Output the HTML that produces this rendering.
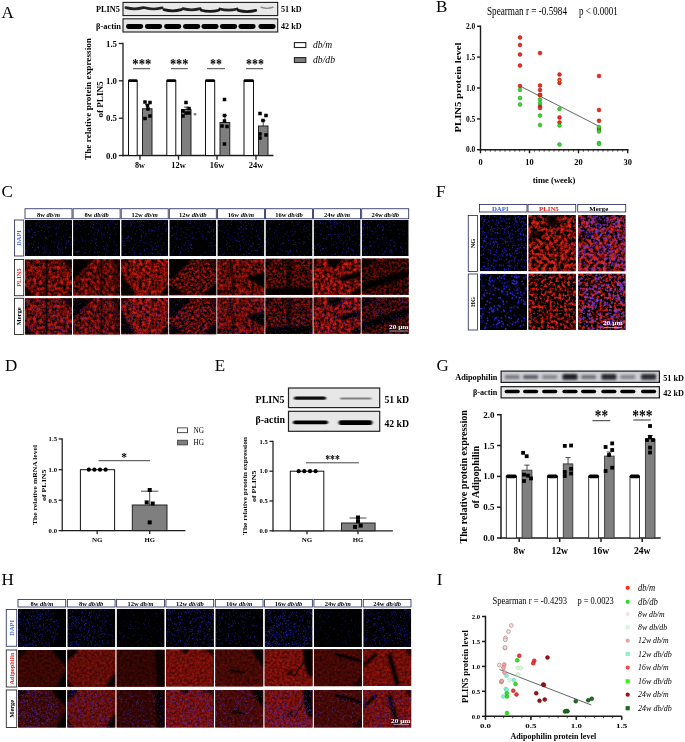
<!DOCTYPE html>
<html><head><meta charset="utf-8"><title>Figure</title>
<style>html,body{margin:0;padding:0;background:#fff}svg{display:block}text{font-family:'Liberation Serif','Times New Roman',serif}</style>
</head><body>
<svg width="685" height="742" viewBox="0 0 685 742">
<defs>
<filter id="b1" x="-20%" y="-100%" width="140%" height="300%"><feGaussianBlur stdDeviation="0.9 0.6"/></filter>
<filter id="b2" x="-20%" y="-100%" width="140%" height="300%"><feGaussianBlur stdDeviation="1.3 0.9"/></filter>
<filter id="b3" x="-20%" y="-100%" width="140%" height="300%"><feGaussianBlur stdDeviation="0.7 0.45"/></filter>
<filter id="rC" x="0" y="0" width="100%" height="100%" color-interpolation-filters="sRGB"><feTurbulence type="fractalNoise" baseFrequency="0.33" numOctaves="3" seed="3"/><feColorMatrix type="matrix" values="2.0 0 0 0 -0.5  0.240 0 0 0 -0.060  0.120 0 0 0 -0.030  0 0 0 0 1"/></filter>
<filter id="rC2" x="0" y="0" width="100%" height="100%" color-interpolation-filters="sRGB"><feTurbulence type="fractalNoise" baseFrequency="0.38" numOctaves="3" seed="11"/><feColorMatrix type="matrix" values="2.2 0 0 0 -0.72  0.264 0 0 0 -0.086  0.132 0 0 0 -0.043  0 0 0 0 1"/></filter>
<filter id="rH" x="0" y="0" width="100%" height="100%" color-interpolation-filters="sRGB"><feTurbulence type="fractalNoise" baseFrequency="0.4" numOctaves="3" seed="5"/><feColorMatrix type="matrix" values="0.7 0 0 0 0.15  0.091 0 0 0 0.019  0.056 0 0 0 0.012  0 0 0 0 1"/></filter>
<filter id="rFn" x="0" y="0" width="100%" height="100%" color-interpolation-filters="sRGB"><feTurbulence type="fractalNoise" baseFrequency="0.28" numOctaves="3" seed="9"/><feColorMatrix type="matrix" values="3.4 0 0 0 -1.22  0.476 0 0 0 -0.171  0.272 0 0 0 -0.098  0 0 0 0 1"/></filter>
<filter id="rFh" x="0" y="0" width="100%" height="100%" color-interpolation-filters="sRGB"><feTurbulence type="fractalNoise" baseFrequency="0.34" numOctaves="2" seed="13"/><feColorMatrix type="matrix" values="4.2 0 0 0 -1.82  0.546 0 0 0 -0.237  0.294 0 0 0 -0.127  0 0 0 0 1"/></filter>
<filter id="bl" x="-30%" y="-30%" width="160%" height="160%"><feGaussianBlur stdDeviation="1.2"/></filter>
<clipPath id="c1"><rect x="25.00" y="220.00" width="47.00" height="36.00"/></clipPath>
<clipPath id="c2"><rect x="25.00" y="259.50" width="47.00" height="36.25"/></clipPath>
<clipPath id="c3"><rect x="25.00" y="259.50" width="47.00" height="36.25"/></clipPath>
<clipPath id="c4"><rect x="73.10" y="220.00" width="47.00" height="36.00"/></clipPath>
<clipPath id="c5"><rect x="73.10" y="259.50" width="47.00" height="36.25"/></clipPath>
<clipPath id="c6"><rect x="73.10" y="259.50" width="47.00" height="36.25"/></clipPath>
<clipPath id="c7"><rect x="121.20" y="220.00" width="47.00" height="36.00"/></clipPath>
<clipPath id="c8"><rect x="121.20" y="259.50" width="47.00" height="36.25"/></clipPath>
<clipPath id="c9"><rect x="121.20" y="259.50" width="47.00" height="36.25"/></clipPath>
<clipPath id="c10"><rect x="169.30" y="220.00" width="47.00" height="36.00"/></clipPath>
<clipPath id="c11"><rect x="169.30" y="259.50" width="47.00" height="36.25"/></clipPath>
<clipPath id="c12"><rect x="169.30" y="259.50" width="47.00" height="36.25"/></clipPath>
<clipPath id="c13"><rect x="217.40" y="220.00" width="47.00" height="36.00"/></clipPath>
<clipPath id="c14"><rect x="217.40" y="259.50" width="47.00" height="36.25"/></clipPath>
<clipPath id="c15"><rect x="217.40" y="259.50" width="47.00" height="36.25"/></clipPath>
<clipPath id="c16"><rect x="265.50" y="220.00" width="47.00" height="36.00"/></clipPath>
<clipPath id="c17"><rect x="265.50" y="259.50" width="47.00" height="36.25"/></clipPath>
<clipPath id="c18"><rect x="265.50" y="259.50" width="47.00" height="36.25"/></clipPath>
<clipPath id="c19"><rect x="313.60" y="220.00" width="47.00" height="36.00"/></clipPath>
<clipPath id="c20"><rect x="313.60" y="259.50" width="47.00" height="36.25"/></clipPath>
<clipPath id="c21"><rect x="313.60" y="259.50" width="47.00" height="36.25"/></clipPath>
<clipPath id="c22"><rect x="361.70" y="220.00" width="47.00" height="36.00"/></clipPath>
<clipPath id="c23"><rect x="361.70" y="259.50" width="47.00" height="36.25"/></clipPath>
<clipPath id="c24"><rect x="361.70" y="259.50" width="47.00" height="36.25"/></clipPath>
<clipPath id="c25"><rect x="480.00" y="215.00" width="47.00" height="56.25"/></clipPath>
<clipPath id="c26"><rect x="528.50" y="215.00" width="47.25" height="56.25"/></clipPath>
<clipPath id="c27"><rect x="528.50" y="215.00" width="47.25" height="56.25"/></clipPath>
<clipPath id="c28"><rect x="578.25" y="215.00" width="47.50" height="56.25"/></clipPath>
<clipPath id="c29"><rect x="480.00" y="273.75" width="47.00" height="56.25"/></clipPath>
<clipPath id="c30"><rect x="528.50" y="273.75" width="47.25" height="56.25"/></clipPath>
<clipPath id="c31"><rect x="528.50" y="273.75" width="47.25" height="56.25"/></clipPath>
<clipPath id="c32"><rect x="578.25" y="273.75" width="47.50" height="56.25"/></clipPath>
<clipPath id="c33"><rect x="18.00" y="608.75" width="48.00" height="38.25"/></clipPath>
<clipPath id="c34"><rect x="18.00" y="650.00" width="48.00" height="37.00"/></clipPath>
<clipPath id="c35"><rect x="18.00" y="650.00" width="48.00" height="37.50"/></clipPath>
<clipPath id="c36"><rect x="67.32" y="608.75" width="48.00" height="38.25"/></clipPath>
<clipPath id="c37"><rect x="67.32" y="650.00" width="48.00" height="37.00"/></clipPath>
<clipPath id="c38"><rect x="67.32" y="650.00" width="48.00" height="37.50"/></clipPath>
<clipPath id="c39"><rect x="116.64" y="608.75" width="48.00" height="38.25"/></clipPath>
<clipPath id="c40"><rect x="116.64" y="650.00" width="48.00" height="37.00"/></clipPath>
<clipPath id="c41"><rect x="116.64" y="650.00" width="48.00" height="37.50"/></clipPath>
<clipPath id="c42"><rect x="165.96" y="608.75" width="48.00" height="38.25"/></clipPath>
<clipPath id="c43"><rect x="165.96" y="650.00" width="48.00" height="37.00"/></clipPath>
<clipPath id="c44"><rect x="165.96" y="650.00" width="48.00" height="37.50"/></clipPath>
<clipPath id="c45"><rect x="215.28" y="608.75" width="48.00" height="38.25"/></clipPath>
<clipPath id="c46"><rect x="215.28" y="650.00" width="48.00" height="37.00"/></clipPath>
<clipPath id="c47"><rect x="215.28" y="650.00" width="48.00" height="37.50"/></clipPath>
<clipPath id="c48"><rect x="264.60" y="608.75" width="48.00" height="38.25"/></clipPath>
<clipPath id="c49"><rect x="264.60" y="650.00" width="48.00" height="37.00"/></clipPath>
<clipPath id="c50"><rect x="264.60" y="650.00" width="48.00" height="37.50"/></clipPath>
<clipPath id="c51"><rect x="313.92" y="608.75" width="48.00" height="38.25"/></clipPath>
<clipPath id="c52"><rect x="313.92" y="650.00" width="48.00" height="37.00"/></clipPath>
<clipPath id="c53"><rect x="313.92" y="650.00" width="48.00" height="37.50"/></clipPath>
<clipPath id="c54"><rect x="363.24" y="608.75" width="48.00" height="38.25"/></clipPath>
<clipPath id="c55"><rect x="363.24" y="650.00" width="48.00" height="37.00"/></clipPath>
<clipPath id="c56"><rect x="363.24" y="650.00" width="48.00" height="37.50"/></clipPath>
</defs>
<rect width="685" height="742" fill="#fff"/>
<text x="1.50" y="18.00" font-size="17">A</text>
<text x="436.00" y="12.00" font-size="17">B</text>
<text x="1.50" y="197.00" font-size="17">C</text>
<text x="5.00" y="371.20" font-size="17">D</text>
<text x="214.70" y="371.00" font-size="17">E</text>
<text x="436.00" y="197.00" font-size="17">F</text>
<text x="436.50" y="370.60" font-size="17">G</text>
<text x="1.50" y="584.50" font-size="17">H</text>
<text x="436.75" y="585.00" font-size="17">I</text>
<text x="96.00" y="12.00" font-size="8.6" font-weight="bold" textLength="24.00" lengthAdjust="spacingAndGlyphs">PLIN5</text>
<text x="96.00" y="28.60" font-size="8.6" font-weight="bold" textLength="25.00" lengthAdjust="spacingAndGlyphs">β-actin</text>
<text x="281.00" y="12.00" font-size="8.6" font-weight="bold" textLength="20.50" lengthAdjust="spacingAndGlyphs">51 kD</text>
<text x="281.00" y="28.80" font-size="8.6" font-weight="bold" textLength="20.50" lengthAdjust="spacingAndGlyphs">42 kD</text>
<rect x="123.00" y="2.40" width="154.70" height="13.20" fill="#e9e9e9"/>
<g filter="url(#b3)">
<path d="M125.8 7.6 Q134.6 10.0 143.3 7.6" fill="none" stroke="#111" stroke-width="2.7" stroke-linecap="round" opacity="0.9"/>
<path d="M144.8 7.8 Q153.5 10.2 162.2 7.8" fill="none" stroke="#111" stroke-width="2.7" stroke-linecap="round" opacity="0.9"/>
<path d="M163.9 9.6 Q172.7 12.0 181.4 9.6" fill="none" stroke="#111" stroke-width="2.7" stroke-linecap="round" opacity="0.95"/>
<path d="M182.8 8.6 Q191.6 11.0 200.3 8.6" fill="none" stroke="#111" stroke-width="2.7" stroke-linecap="round" opacity="0.9"/>
<path d="M201.2 10.2 Q210.0 12.6 218.8 10.2" fill="none" stroke="#111" stroke-width="2.7" stroke-linecap="round" opacity="0.95"/>
<path d="M219.8 9.0 Q228.5 11.4 237.2 9.0" fill="none" stroke="#111" stroke-width="2.7" stroke-linecap="round" opacity="0.9"/>
<path d="M238.2 10.4 Q247.0 12.8 255.8 10.4" fill="none" stroke="#111" stroke-width="2.7" stroke-linecap="round" opacity="0.95"/>
<path d="M261.0 7.2 Q267.0 9.6 273.0 7.2" fill="none" stroke="#111" stroke-width="1.4" stroke-linecap="round" opacity="0.45"/>
</g>
<rect x="123.00" y="2.40" width="154.70" height="13.20" fill="none" stroke="#1a1a1a" stroke-width="1.1"/>
<rect x="123.00" y="18.80" width="154.70" height="13.20" fill="#e4e4e4"/>
<g filter="url(#b3)">
<rect x="126.0" y="23.9" width="17.2" height="5" rx="2.4" fill="#050505"/>
<rect x="144.9" y="23.9" width="17.2" height="5" rx="2.4" fill="#050505"/>
<rect x="164.1" y="23.9" width="17.2" height="5" rx="2.4" fill="#050505"/>
<rect x="183.0" y="23.9" width="17.2" height="5" rx="2.4" fill="#050505"/>
<rect x="201.4" y="23.9" width="17.2" height="5" rx="2.4" fill="#050505"/>
<rect x="219.9" y="23.9" width="17.2" height="5" rx="2.4" fill="#050505"/>
<rect x="238.4" y="23.9" width="17.2" height="5" rx="2.4" fill="#050505"/>
<rect x="258.4" y="23.9" width="17.2" height="5" rx="2.4" fill="#050505"/>
</g>
<rect x="123.00" y="18.80" width="154.70" height="13.20" fill="none" stroke="#1a1a1a" stroke-width="1.1"/>
<line x1="123.00" y1="42.85" x2="123.00" y2="156.15" stroke="#1c1c1c" stroke-width="1.3"/>
<line x1="122.35" y1="155.50" x2="273.50" y2="155.50" stroke="#1c1c1c" stroke-width="1.3"/>
<line x1="118.80" y1="43.50" x2="123.00" y2="43.50" stroke="#1c1c1c" stroke-width="1.3"/>
<text x="117.00" y="46.72" font-size="8.6" font-weight="bold" text-anchor="end" textLength="11.00" lengthAdjust="spacingAndGlyphs">1.5</text>
<line x1="118.80" y1="80.80" x2="123.00" y2="80.80" stroke="#1c1c1c" stroke-width="1.3"/>
<text x="117.00" y="84.02" font-size="8.6" font-weight="bold" text-anchor="end" textLength="11.00" lengthAdjust="spacingAndGlyphs">1.0</text>
<line x1="118.80" y1="118.20" x2="123.00" y2="118.20" stroke="#1c1c1c" stroke-width="1.3"/>
<text x="117.00" y="121.42" font-size="8.6" font-weight="bold" text-anchor="end" textLength="11.00" lengthAdjust="spacingAndGlyphs">0.5</text>
<line x1="118.80" y1="155.50" x2="123.00" y2="155.50" stroke="#1c1c1c" stroke-width="1.3"/>
<text x="117.00" y="158.72" font-size="8.6" font-weight="bold" text-anchor="end" textLength="11.00" lengthAdjust="spacingAndGlyphs">0.0</text>
<line x1="140.00" y1="155.50" x2="140.00" y2="159.70" stroke="#1c1c1c" stroke-width="1.3"/>
<line x1="178.50" y1="155.50" x2="178.50" y2="159.70" stroke="#1c1c1c" stroke-width="1.3"/>
<line x1="217.00" y1="155.50" x2="217.00" y2="159.70" stroke="#1c1c1c" stroke-width="1.3"/>
<line x1="256.00" y1="155.50" x2="256.00" y2="159.70" stroke="#1c1c1c" stroke-width="1.3"/>
<text x="140.00" y="168.30" font-size="8.6" font-weight="bold" text-anchor="middle" textLength="10.00" lengthAdjust="spacingAndGlyphs">8w</text>
<text x="178.50" y="168.30" font-size="8.6" font-weight="bold" text-anchor="middle" textLength="14.50" lengthAdjust="spacingAndGlyphs">12w</text>
<text x="217.00" y="168.30" font-size="8.6" font-weight="bold" text-anchor="middle" textLength="14.50" lengthAdjust="spacingAndGlyphs">16w</text>
<text x="256.00" y="168.30" font-size="8.6" font-weight="bold" text-anchor="middle" textLength="14.50" lengthAdjust="spacingAndGlyphs">24w</text>
<text x="91.00" y="99.00" font-size="9" font-weight="bold" text-anchor="middle" textLength="122.00" lengthAdjust="spacingAndGlyphs" transform="rotate(-90 91.00 99.00)">The relative protein expression</text>
<text x="103.00" y="99.50" font-size="9" font-weight="bold" text-anchor="middle" textLength="36.00" lengthAdjust="spacingAndGlyphs" transform="rotate(-90 103.00 99.50)">of PLIN5</text>
<rect x="294.40" y="42.60" width="11.40" height="4.90" fill="#fff" stroke="#222" stroke-width="1.1"/>
<rect x="294.40" y="57.60" width="11.40" height="4.90" fill="#7f7f7f" stroke="#222" stroke-width="1.1"/>
<text x="313.00" y="47.50" font-size="9.5" font-style="italic" textLength="19.00" lengthAdjust="spacingAndGlyphs">db/m</text>
<text x="313.00" y="62.50" font-size="9.5" font-style="italic" textLength="22.00" lengthAdjust="spacingAndGlyphs">db/db</text>
<rect x="128.50" y="80.80" width="8.70" height="74.70" fill="#fff" stroke="#111" stroke-width="1.0"/>
<rect x="128.20" y="79.20" width="9.30" height="2.70" fill="#000" rx="1.2"/>
<rect x="166.80" y="80.80" width="9.00" height="74.70" fill="#fff" stroke="#111" stroke-width="1.0"/>
<rect x="166.50" y="79.20" width="9.60" height="2.70" fill="#000" rx="1.2"/>
<rect x="205.50" y="80.80" width="9.20" height="74.70" fill="#fff" stroke="#111" stroke-width="1.0"/>
<rect x="205.20" y="79.20" width="9.80" height="2.70" fill="#000" rx="1.2"/>
<rect x="244.00" y="80.80" width="9.50" height="74.70" fill="#fff" stroke="#111" stroke-width="1.0"/>
<rect x="243.70" y="79.20" width="10.10" height="2.70" fill="#000" rx="1.2"/>
<rect x="142.50" y="108.75" width="9.50" height="46.75" fill="#7f7f7f" stroke="#222" stroke-width="1.0"/>
<line x1="147.25" y1="108.75" x2="147.25" y2="104.50" stroke="#1c1c1c" stroke-width="0.8"/>
<line x1="145.05" y1="104.50" x2="149.45" y2="104.50" stroke="#1c1c1c" stroke-width="0.8"/>
<rect x="181.50" y="109.50" width="9.50" height="46.00" fill="#7f7f7f" stroke="#222" stroke-width="1.0"/>
<line x1="186.25" y1="109.50" x2="186.25" y2="107.00" stroke="#1c1c1c" stroke-width="0.8"/>
<line x1="184.05" y1="107.00" x2="188.45" y2="107.00" stroke="#1c1c1c" stroke-width="0.8"/>
<rect x="220.00" y="122.50" width="9.75" height="33.00" fill="#7f7f7f" stroke="#222" stroke-width="1.0"/>
<line x1="224.88" y1="122.50" x2="224.88" y2="115.50" stroke="#1c1c1c" stroke-width="0.8"/>
<line x1="222.68" y1="115.50" x2="227.07" y2="115.50" stroke="#1c1c1c" stroke-width="0.8"/>
<rect x="258.50" y="126.00" width="9.50" height="29.50" fill="#7f7f7f" stroke="#222" stroke-width="1.0"/>
<line x1="263.25" y1="126.00" x2="263.25" y2="120.50" stroke="#1c1c1c" stroke-width="0.8"/>
<line x1="261.05" y1="120.50" x2="265.45" y2="120.50" stroke="#1c1c1c" stroke-width="0.8"/>
<rect x="143.25" y="100.25" width="3.50" height="3.50" fill="#000"/>
<rect x="148.25" y="100.75" width="3.50" height="3.50" fill="#000"/>
<rect x="145.75" y="103.75" width="3.50" height="3.50" fill="#000"/>
<rect x="146.25" y="107.25" width="3.50" height="3.50" fill="#000"/>
<rect x="148.25" y="114.25" width="3.50" height="3.50" fill="#000"/>
<rect x="143.25" y="116.75" width="3.50" height="3.50" fill="#000"/>
<rect x="184.25" y="100.75" width="3.50" height="3.50" fill="#000"/>
<rect x="187.25" y="106.75" width="3.50" height="3.50" fill="#000"/>
<rect x="181.25" y="109.25" width="3.50" height="3.50" fill="#000"/>
<rect x="184.25" y="111.25" width="3.50" height="3.50" fill="#000"/>
<rect x="187.25" y="111.25" width="3.50" height="3.50" fill="#000"/>
<rect x="181.25" y="114.25" width="3.50" height="3.50" fill="#000"/>
<rect x="222.75" y="97.75" width="3.50" height="3.50" fill="#000"/>
<rect x="222.75" y="113.75" width="3.50" height="3.50" fill="#000"/>
<rect x="222.75" y="119.25" width="3.50" height="3.50" fill="#000"/>
<rect x="220.25" y="124.25" width="3.50" height="3.50" fill="#000"/>
<rect x="225.25" y="124.75" width="3.50" height="3.50" fill="#000"/>
<rect x="222.75" y="142.25" width="3.50" height="3.50" fill="#000"/>
<rect x="258.25" y="111.75" width="3.50" height="3.50" fill="#000"/>
<rect x="264.25" y="113.75" width="3.50" height="3.50" fill="#000"/>
<rect x="261.25" y="118.75" width="3.50" height="3.50" fill="#000"/>
<rect x="258.25" y="132.25" width="3.50" height="3.50" fill="#000"/>
<rect x="264.25" y="133.25" width="3.50" height="3.50" fill="#000"/>
<rect x="258.25" y="136.25" width="3.50" height="3.50" fill="#000"/>
<text x="141.80" y="68.60" font-size="15" font-weight="bold" text-anchor="middle" textLength="19.00" lengthAdjust="spacingAndGlyphs">***</text>
<line x1="133.00" y1="68.70" x2="150.10" y2="68.70" stroke="#444" stroke-width="1.0"/>
<text x="179.20" y="68.60" font-size="15" font-weight="bold" text-anchor="middle" textLength="18.60" lengthAdjust="spacingAndGlyphs">***</text>
<line x1="171.00" y1="68.70" x2="187.80" y2="68.70" stroke="#444" stroke-width="1.0"/>
<text x="216.00" y="68.60" font-size="15" font-weight="bold" text-anchor="middle" textLength="12.00" lengthAdjust="spacingAndGlyphs">**</text>
<line x1="207.00" y1="68.70" x2="225.00" y2="68.70" stroke="#444" stroke-width="1.0"/>
<text x="255.00" y="68.60" font-size="15" font-weight="bold" text-anchor="middle" textLength="18.00" lengthAdjust="spacingAndGlyphs">***</text>
<line x1="246.00" y1="68.70" x2="263.00" y2="68.70" stroke="#444" stroke-width="1.0"/>
<text x="195.00" y="117.20" font-size="7" font-weight="bold" text-anchor="middle" fill="#444">*</text>
<text x="487.00" y="15.00" font-size="12" textLength="80.00" lengthAdjust="spacingAndGlyphs">Spearman r = -0.5984</text>
<text x="579.00" y="15.00" font-size="12" textLength="38.75" lengthAdjust="spacingAndGlyphs">p &lt; 0.0001</text>
<line x1="480.50" y1="25.55" x2="480.50" y2="150.40" stroke="#1c1c1c" stroke-width="1.4"/>
<line x1="479.80" y1="149.70" x2="628.50" y2="149.70" stroke="#1c1c1c" stroke-width="1.4"/>
<line x1="477.00" y1="26.25" x2="480.50" y2="26.25" stroke="#1c1c1c" stroke-width="1.4"/>
<text x="475.30" y="29.00" font-size="7.2" font-weight="bold" text-anchor="end" textLength="9.30" lengthAdjust="spacingAndGlyphs">2.0</text>
<line x1="477.00" y1="57.10" x2="480.50" y2="57.10" stroke="#1c1c1c" stroke-width="1.4"/>
<text x="475.30" y="59.85" font-size="7.2" font-weight="bold" text-anchor="end" textLength="9.30" lengthAdjust="spacingAndGlyphs">1.5</text>
<line x1="477.00" y1="88.00" x2="480.50" y2="88.00" stroke="#1c1c1c" stroke-width="1.4"/>
<text x="475.30" y="90.75" font-size="7.2" font-weight="bold" text-anchor="end" textLength="9.30" lengthAdjust="spacingAndGlyphs">1.0</text>
<line x1="477.00" y1="118.90" x2="480.50" y2="118.90" stroke="#1c1c1c" stroke-width="1.4"/>
<text x="475.30" y="121.65" font-size="7.2" font-weight="bold" text-anchor="end" textLength="9.30" lengthAdjust="spacingAndGlyphs">0.5</text>
<line x1="477.00" y1="149.70" x2="480.50" y2="149.70" stroke="#1c1c1c" stroke-width="1.4"/>
<text x="475.30" y="152.45" font-size="7.2" font-weight="bold" text-anchor="end" textLength="9.30" lengthAdjust="spacingAndGlyphs">0.0</text>
<line x1="480.50" y1="149.70" x2="480.50" y2="151.70" stroke="#1c1c1c" stroke-width="0.8"/>
<line x1="485.40" y1="149.70" x2="485.40" y2="151.70" stroke="#1c1c1c" stroke-width="0.8"/>
<line x1="490.30" y1="149.70" x2="490.30" y2="151.70" stroke="#1c1c1c" stroke-width="0.8"/>
<line x1="495.20" y1="149.70" x2="495.20" y2="151.70" stroke="#1c1c1c" stroke-width="0.8"/>
<line x1="500.10" y1="149.70" x2="500.10" y2="151.70" stroke="#1c1c1c" stroke-width="0.8"/>
<line x1="505.00" y1="149.70" x2="505.00" y2="151.70" stroke="#1c1c1c" stroke-width="0.8"/>
<line x1="509.90" y1="149.70" x2="509.90" y2="151.70" stroke="#1c1c1c" stroke-width="0.8"/>
<line x1="514.80" y1="149.70" x2="514.80" y2="151.70" stroke="#1c1c1c" stroke-width="0.8"/>
<line x1="519.70" y1="149.70" x2="519.70" y2="151.70" stroke="#1c1c1c" stroke-width="0.8"/>
<line x1="524.60" y1="149.70" x2="524.60" y2="151.70" stroke="#1c1c1c" stroke-width="0.8"/>
<line x1="529.50" y1="149.70" x2="529.50" y2="151.70" stroke="#1c1c1c" stroke-width="0.8"/>
<line x1="534.40" y1="149.70" x2="534.40" y2="151.70" stroke="#1c1c1c" stroke-width="0.8"/>
<line x1="539.30" y1="149.70" x2="539.30" y2="151.70" stroke="#1c1c1c" stroke-width="0.8"/>
<line x1="544.20" y1="149.70" x2="544.20" y2="151.70" stroke="#1c1c1c" stroke-width="0.8"/>
<line x1="549.10" y1="149.70" x2="549.10" y2="151.70" stroke="#1c1c1c" stroke-width="0.8"/>
<line x1="554.00" y1="149.70" x2="554.00" y2="151.70" stroke="#1c1c1c" stroke-width="0.8"/>
<line x1="558.90" y1="149.70" x2="558.90" y2="151.70" stroke="#1c1c1c" stroke-width="0.8"/>
<line x1="563.80" y1="149.70" x2="563.80" y2="151.70" stroke="#1c1c1c" stroke-width="0.8"/>
<line x1="568.70" y1="149.70" x2="568.70" y2="151.70" stroke="#1c1c1c" stroke-width="0.8"/>
<line x1="573.60" y1="149.70" x2="573.60" y2="151.70" stroke="#1c1c1c" stroke-width="0.8"/>
<line x1="578.50" y1="149.70" x2="578.50" y2="151.70" stroke="#1c1c1c" stroke-width="0.8"/>
<line x1="583.40" y1="149.70" x2="583.40" y2="151.70" stroke="#1c1c1c" stroke-width="0.8"/>
<line x1="588.30" y1="149.70" x2="588.30" y2="151.70" stroke="#1c1c1c" stroke-width="0.8"/>
<line x1="593.20" y1="149.70" x2="593.20" y2="151.70" stroke="#1c1c1c" stroke-width="0.8"/>
<line x1="598.10" y1="149.70" x2="598.10" y2="151.70" stroke="#1c1c1c" stroke-width="0.8"/>
<line x1="603.00" y1="149.70" x2="603.00" y2="151.70" stroke="#1c1c1c" stroke-width="0.8"/>
<line x1="607.90" y1="149.70" x2="607.90" y2="151.70" stroke="#1c1c1c" stroke-width="0.8"/>
<line x1="612.80" y1="149.70" x2="612.80" y2="151.70" stroke="#1c1c1c" stroke-width="0.8"/>
<line x1="617.70" y1="149.70" x2="617.70" y2="151.70" stroke="#1c1c1c" stroke-width="0.8"/>
<line x1="622.60" y1="149.70" x2="622.60" y2="151.70" stroke="#1c1c1c" stroke-width="0.8"/>
<line x1="627.50" y1="149.70" x2="627.50" y2="151.70" stroke="#1c1c1c" stroke-width="0.8"/>
<line x1="480.50" y1="149.70" x2="480.50" y2="153.30" stroke="#1c1c1c" stroke-width="1.4"/>
<text x="480.50" y="165.00" font-size="7.4" font-weight="bold" text-anchor="middle" textLength="4.20" lengthAdjust="spacingAndGlyphs">0</text>
<line x1="529.50" y1="149.70" x2="529.50" y2="153.30" stroke="#1c1c1c" stroke-width="1.4"/>
<text x="529.50" y="165.00" font-size="7.4" font-weight="bold" text-anchor="middle" textLength="8.40" lengthAdjust="spacingAndGlyphs">10</text>
<line x1="578.50" y1="149.70" x2="578.50" y2="153.30" stroke="#1c1c1c" stroke-width="1.4"/>
<text x="578.50" y="165.00" font-size="7.4" font-weight="bold" text-anchor="middle" textLength="8.40" lengthAdjust="spacingAndGlyphs">20</text>
<line x1="627.70" y1="149.70" x2="627.70" y2="153.30" stroke="#1c1c1c" stroke-width="1.4"/>
<text x="627.70" y="165.00" font-size="7.4" font-weight="bold" text-anchor="middle" textLength="8.40" lengthAdjust="spacingAndGlyphs">30</text>
<text x="532.75" y="183.30" font-size="9" font-weight="bold" textLength="42.50" lengthAdjust="spacingAndGlyphs">time (week)</text>
<text x="460.70" y="87.50" font-size="8.4" font-weight="bold" text-anchor="middle" textLength="90.00" lengthAdjust="spacingAndGlyphs" transform="rotate(-90 460.70 87.50)">PLIN5 protein level</text>
<line x1="520.00" y1="86.00" x2="599.00" y2="126.25" stroke="#222" stroke-width="0.7"/>
<circle cx="520.00" cy="37.50" r="1.9" fill="#ee2a1c" stroke="#a01008" stroke-width="0.5"/>
<circle cx="520.00" cy="45.00" r="1.9" fill="#ee2a1c" stroke="#a01008" stroke-width="0.5"/>
<circle cx="520.00" cy="54.50" r="1.9" fill="#ee2a1c" stroke="#a01008" stroke-width="0.5"/>
<circle cx="520.00" cy="65.50" r="1.9" fill="#ee2a1c" stroke="#a01008" stroke-width="0.5"/>
<circle cx="520.00" cy="86.00" r="1.9" fill="#ee2a1c" stroke="#a01008" stroke-width="0.5"/>
<circle cx="540.00" cy="53.00" r="1.9" fill="#ee2a1c" stroke="#a01008" stroke-width="0.5"/>
<circle cx="540.00" cy="85.50" r="1.9" fill="#ee2a1c" stroke="#a01008" stroke-width="0.5"/>
<circle cx="540.00" cy="90.00" r="1.9" fill="#ee2a1c" stroke="#a01008" stroke-width="0.5"/>
<circle cx="540.00" cy="95.00" r="1.9" fill="#ee2a1c" stroke="#a01008" stroke-width="0.5"/>
<circle cx="540.00" cy="106.00" r="1.9" fill="#ee2a1c" stroke="#a01008" stroke-width="0.5"/>
<circle cx="540.00" cy="108.00" r="1.9" fill="#ee2a1c" stroke="#a01008" stroke-width="0.5"/>
<circle cx="559.50" cy="74.50" r="1.9" fill="#ee2a1c" stroke="#a01008" stroke-width="0.5"/>
<circle cx="559.50" cy="80.00" r="1.9" fill="#ee2a1c" stroke="#a01008" stroke-width="0.5"/>
<circle cx="559.50" cy="83.00" r="1.9" fill="#ee2a1c" stroke="#a01008" stroke-width="0.5"/>
<circle cx="559.50" cy="117.50" r="1.9" fill="#ee2a1c" stroke="#a01008" stroke-width="0.5"/>
<circle cx="559.50" cy="122.50" r="1.9" fill="#ee2a1c" stroke="#a01008" stroke-width="0.5"/>
<circle cx="599.00" cy="76.00" r="1.9" fill="#ee2a1c" stroke="#a01008" stroke-width="0.5"/>
<circle cx="599.00" cy="110.00" r="1.9" fill="#ee2a1c" stroke="#a01008" stroke-width="0.5"/>
<circle cx="599.00" cy="120.75" r="1.9" fill="#ee2a1c" stroke="#a01008" stroke-width="0.5"/>
<circle cx="599.00" cy="128.50" r="1.9" fill="#ee2a1c" stroke="#a01008" stroke-width="0.5"/>
<circle cx="599.00" cy="130.00" r="1.9" fill="#ee2a1c" stroke="#a01008" stroke-width="0.5"/>
<circle cx="520.00" cy="90.00" r="1.9" fill="#35d52e" stroke="#1f9a1a" stroke-width="0.5"/>
<circle cx="520.00" cy="98.00" r="1.9" fill="#35d52e" stroke="#1f9a1a" stroke-width="0.5"/>
<circle cx="520.00" cy="104.50" r="1.9" fill="#35d52e" stroke="#1f9a1a" stroke-width="0.5"/>
<circle cx="540.00" cy="99.50" r="1.9" fill="#35d52e" stroke="#1f9a1a" stroke-width="0.5"/>
<circle cx="540.00" cy="103.00" r="1.9" fill="#35d52e" stroke="#1f9a1a" stroke-width="0.5"/>
<circle cx="540.00" cy="115.50" r="1.9" fill="#35d52e" stroke="#1f9a1a" stroke-width="0.5"/>
<circle cx="540.00" cy="125.00" r="1.9" fill="#35d52e" stroke="#1f9a1a" stroke-width="0.5"/>
<circle cx="559.50" cy="109.00" r="1.9" fill="#35d52e" stroke="#1f9a1a" stroke-width="0.5"/>
<circle cx="559.50" cy="125.50" r="1.9" fill="#35d52e" stroke="#1f9a1a" stroke-width="0.5"/>
<circle cx="559.50" cy="144.50" r="1.9" fill="#35d52e" stroke="#1f9a1a" stroke-width="0.5"/>
<circle cx="599.00" cy="127.00" r="1.9" fill="#35d52e" stroke="#1f9a1a" stroke-width="0.5"/>
<circle cx="599.00" cy="131.50" r="1.9" fill="#35d52e" stroke="#1f9a1a" stroke-width="0.5"/>
<circle cx="599.00" cy="143.00" r="1.9" fill="#35d52e" stroke="#1f9a1a" stroke-width="0.5"/>
<circle cx="599.00" cy="144.00" r="1.9" fill="#35d52e" stroke="#1f9a1a" stroke-width="0.5"/>
<circle cx="540.00" cy="95.00" r="1.9" fill="#ee2a1c" stroke="#a01008" stroke-width="0.5"/>
<circle cx="559.50" cy="80.50" r="1.0" fill="#c8b020"/>
<line x1="62.20" y1="438.38" x2="62.20" y2="531.23" stroke="#1c1c1c" stroke-width="1.25"/>
<line x1="61.58" y1="530.60" x2="185.40" y2="530.60" stroke="#1c1c1c" stroke-width="1.25"/>
<line x1="58.70" y1="439.00" x2="62.20" y2="439.00" stroke="#1c1c1c" stroke-width="1.25"/>
<text x="57.00" y="441.34" font-size="6.0" font-weight="bold" text-anchor="end" textLength="8.40" lengthAdjust="spacingAndGlyphs">1.5</text>
<line x1="58.70" y1="469.70" x2="62.20" y2="469.70" stroke="#1c1c1c" stroke-width="1.25"/>
<text x="57.00" y="472.04" font-size="6.0" font-weight="bold" text-anchor="end" textLength="8.40" lengthAdjust="spacingAndGlyphs">1.0</text>
<line x1="58.70" y1="500.20" x2="62.20" y2="500.20" stroke="#1c1c1c" stroke-width="1.25"/>
<text x="57.00" y="502.54" font-size="6.0" font-weight="bold" text-anchor="end" textLength="8.40" lengthAdjust="spacingAndGlyphs">0.5</text>
<line x1="58.70" y1="530.60" x2="62.20" y2="530.60" stroke="#1c1c1c" stroke-width="1.25"/>
<text x="57.00" y="532.94" font-size="6.0" font-weight="bold" text-anchor="end" textLength="8.40" lengthAdjust="spacingAndGlyphs">0.0</text>
<line x1="97.20" y1="530.60" x2="97.20" y2="534.10" stroke="#1c1c1c" stroke-width="1.25"/>
<line x1="149.70" y1="530.60" x2="149.70" y2="534.10" stroke="#1c1c1c" stroke-width="1.25"/>
<rect x="80.40" y="469.70" width="34.20" height="60.90" fill="#fff" stroke="#111" stroke-width="1.0"/>
<rect x="132.30" y="505.00" width="34.70" height="25.60" fill="#7f7f7f" stroke="#222" stroke-width="1.0"/>
<circle cx="88.80" cy="469.70" r="2.1" fill="#000"/>
<circle cx="94.40" cy="469.70" r="2.1" fill="#000"/>
<circle cx="100.00" cy="469.70" r="2.1" fill="#000"/>
<circle cx="105.60" cy="469.70" r="2.1" fill="#000"/>
<line x1="149.70" y1="505.00" x2="149.70" y2="491.20" stroke="#1c1c1c" stroke-width="0.8"/>
<line x1="141.00" y1="491.20" x2="158.30" y2="491.20" stroke="#1c1c1c" stroke-width="0.8"/>
<rect x="147.70" y="488.00" width="4.00" height="4.00" fill="#000"/>
<rect x="144.70" y="500.40" width="4.00" height="4.00" fill="#000"/>
<rect x="150.70" y="501.50" width="4.00" height="4.00" fill="#000"/>
<rect x="147.70" y="520.40" width="4.00" height="4.00" fill="#000"/>
<line x1="98.50" y1="460.70" x2="150.00" y2="460.70" stroke="#444" stroke-width="1.0"/>
<text x="124.00" y="460.60" font-size="11.5" font-weight="bold" text-anchor="middle">*</text>
<text x="97.20" y="542.00" font-size="6.3" font-weight="bold" text-anchor="middle" textLength="10.50" lengthAdjust="spacingAndGlyphs">NG</text>
<text x="149.70" y="542.00" font-size="6.3" font-weight="bold" text-anchor="middle" textLength="10.50" lengthAdjust="spacingAndGlyphs">HG</text>
<text x="37.00" y="485.00" font-size="6.7" font-weight="bold" text-anchor="middle" textLength="80.00" lengthAdjust="spacingAndGlyphs" transform="rotate(-90 37.00 485.00)">The relative mRNA level</text>
<text x="45.70" y="485.30" font-size="6.7" font-weight="bold" text-anchor="middle" textLength="31.50" lengthAdjust="spacingAndGlyphs" transform="rotate(-90 45.70 485.30)">of PLIN5</text>
<rect x="177.60" y="427.90" width="9.90" height="4.80" fill="#fff" stroke="#222" stroke-width="0.8"/>
<rect x="177.60" y="440.20" width="9.90" height="4.70" fill="#7f7f7f" stroke="#333" stroke-width="0.8"/>
<text x="193.50" y="432.90" font-size="7.3" textLength="10.50" lengthAdjust="spacingAndGlyphs">NG</text>
<text x="193.50" y="445.10" font-size="7.3" textLength="10.50" lengthAdjust="spacingAndGlyphs">HG</text>
<text x="255.50" y="403.30" font-size="11.4" font-weight="bold" textLength="29.00" lengthAdjust="spacingAndGlyphs">PLIN5</text>
<text x="255.50" y="422.60" font-size="11.4" font-weight="bold" textLength="29.50" lengthAdjust="spacingAndGlyphs">β-actin</text>
<text x="384.40" y="402.90" font-size="11.4" font-weight="bold" textLength="24.60" lengthAdjust="spacingAndGlyphs">51 kD</text>
<text x="384.40" y="427.10" font-size="11.4" font-weight="bold" textLength="24.60" lengthAdjust="spacingAndGlyphs">42 kD</text>
<rect x="288.50" y="388.00" width="91.20" height="19.60" fill="#e7e7e7"/>
<g filter="url(#b1)">
<rect x="294" y="396.5" width="32" height="3.3" rx="1.6" fill="#0a0a0a"/>
<rect x="340" y="397.4" width="31.5" height="2.0" rx="1" fill="#555" opacity="0.7"/>
</g>
<rect x="288.50" y="388.00" width="91.20" height="19.60" fill="none" stroke="#222" stroke-width="1.2"/>
<rect x="288.50" y="411.30" width="91.20" height="20.00" fill="#e7e7e7"/>
<g filter="url(#b1)">
<rect x="293" y="420.6" width="35" height="3.6" rx="1.8" fill="#050505"/>
<rect x="338.5" y="420.3" width="34" height="4.8" rx="2.4" fill="#050505"/>
</g>
<rect x="288.50" y="411.30" width="91.20" height="20.00" fill="none" stroke="#222" stroke-width="1.2"/>
<line x1="273.00" y1="440.77" x2="273.00" y2="531.42" stroke="#1c1c1c" stroke-width="1.25"/>
<line x1="272.38" y1="530.80" x2="392.90" y2="530.80" stroke="#1c1c1c" stroke-width="1.25"/>
<line x1="269.50" y1="441.40" x2="273.00" y2="441.40" stroke="#1c1c1c" stroke-width="1.25"/>
<text x="267.80" y="443.67" font-size="5.8" font-weight="bold" text-anchor="end" textLength="8.30" lengthAdjust="spacingAndGlyphs">1.5</text>
<line x1="269.50" y1="471.20" x2="273.00" y2="471.20" stroke="#1c1c1c" stroke-width="1.25"/>
<text x="267.80" y="473.47" font-size="5.8" font-weight="bold" text-anchor="end" textLength="8.30" lengthAdjust="spacingAndGlyphs">1.0</text>
<line x1="269.50" y1="501.00" x2="273.00" y2="501.00" stroke="#1c1c1c" stroke-width="1.25"/>
<text x="267.80" y="503.27" font-size="5.8" font-weight="bold" text-anchor="end" textLength="8.30" lengthAdjust="spacingAndGlyphs">0.5</text>
<line x1="269.50" y1="530.80" x2="273.00" y2="530.80" stroke="#1c1c1c" stroke-width="1.25"/>
<text x="267.80" y="533.07" font-size="5.8" font-weight="bold" text-anchor="end" textLength="8.30" lengthAdjust="spacingAndGlyphs">0.0</text>
<line x1="307.00" y1="530.80" x2="307.00" y2="534.30" stroke="#1c1c1c" stroke-width="1.25"/>
<line x1="358.00" y1="530.80" x2="358.00" y2="534.30" stroke="#1c1c1c" stroke-width="1.25"/>
<rect x="290.30" y="471.20" width="33.50" height="59.60" fill="#fff" stroke="#111" stroke-width="1.0"/>
<rect x="341.50" y="523.00" width="33.60" height="7.80" fill="#7f7f7f" stroke="#222" stroke-width="1.0"/>
<circle cx="298.70" cy="471.20" r="2.1" fill="#000"/>
<circle cx="304.30" cy="471.20" r="2.1" fill="#000"/>
<circle cx="310.00" cy="471.20" r="2.1" fill="#000"/>
<circle cx="315.60" cy="471.20" r="2.1" fill="#000"/>
<line x1="358.00" y1="523.00" x2="358.00" y2="518.00" stroke="#1c1c1c" stroke-width="0.8"/>
<line x1="349.50" y1="518.00" x2="366.40" y2="518.00" stroke="#1c1c1c" stroke-width="0.8"/>
<rect x="356.00" y="515.50" width="4.00" height="4.00" fill="#000"/>
<rect x="356.00" y="519.30" width="4.00" height="4.00" fill="#000"/>
<rect x="353.10" y="524.90" width="4.00" height="4.00" fill="#000"/>
<rect x="358.70" y="523.60" width="4.00" height="4.00" fill="#000"/>
<line x1="306.00" y1="462.80" x2="358.90" y2="462.80" stroke="#444" stroke-width="1.0"/>
<text x="332.50" y="462.60" font-size="11.5" font-weight="bold" text-anchor="middle" textLength="14.60" lengthAdjust="spacingAndGlyphs">***</text>
<text x="307.00" y="541.80" font-size="6.3" font-weight="bold" text-anchor="middle" textLength="10.50" lengthAdjust="spacingAndGlyphs">NG</text>
<text x="358.00" y="541.80" font-size="6.3" font-weight="bold" text-anchor="middle" textLength="10.50" lengthAdjust="spacingAndGlyphs">HG</text>
<text x="247.30" y="486.00" font-size="6.4" font-weight="bold" text-anchor="middle" textLength="98.00" lengthAdjust="spacingAndGlyphs" transform="rotate(-90 247.30 486.00)">The relative protein expression</text>
<text x="256.40" y="486.20" font-size="6.4" font-weight="bold" text-anchor="middle" textLength="31.60" lengthAdjust="spacingAndGlyphs" transform="rotate(-90 256.40 486.20)">of PLIN5</text>
<text x="455.20" y="380.40" font-size="8.6" font-weight="bold" textLength="42.10" lengthAdjust="spacingAndGlyphs">Adipophilin</text>
<text x="473.00" y="395.40" font-size="8.6" font-weight="bold" textLength="24.30" lengthAdjust="spacingAndGlyphs">β-actin</text>
<text x="663.20" y="380.50" font-size="8.6" font-weight="bold" textLength="20.80" lengthAdjust="spacingAndGlyphs">51 kD</text>
<text x="663.20" y="396.00" font-size="8.6" font-weight="bold" textLength="20.80" lengthAdjust="spacingAndGlyphs">42 kD</text>
<rect x="501.10" y="371.10" width="158.30" height="11.30" fill="#cdcdd5"/>
<g filter="url(#b2)">
<rect x="504.7" y="374.9" width="15" height="4.0" rx="1.5" fill="#15151c" opacity="0.45"/>
<rect x="523.1" y="374.9" width="15" height="4.0" rx="1.5" fill="#15151c" opacity="0.6"/>
<rect x="542.2" y="374.9" width="15" height="4.0" rx="1.5" fill="#15151c" opacity="0.4"/>
<rect x="562.5" y="374.0" width="15" height="5.8" rx="1.5" fill="#15151c" opacity="0.95"/>
<rect x="581.1" y="374.9" width="15" height="4.0" rx="1.5" fill="#15151c" opacity="0.5"/>
<rect x="601.4" y="374.0" width="15" height="5.8" rx="1.5" fill="#15151c" opacity="0.9"/>
<rect x="620.3" y="374.9" width="15" height="4.0" rx="1.5" fill="#15151c" opacity="0.4"/>
<rect x="641.1" y="374.0" width="15" height="5.8" rx="1.5" fill="#15151c" opacity="0.88"/>
</g>
<rect x="501.10" y="371.10" width="158.30" height="11.30" fill="none" stroke="#1a1a1a" stroke-width="1.2"/>
<rect x="501.10" y="386.70" width="158.30" height="11.20" fill="#ececec"/>
<g filter="url(#b3)">
<rect x="504.6" y="389.8" width="15.2" height="3.4" rx="1.7" fill="#050505"/>
<rect x="523.0" y="389.8" width="15.2" height="3.4" rx="1.7" fill="#050505"/>
<rect x="542.1" y="389.8" width="15.2" height="3.4" rx="1.7" fill="#050505"/>
<rect x="562.4" y="389.8" width="15.2" height="3.4" rx="1.7" fill="#050505"/>
<rect x="581.0" y="389.8" width="15.2" height="3.4" rx="1.7" fill="#050505"/>
<rect x="601.3" y="389.8" width="15.2" height="3.4" rx="1.7" fill="#050505"/>
<rect x="620.2" y="389.8" width="15.2" height="3.4" rx="1.7" fill="#050505"/>
<rect x="641.0" y="389.8" width="15.2" height="3.4" rx="1.7" fill="#050505"/>
</g>
<rect x="501.10" y="386.70" width="158.30" height="11.20" fill="none" stroke="#1a1a1a" stroke-width="1.2"/>
<line x1="501.00" y1="413.95" x2="501.00" y2="538.75" stroke="#1c1c1c" stroke-width="1.5"/>
<line x1="500.25" y1="538.00" x2="660.70" y2="538.00" stroke="#1c1c1c" stroke-width="1.5"/>
<line x1="497.00" y1="414.70" x2="501.00" y2="414.70" stroke="#1c1c1c" stroke-width="1.5"/>
<text x="494.50" y="417.72" font-size="8.0" font-weight="bold" text-anchor="end" textLength="11.20" lengthAdjust="spacingAndGlyphs">2.0</text>
<line x1="497.00" y1="445.50" x2="501.00" y2="445.50" stroke="#1c1c1c" stroke-width="1.5"/>
<text x="494.50" y="448.52" font-size="8.0" font-weight="bold" text-anchor="end" textLength="11.20" lengthAdjust="spacingAndGlyphs">1.5</text>
<line x1="497.00" y1="476.40" x2="501.00" y2="476.40" stroke="#1c1c1c" stroke-width="1.5"/>
<text x="494.50" y="479.42" font-size="8.0" font-weight="bold" text-anchor="end" textLength="11.20" lengthAdjust="spacingAndGlyphs">1.0</text>
<line x1="497.00" y1="507.20" x2="501.00" y2="507.20" stroke="#1c1c1c" stroke-width="1.5"/>
<text x="494.50" y="510.22" font-size="8.0" font-weight="bold" text-anchor="end" textLength="11.20" lengthAdjust="spacingAndGlyphs">0.5</text>
<line x1="497.00" y1="538.00" x2="501.00" y2="538.00" stroke="#1c1c1c" stroke-width="1.5"/>
<text x="494.50" y="541.02" font-size="8.0" font-weight="bold" text-anchor="end" textLength="11.20" lengthAdjust="spacingAndGlyphs">0.0</text>
<line x1="519.20" y1="538.00" x2="519.20" y2="542.00" stroke="#1c1c1c" stroke-width="1.5"/>
<line x1="559.70" y1="538.00" x2="559.70" y2="542.00" stroke="#1c1c1c" stroke-width="1.5"/>
<line x1="601.00" y1="538.00" x2="601.00" y2="542.00" stroke="#1c1c1c" stroke-width="1.5"/>
<line x1="642.20" y1="538.00" x2="642.20" y2="542.00" stroke="#1c1c1c" stroke-width="1.5"/>
<text x="519.20" y="554.00" font-size="9.6" font-weight="bold" text-anchor="middle" textLength="11.50" lengthAdjust="spacingAndGlyphs">8w</text>
<text x="559.70" y="554.00" font-size="9.6" font-weight="bold" text-anchor="middle" textLength="16.50" lengthAdjust="spacingAndGlyphs">12w</text>
<text x="601.00" y="554.00" font-size="9.6" font-weight="bold" text-anchor="middle" textLength="16.50" lengthAdjust="spacingAndGlyphs">16w</text>
<text x="642.20" y="554.00" font-size="9.6" font-weight="bold" text-anchor="middle" textLength="16.50" lengthAdjust="spacingAndGlyphs">24w</text>
<text x="467.20" y="476.80" font-size="10" font-weight="bold" text-anchor="middle" textLength="133.60" lengthAdjust="spacingAndGlyphs" transform="rotate(-90 467.20 476.80)">The relative protein expression</text>
<text x="479.50" y="477.20" font-size="10" font-weight="bold" text-anchor="middle" textLength="62.60" lengthAdjust="spacingAndGlyphs" transform="rotate(-90 479.50 477.20)">of Adipophilin</text>
<rect x="506.30" y="476.40" width="10.10" height="61.60" fill="#fff" stroke="#222" stroke-width="0.9"/>
<rect x="505.90" y="474.60" width="10.90" height="3.60" fill="#000" rx="1.8"/>
<rect x="547.40" y="476.40" width="10.00" height="61.60" fill="#fff" stroke="#222" stroke-width="0.9"/>
<rect x="547.00" y="474.60" width="10.80" height="3.60" fill="#000" rx="1.8"/>
<rect x="588.70" y="476.40" width="9.90" height="61.60" fill="#fff" stroke="#222" stroke-width="0.9"/>
<rect x="588.30" y="474.60" width="10.70" height="3.60" fill="#000" rx="1.8"/>
<rect x="630.00" y="476.40" width="9.50" height="61.60" fill="#fff" stroke="#222" stroke-width="0.9"/>
<rect x="629.60" y="474.60" width="10.30" height="3.60" fill="#000" rx="1.8"/>
<rect x="522.10" y="470.20" width="9.80" height="67.80" fill="#7f7f7f" stroke="#333" stroke-width="0.9"/>
<line x1="527.00" y1="470.20" x2="527.00" y2="465.10" stroke="#1c1c1c" stroke-width="0.8"/>
<line x1="524.40" y1="465.10" x2="529.60" y2="465.10" stroke="#1c1c1c" stroke-width="0.8"/>
<rect x="563.30" y="463.90" width="9.50" height="74.10" fill="#7f7f7f" stroke="#333" stroke-width="0.9"/>
<line x1="568.05" y1="463.90" x2="568.05" y2="457.60" stroke="#1c1c1c" stroke-width="0.8"/>
<line x1="565.45" y1="457.60" x2="570.65" y2="457.60" stroke="#1c1c1c" stroke-width="0.8"/>
<rect x="604.60" y="456.10" width="9.50" height="81.90" fill="#7f7f7f" stroke="#333" stroke-width="0.9"/>
<line x1="609.35" y1="456.10" x2="609.35" y2="452.00" stroke="#1c1c1c" stroke-width="0.8"/>
<line x1="606.75" y1="452.00" x2="611.95" y2="452.00" stroke="#1c1c1c" stroke-width="0.8"/>
<rect x="645.40" y="439.20" width="9.60" height="98.80" fill="#7f7f7f" stroke="#333" stroke-width="0.9"/>
<line x1="650.20" y1="439.20" x2="650.20" y2="435.50" stroke="#1c1c1c" stroke-width="0.8"/>
<line x1="647.60" y1="435.50" x2="652.80" y2="435.50" stroke="#1c1c1c" stroke-width="0.8"/>
<rect x="521.20" y="450.90" width="3.80" height="3.80" fill="#000"/>
<rect x="524.80" y="454.30" width="3.80" height="3.80" fill="#000"/>
<rect x="522.10" y="472.70" width="3.80" height="3.80" fill="#000"/>
<rect x="526.10" y="473.70" width="3.80" height="3.80" fill="#000"/>
<rect x="529.10" y="476.50" width="3.80" height="3.80" fill="#000"/>
<rect x="522.10" y="479.10" width="3.80" height="3.80" fill="#000"/>
<rect x="562.90" y="444.00" width="3.80" height="3.80" fill="#000"/>
<rect x="569.20" y="443.60" width="3.80" height="3.80" fill="#000"/>
<rect x="569.20" y="466.90" width="3.80" height="3.80" fill="#000"/>
<rect x="569.20" y="471.60" width="3.80" height="3.80" fill="#000"/>
<rect x="562.90" y="470.10" width="3.80" height="3.80" fill="#000"/>
<rect x="562.90" y="474.10" width="3.80" height="3.80" fill="#000"/>
<rect x="610.30" y="441.50" width="3.80" height="3.80" fill="#000"/>
<rect x="603.70" y="445.10" width="3.80" height="3.80" fill="#000"/>
<rect x="610.30" y="448.10" width="3.80" height="3.80" fill="#000"/>
<rect x="607.10" y="453.10" width="3.80" height="3.80" fill="#000"/>
<rect x="610.30" y="465.80" width="3.80" height="3.80" fill="#000"/>
<rect x="603.70" y="469.10" width="3.80" height="3.80" fill="#000"/>
<rect x="648.10" y="424.10" width="3.80" height="3.80" fill="#000"/>
<rect x="648.10" y="435.10" width="3.80" height="3.80" fill="#000"/>
<rect x="645.10" y="438.10" width="3.80" height="3.80" fill="#000"/>
<rect x="651.10" y="438.10" width="3.80" height="3.80" fill="#000"/>
<rect x="648.10" y="445.70" width="3.80" height="3.80" fill="#000"/>
<rect x="648.10" y="450.60" width="3.80" height="3.80" fill="#000"/>
<text x="601.40" y="421.20" font-size="16.5" font-weight="bold" text-anchor="middle" textLength="13.20" lengthAdjust="spacingAndGlyphs">**</text>
<line x1="592.50" y1="420.70" x2="610.30" y2="420.70" stroke="#333" stroke-width="1.0"/>
<text x="642.30" y="420.90" font-size="16.5" font-weight="bold" text-anchor="middle" textLength="20.20" lengthAdjust="spacingAndGlyphs">***</text>
<line x1="633.30" y1="420.00" x2="650.80" y2="420.00" stroke="#333" stroke-width="1.0"/>
<text x="492.50" y="604.00" font-size="10.6" textLength="74.50" lengthAdjust="spacingAndGlyphs">Spearman r = -0.4293</text>
<text x="577.40" y="604.00" font-size="10.6" textLength="36.40" lengthAdjust="spacingAndGlyphs">p = 0.0023</text>
<line x1="485.50" y1="615.75" x2="485.50" y2="717.05" stroke="#1c1c1c" stroke-width="1.5"/>
<line x1="484.75" y1="716.30" x2="621.90" y2="716.30" stroke="#1c1c1c" stroke-width="1.5"/>
<line x1="482.00" y1="616.50" x2="485.50" y2="616.50" stroke="#1c1c1c" stroke-width="1.5"/>
<text x="480.20" y="619.04" font-size="6.6" font-weight="bold" text-anchor="end" textLength="8.40" lengthAdjust="spacingAndGlyphs">2.0</text>
<line x1="482.00" y1="641.50" x2="485.50" y2="641.50" stroke="#1c1c1c" stroke-width="1.5"/>
<text x="480.20" y="644.04" font-size="6.6" font-weight="bold" text-anchor="end" textLength="8.40" lengthAdjust="spacingAndGlyphs">1.5</text>
<line x1="482.00" y1="666.40" x2="485.50" y2="666.40" stroke="#1c1c1c" stroke-width="1.5"/>
<text x="480.20" y="668.94" font-size="6.6" font-weight="bold" text-anchor="end" textLength="8.40" lengthAdjust="spacingAndGlyphs">1.0</text>
<line x1="482.00" y1="691.30" x2="485.50" y2="691.30" stroke="#1c1c1c" stroke-width="1.5"/>
<text x="480.20" y="693.84" font-size="6.6" font-weight="bold" text-anchor="end" textLength="8.40" lengthAdjust="spacingAndGlyphs">0.5</text>
<line x1="482.00" y1="716.30" x2="485.50" y2="716.30" stroke="#1c1c1c" stroke-width="1.5"/>
<text x="480.20" y="718.84" font-size="6.6" font-weight="bold" text-anchor="end" textLength="8.40" lengthAdjust="spacingAndGlyphs">0.0</text>
<line x1="485.50" y1="716.30" x2="485.50" y2="718.30" stroke="#1c1c1c" stroke-width="0.8"/>
<line x1="494.58" y1="716.30" x2="494.58" y2="718.30" stroke="#1c1c1c" stroke-width="0.8"/>
<line x1="503.66" y1="716.30" x2="503.66" y2="718.30" stroke="#1c1c1c" stroke-width="0.8"/>
<line x1="512.74" y1="716.30" x2="512.74" y2="718.30" stroke="#1c1c1c" stroke-width="0.8"/>
<line x1="521.82" y1="716.30" x2="521.82" y2="718.30" stroke="#1c1c1c" stroke-width="0.8"/>
<line x1="530.90" y1="716.30" x2="530.90" y2="718.30" stroke="#1c1c1c" stroke-width="0.8"/>
<line x1="539.98" y1="716.30" x2="539.98" y2="718.30" stroke="#1c1c1c" stroke-width="0.8"/>
<line x1="549.06" y1="716.30" x2="549.06" y2="718.30" stroke="#1c1c1c" stroke-width="0.8"/>
<line x1="558.14" y1="716.30" x2="558.14" y2="718.30" stroke="#1c1c1c" stroke-width="0.8"/>
<line x1="567.22" y1="716.30" x2="567.22" y2="718.30" stroke="#1c1c1c" stroke-width="0.8"/>
<line x1="576.30" y1="716.30" x2="576.30" y2="718.30" stroke="#1c1c1c" stroke-width="0.8"/>
<line x1="585.38" y1="716.30" x2="585.38" y2="718.30" stroke="#1c1c1c" stroke-width="0.8"/>
<line x1="594.46" y1="716.30" x2="594.46" y2="718.30" stroke="#1c1c1c" stroke-width="0.8"/>
<line x1="603.54" y1="716.30" x2="603.54" y2="718.30" stroke="#1c1c1c" stroke-width="0.8"/>
<line x1="612.62" y1="716.30" x2="612.62" y2="718.30" stroke="#1c1c1c" stroke-width="0.8"/>
<line x1="621.70" y1="716.30" x2="621.70" y2="718.30" stroke="#1c1c1c" stroke-width="0.8"/>
<line x1="485.50" y1="716.30" x2="485.50" y2="719.90" stroke="#1c1c1c" stroke-width="1.5"/>
<text x="485.50" y="728.20" font-size="6.8" font-weight="bold" text-anchor="middle" textLength="11.20" lengthAdjust="spacingAndGlyphs">0.0</text>
<line x1="530.90" y1="716.30" x2="530.90" y2="719.90" stroke="#1c1c1c" stroke-width="1.5"/>
<text x="530.90" y="728.20" font-size="6.8" font-weight="bold" text-anchor="middle" textLength="11.20" lengthAdjust="spacingAndGlyphs">0.5</text>
<line x1="576.30" y1="716.30" x2="576.30" y2="719.90" stroke="#1c1c1c" stroke-width="1.5"/>
<text x="576.30" y="728.20" font-size="6.8" font-weight="bold" text-anchor="middle" textLength="11.20" lengthAdjust="spacingAndGlyphs">1.0</text>
<line x1="621.70" y1="716.30" x2="621.70" y2="719.90" stroke="#1c1c1c" stroke-width="1.5"/>
<text x="621.70" y="728.20" font-size="6.8" font-weight="bold" text-anchor="middle" textLength="11.20" lengthAdjust="spacingAndGlyphs">1.5</text>
<text x="510.50" y="739.40" font-size="8.8" font-weight="bold" textLength="85.75" lengthAdjust="spacingAndGlyphs">Adipophilin protein level</text>
<text x="468.00" y="666.50" font-size="7.6" font-weight="bold" text-anchor="middle" textLength="73.00" lengthAdjust="spacingAndGlyphs" transform="rotate(-90 468.00 666.50)">PLIN5 protein level</text>
<line x1="499.50" y1="669.50" x2="591.25" y2="705.00" stroke="#222" stroke-width="0.7"/>
<circle cx="511.25" cy="625.50" r="1.95" fill="#fbdcdc" stroke="#8a7070" stroke-width="0.5"/>
<circle cx="508.50" cy="631.50" r="1.95" fill="#fbdcdc" stroke="#8a7070" stroke-width="0.5"/>
<circle cx="505.50" cy="638.00" r="1.95" fill="#fbdcdc" stroke="#8a7070" stroke-width="0.5"/>
<circle cx="505.20" cy="639.80" r="1.95" fill="#fbdcdc" stroke="#8a7070" stroke-width="0.5"/>
<circle cx="505.00" cy="648.00" r="1.95" fill="#fbdcdc" stroke="#8a7070" stroke-width="0.5"/>
<circle cx="505.00" cy="647.50" r="1.95" fill="#fbdcdc" stroke="#8a7070" stroke-width="0.5"/>
<circle cx="499.25" cy="665.00" r="1.95" fill="#fbdcdc" stroke="#8a7070" stroke-width="0.5"/>
<circle cx="518.00" cy="667.75" r="1.95" fill="#d6f7d6" stroke="#9ac09a" stroke-width="0.5" stroke-dasharray="1 0.8"/>
<circle cx="521.00" cy="668.00" r="1.95" fill="#d6f7d6" stroke="#9ac09a" stroke-width="0.5" stroke-dasharray="1 0.8"/>
<circle cx="518.00" cy="674.50" r="1.95" fill="#d6f7d6" stroke="#9ac09a" stroke-width="0.5" stroke-dasharray="1 0.8"/>
<circle cx="509.50" cy="680.00" r="1.95" fill="#d6f7d6" stroke="#9ac09a" stroke-width="0.5" stroke-dasharray="1 0.8"/>
<circle cx="504.25" cy="664.50" r="1.95" fill="#f5a3a3" stroke="#b06060" stroke-width="0.5"/>
<circle cx="503.50" cy="667.75" r="1.95" fill="#f5a3a3" stroke="#b06060" stroke-width="0.5"/>
<circle cx="504.50" cy="672.50" r="1.95" fill="#f5a3a3" stroke="#b06060" stroke-width="0.5"/>
<circle cx="501.25" cy="682.00" r="1.95" fill="#f5a3a3" stroke="#b06060" stroke-width="0.5"/>
<circle cx="501.80" cy="681.00" r="1.95" fill="#f5a3a3" stroke="#b06060" stroke-width="0.5"/>
<circle cx="506.50" cy="675.75" r="1.95" fill="#86f0d0" stroke="#70c8b0" stroke-width="0.5"/>
<circle cx="513.75" cy="680.00" r="1.95" fill="#86f0d0" stroke="#70c8b0" stroke-width="0.5"/>
<circle cx="505.75" cy="689.00" r="1.95" fill="#86f0d0" stroke="#70c8b0" stroke-width="0.5"/>
<circle cx="506.80" cy="689.60" r="1.95" fill="#86f0d0" stroke="#70c8b0" stroke-width="0.5"/>
<circle cx="503.25" cy="696.50" r="1.95" fill="#86f0d0" stroke="#70c8b0" stroke-width="0.5"/>
<circle cx="519.25" cy="655.75" r="1.95" fill="#ee3a3a" stroke="#a01818" stroke-width="0.5"/>
<circle cx="534.25" cy="660.75" r="1.95" fill="#ee3a3a" stroke="#a01818" stroke-width="0.5"/>
<circle cx="533.25" cy="663.25" r="1.95" fill="#ee3a3a" stroke="#a01818" stroke-width="0.5"/>
<circle cx="513.25" cy="690.75" r="1.95" fill="#ee3a3a" stroke="#a01818" stroke-width="0.5"/>
<circle cx="516.50" cy="694.50" r="1.95" fill="#ee3a3a" stroke="#a01818" stroke-width="0.5"/>
<circle cx="517.25" cy="660.25" r="1.95" fill="#35e020" stroke="#28a818" stroke-width="0.5"/>
<circle cx="515.50" cy="684.00" r="1.95" fill="#35e020" stroke="#28a818" stroke-width="0.5"/>
<circle cx="506.75" cy="693.25" r="1.95" fill="#35e020" stroke="#28a818" stroke-width="0.5"/>
<circle cx="507.00" cy="696.50" r="1.95" fill="#35e020" stroke="#28a818" stroke-width="0.5"/>
<circle cx="507.00" cy="713.00" r="1.95" fill="#35e020" stroke="#28a818" stroke-width="0.5"/>
<circle cx="547.50" cy="657.50" r="1.95" fill="#a01010" stroke="#600808" stroke-width="0.5"/>
<circle cx="543.25" cy="684.50" r="1.95" fill="#a01010" stroke="#600808" stroke-width="0.5"/>
<circle cx="544.00" cy="685.00" r="1.95" fill="#a01010" stroke="#600808" stroke-width="0.5"/>
<circle cx="536.25" cy="693.25" r="1.95" fill="#a01010" stroke="#600808" stroke-width="0.5"/>
<circle cx="539.50" cy="700.75" r="1.95" fill="#a01010" stroke="#600808" stroke-width="0.5"/>
<circle cx="544.75" cy="699.50" r="1.95" fill="#a01010" stroke="#600808" stroke-width="0.5"/>
<circle cx="565.00" cy="711.50" r="1.95" fill="#1e6a1e" stroke="#104010" stroke-width="0.5"/>
<circle cx="567.50" cy="711.25" r="1.95" fill="#1e6a1e" stroke="#104010" stroke-width="0.5"/>
<circle cx="566.30" cy="711.00" r="1.95" fill="#1e6a1e" stroke="#104010" stroke-width="0.5"/>
<circle cx="575.75" cy="701.25" r="1.95" fill="#1e6a1e" stroke="#104010" stroke-width="0.5"/>
<circle cx="588.25" cy="700.25" r="1.95" fill="#1e6a1e" stroke="#104010" stroke-width="0.5"/>
<circle cx="591.75" cy="698.75" r="1.95" fill="#1e6a1e" stroke="#104010" stroke-width="0.5"/>
<circle cx="627.70" cy="587.80" r="2.1" fill="#ff2a1a"/>
<text x="638.10" y="590.78" font-size="9.6" font-style="italic" textLength="17.00" lengthAdjust="spacingAndGlyphs">db/m</text>
<circle cx="627.70" cy="601.80" r="2.1" fill="#35d52e"/>
<text x="638.10" y="604.78" font-size="9.6" font-style="italic" textLength="19.80" lengthAdjust="spacingAndGlyphs">db/db</text>
<circle cx="627.70" cy="614.00" r="2.1" fill="#fbdede"/>
<text x="638.10" y="616.60" font-size="8.4" font-style="italic" textLength="26.50" lengthAdjust="spacingAndGlyphs">8w db/m</text>
<rect x="625.60" y="625.20" width="4.20" height="4.20" fill="#d4f8d4"/>
<text x="638.10" y="629.90" font-size="8.4" font-style="italic" textLength="29.00" lengthAdjust="spacingAndGlyphs">8w db/db</text>
<circle cx="627.70" cy="640.70" r="2.1" fill="#f5a0a0"/>
<text x="638.10" y="643.30" font-size="8.4" font-style="italic" textLength="30.50" lengthAdjust="spacingAndGlyphs">12w db/m</text>
<rect x="625.60" y="651.80" width="4.20" height="4.20" fill="#8af0d0"/>
<text x="638.10" y="656.50" font-size="8.4" font-style="italic" textLength="33.60" lengthAdjust="spacingAndGlyphs">12w db/db</text>
<circle cx="627.70" cy="667.60" r="2.1" fill="#f04a4a"/>
<text x="638.10" y="670.20" font-size="8.4" font-style="italic" textLength="30.50" lengthAdjust="spacingAndGlyphs">16w db/m</text>
<rect x="625.60" y="679.20" width="4.20" height="4.20" fill="#3cf020"/>
<text x="638.10" y="683.90" font-size="8.4" font-style="italic" textLength="33.60" lengthAdjust="spacingAndGlyphs">16w db/db</text>
<circle cx="627.70" cy="694.70" r="2.1" fill="#a01010"/>
<text x="638.10" y="697.30" font-size="8.4" font-style="italic" textLength="30.50" lengthAdjust="spacingAndGlyphs">24w db/m</text>
<rect x="625.60" y="706.10" width="4.20" height="4.20" fill="#1e6a1e"/>
<text x="638.10" y="710.80" font-size="8.4" font-style="italic" textLength="33.60" lengthAdjust="spacingAndGlyphs">24w db/db</text>
<rect x="25.00" y="208.75" width="47.00" height="10.00" fill="#fff" stroke="#1c2458" stroke-width="0.8"/>
<text x="48.50" y="216.90" font-size="6.5" font-weight="bold" text-anchor="middle" fill="#000">8w <tspan font-style="italic">db/m</tspan></text>
<rect x="73.10" y="208.75" width="47.00" height="10.00" fill="#fff" stroke="#1c2458" stroke-width="0.8"/>
<text x="96.60" y="216.90" font-size="6.5" font-weight="bold" text-anchor="middle" fill="#000">8w <tspan font-style="italic">db/db</tspan></text>
<rect x="121.20" y="208.75" width="47.00" height="10.00" fill="#fff" stroke="#1c2458" stroke-width="0.8"/>
<text x="144.70" y="216.90" font-size="6.5" font-weight="bold" text-anchor="middle" fill="#000">12w <tspan font-style="italic">db/m</tspan></text>
<rect x="169.30" y="208.75" width="47.00" height="10.00" fill="#fff" stroke="#1c2458" stroke-width="0.8"/>
<text x="192.80" y="216.90" font-size="6.5" font-weight="bold" text-anchor="middle" fill="#000">12w <tspan font-style="italic">db/db</tspan></text>
<rect x="217.40" y="208.75" width="47.00" height="10.00" fill="#fff" stroke="#1c2458" stroke-width="0.8"/>
<text x="240.90" y="216.90" font-size="6.5" font-weight="bold" text-anchor="middle" fill="#000">16w <tspan font-style="italic">db/m</tspan></text>
<rect x="265.50" y="208.75" width="47.00" height="10.00" fill="#fff" stroke="#1c2458" stroke-width="0.8"/>
<text x="289.00" y="216.90" font-size="6.5" font-weight="bold" text-anchor="middle" fill="#000">16w <tspan font-style="italic">db/db</tspan></text>
<rect x="313.60" y="208.75" width="47.00" height="10.00" fill="#fff" stroke="#1c2458" stroke-width="0.8"/>
<text x="337.10" y="216.90" font-size="6.5" font-weight="bold" text-anchor="middle" fill="#000">24w <tspan font-style="italic">db/m</tspan></text>
<rect x="361.70" y="208.75" width="47.00" height="10.00" fill="#fff" stroke="#1c2458" stroke-width="0.8"/>
<text x="385.20" y="216.90" font-size="6.5" font-weight="bold" text-anchor="middle" fill="#000">24w <tspan font-style="italic">db/db</tspan></text>
<rect x="14.50" y="220.00" width="9.25" height="36.00" fill="#fff" stroke="#1c2458" stroke-width="0.8"/>
<text x="21.24" y="238.00" font-size="6.4" font-weight="bold" text-anchor="middle" fill="#3a66e8" transform="rotate(-90 21.24 238.00)">DAPI</text>
<rect x="14.50" y="259.50" width="9.25" height="36.25" fill="#fff" stroke="#111" stroke-width="0.8"/>
<text x="21.24" y="277.62" font-size="6.4" font-weight="bold" text-anchor="middle" fill="#ee2222" transform="rotate(-90 21.24 277.62)">PLIN5</text>
<rect x="14.50" y="298.25" width="9.25" height="36.25" fill="#fff" stroke="#111" stroke-width="0.8"/>
<text x="21.24" y="316.38" font-size="6.4" font-weight="bold" text-anchor="middle" fill="#000" transform="rotate(-90 21.24 316.38)">Merge</text>
<g clip-path="url(#c1)">
<rect x="25.00" y="220.00" width="47.00" height="36.00" fill="#000"/>
<path d="M61.5 244.1h0M29.7 232.7h0M47.0 239.2h0M71.0 224.7h0M56.5 233.1h0M48.0 227.3h0M56.3 228.2h0M46.5 221.5h0M70.8 237.5h0M46.7 245.7h0M44.5 252.0h0M26.1 250.0h0M47.0 249.2h0M69.4 255.4h0M33.3 245.2h0M30.1 225.8h0M29.4 231.3h0M25.8 250.7h0M38.7 248.1h0M50.8 227.0h0M38.7 231.5h0M56.0 228.3h0M54.1 252.2h0M65.9 230.6h0M46.5 237.5h0M38.2 231.8h0M71.3 220.4h0M31.7 243.5h0M28.5 230.5h0M62.3 252.8h0M42.4 227.4h0M66.4 242.8h0M48.7 231.9h0M41.3 230.5h0M61.0 237.2h0M34.5 251.4h0M60.5 251.2h0M68.8 228.7h0M66.9 247.6h0M44.5 231.7h0M51.4 241.3h0M32.8 237.5h0M69.6 236.9h0M43.6 253.1h0M71.3 253.8h0M27.2 251.0h0M34.4 232.4h0M66.5 223.5h0M31.3 229.6h0M34.8 232.3h0M59.1 242.7h0M32.5 247.6h0M68.4 241.3h0M32.9 237.6h0M58.8 227.8h0M53.8 242.3h0M36.2 225.2h0M61.3 239.1h0M45.6 237.2h0M61.9 250.1h0M44.1 247.9h0M25.1 251.6h0M26.5 255.3h0M71.8 241.8h0M66.8 244.3h0M28.2 245.2h0M72.0 245.8h0M35.3 235.2h0M65.7 248.6h0M35.1 249.5h0M40.9 220.3h0M68.9 241.0h0M59.9 225.0h0M50.6 253.2h0M32.1 255.0h0M54.2 246.1h0M57.5 247.5h0M34.2 241.7h0M36.1 223.9h0M39.7 252.8h0M69.2 237.5h0M54.0 226.5h0M38.6 243.2h0M38.4 247.5h0M63.8 236.2h0M44.0 226.1h0M35.6 249.7h0M37.2 222.7h0M59.7 249.0h0M65.3 247.2h0M31.8 237.2h0M45.6 238.3h0M58.1 244.8h0M58.2 254.0h0M62.8 247.9h0M45.0 250.0h0M70.4 244.5h0M29.1 243.9h0M49.2 227.7h0M42.6 248.1h0M56.3 234.8h0M57.7 246.7h0M46.0 252.4h0M46.1 226.8h0M65.7 247.0h0M58.5 248.9h0M63.4 222.1h0M37.4 247.4h0M26.4 247.1h0M36.0 255.2h0" stroke="#2a2ad8" stroke-width="0.9" stroke-linecap="round" fill="none" opacity="0.85"/>
<path d="M48.5 255.1h0M38.8 254.8h0M39.7 222.7h0M48.2 235.7h0M41.9 224.5h0M66.2 227.5h0M45.0 235.0h0M27.1 243.7h0M35.4 232.6h0M50.4 235.7h0M48.9 255.7h0M48.1 254.4h0M65.1 242.8h0M30.5 236.5h0M55.9 244.6h0M29.3 236.0h0M47.9 221.1h0M47.9 252.8h0M32.5 233.8h0M35.4 238.6h0M58.6 244.1h0M31.2 245.8h0M55.2 253.9h0M55.0 223.4h0M57.3 232.1h0M27.0 247.9h0M51.0 235.7h0M51.4 236.4h0M61.5 255.5h0M41.2 246.1h0M67.5 233.6h0M67.6 242.5h0M39.7 225.5h0M26.6 232.7h0M41.8 243.5h0M51.8 243.2h0M54.7 242.6h0M71.4 237.2h0M27.7 226.6h0M35.5 246.4h0M38.2 255.8h0M61.0 249.3h0M45.3 240.1h0M53.6 250.8h0M37.6 241.3h0M54.1 255.9h0M58.3 249.1h0M62.1 233.4h0M59.7 240.8h0M42.3 238.7h0M70.3 247.4h0M49.7 249.8h0M39.5 226.3h0M67.0 252.5h0M65.1 234.8h0M64.5 238.5h0M71.4 252.4h0M62.0 223.5h0M40.9 227.0h0M41.1 228.2h0M48.3 237.4h0M52.1 226.9h0M70.9 240.0h0M49.2 226.6h0M34.1 250.8h0M60.8 249.4h0M29.5 224.1h0M62.2 249.5h0M33.9 244.5h0M29.8 234.4h0M39.1 255.0h0M26.8 252.3h0M50.2 223.2h0M71.3 221.6h0M45.0 223.4h0M59.4 223.9h0M35.5 246.4h0M41.3 252.6h0M40.6 245.7h0M26.9 236.7h0M25.2 232.0h0M38.9 246.3h0M46.2 244.8h0M27.4 239.3h0M35.0 223.4h0M59.0 237.6h0M32.9 245.1h0M44.8 226.9h0M66.1 234.5h0M38.3 246.4h0M68.8 240.5h0M58.8 222.6h0M31.2 238.2h0M57.1 231.2h0M36.5 229.7h0M28.3 236.6h0M55.8 242.7h0M40.3 235.9h0M32.6 230.6h0M46.7 247.3h0M58.7 253.0h0M27.1 221.4h0M60.9 221.7h0M70.9 223.5h0M39.6 227.4h0M46.7 224.5h0M25.2 232.6h0M35.1 250.9h0M45.0 247.3h0M51.0 251.1h0" stroke="#2a2ad8" stroke-width="0.9" stroke-linecap="round" fill="none" opacity="0.34"/>
</g>
<g transform="translate(0,-0.00)">
<g clip-path="url(#c2)">
<rect x="25.00" y="259.50" width="47.00" height="36.25" fill="#000"/>
<rect x="25.00" y="259.50" width="47.00" height="36.25" filter="url(#rC)"/>
<rect x="25.00" y="259.50" width="47.00" height="36.25" fill="#000" opacity="0.2"/>
<g filter="url(#bl)" fill="#000">
<polygon points="45.7,259.5 47.6,259.5 47.1,295.8 45.2,295.8" opacity="0.8"/>
<polygon points="61.7,259.5 72.0,259.5 72.0,270.4" opacity="0.9"/>
<polygon points="25.0,284.9 34.4,295.8 25.0,295.8" opacity="0.9"/>
<polygon points="64.9,295.8 72.0,284.9 72.0,295.8" opacity="0.7"/>
</g>
<polyline points="46.4,259.5 46.6,277.6 46.2,295.8" fill="none" stroke="#000" stroke-width="1.0" opacity="0.85"/>
</g>
</g>
<g transform="translate(0,38.75)">
<g clip-path="url(#c3)">
<rect x="25.00" y="259.50" width="47.00" height="36.25" fill="#000"/>
<rect x="25.00" y="259.50" width="47.00" height="36.25" filter="url(#rC)"/>
<rect x="25.00" y="259.50" width="47.00" height="36.25" fill="#000" opacity="0.2"/>
<g filter="url(#bl)" fill="#000">
<polygon points="45.7,259.5 47.6,259.5 47.1,295.8 45.2,295.8" opacity="0.8"/>
<polygon points="61.7,259.5 72.0,259.5 72.0,270.4" opacity="0.9"/>
<polygon points="25.0,284.9 34.4,295.8 25.0,295.8" opacity="0.9"/>
<polygon points="64.9,295.8 72.0,284.9 72.0,295.8" opacity="0.7"/>
</g>
<polyline points="46.4,259.5 46.6,277.6 46.2,295.8" fill="none" stroke="#000" stroke-width="1.0" opacity="0.85"/>
<path d="M40.1 281.6h0M46.1 272.1h0M63.9 291.2h0M33.0 287.5h0M63.5 275.0h0M69.6 281.3h0M28.7 263.0h0M70.1 276.7h0M46.0 287.3h0M63.3 271.0h0M63.8 266.7h0M51.4 276.9h0M47.8 294.4h0M37.4 288.5h0M72.0 291.6h0M46.3 295.4h0M28.1 278.0h0M53.1 287.0h0M71.7 271.7h0M64.6 281.6h0M42.4 273.6h0M51.1 289.4h0M48.5 286.8h0M37.1 275.4h0M69.8 268.9h0M28.0 284.0h0M70.1 292.1h0M28.1 286.5h0M53.1 288.0h0M56.3 261.8h0M43.2 268.7h0M47.1 292.5h0M53.4 272.8h0M34.7 287.1h0M62.7 291.4h0M28.9 278.9h0M51.0 261.8h0M65.8 259.6h0M42.8 286.4h0M41.9 267.3h0M56.7 271.2h0M40.7 261.4h0M33.3 283.0h0M49.6 291.3h0M34.7 287.7h0M67.8 292.5h0M68.5 287.4h0M25.2 290.5h0M58.7 291.5h0M58.3 268.3h0M48.1 267.7h0M48.0 269.3h0M46.1 259.7h0M62.9 291.8h0M35.5 295.3h0M71.1 284.4h0M48.3 287.5h0M32.3 289.1h0M35.0 290.9h0M68.9 268.0h0M58.3 261.0h0M52.5 293.3h0M30.2 283.4h0M68.8 272.4h0M49.9 277.0h0M68.2 286.6h0M56.1 268.6h0M56.0 263.6h0M44.6 294.6h0M62.5 280.2h0M42.5 294.4h0M62.8 294.6h0M29.0 261.1h0M34.4 278.7h0M37.9 268.9h0M30.7 274.6h0M39.0 270.3h0M25.1 288.5h0M46.1 281.3h0M25.8 280.4h0M66.1 261.0h0M61.3 262.0h0M45.8 292.4h0M53.3 282.3h0M59.2 289.1h0M37.1 259.7h0M38.2 270.1h0M54.5 269.6h0M27.6 261.5h0M41.4 295.4h0M27.2 261.9h0M61.9 295.4h0M67.2 264.2h0M43.4 270.9h0M36.6 278.3h0M36.8 284.0h0M26.3 280.8h0M63.0 291.2h0M62.5 294.2h0M26.5 266.2h0M30.5 289.7h0M39.8 274.1h0M69.9 274.0h0M29.2 270.8h0M45.3 292.9h0M67.5 284.6h0M40.7 282.9h0M34.7 279.1h0M57.4 290.0h0M25.8 260.3h0M58.4 287.8h0M28.1 288.5h0M63.8 290.0h0M49.4 272.1h0M25.4 276.7h0M43.0 284.3h0M51.0 271.1h0M70.9 274.5h0M32.1 261.4h0M32.1 294.8h0M26.4 262.0h0M39.2 271.3h0M50.4 278.9h0M37.2 289.7h0M66.4 270.7h0M58.0 278.7h0M43.9 285.5h0M60.0 280.3h0M37.9 270.1h0M25.5 280.5h0M54.4 279.7h0M65.2 287.0h0M52.7 266.5h0M71.6 283.2h0M37.5 295.5h0M32.3 269.2h0M69.7 295.5h0M25.1 292.5h0M62.2 275.4h0M63.2 285.6h0M31.1 278.9h0M25.1 286.7h0M52.7 287.1h0M65.9 269.4h0M53.0 280.5h0M52.9 287.7h0M54.9 259.6h0M42.2 288.6h0M29.3 263.8h0M40.4 289.0h0M58.8 281.4h0M53.9 292.9h0M47.3 281.8h0M48.9 275.8h0M39.3 292.3h0M35.4 268.1h0M55.7 288.4h0M67.7 269.3h0M38.1 294.2h0M32.5 275.4h0M56.4 265.8h0M58.4 289.3h0M51.4 283.1h0M43.3 271.1h0M41.4 283.8h0M51.4 285.1h0M68.2 262.6h0M47.3 264.0h0M39.9 286.3h0M44.2 287.7h0M55.3 292.6h0M28.8 295.4h0M63.7 288.8h0M66.8 272.3h0M57.1 270.7h0M40.3 262.1h0M54.7 274.3h0M35.0 282.7h0M46.7 276.3h0M66.6 284.2h0M55.1 292.7h0M57.0 274.1h0M62.7 281.8h0M50.5 271.2h0M57.0 271.7h0M41.8 273.9h0M43.2 278.8h0M64.9 261.9h0M28.5 289.9h0M71.9 270.9h0M61.7 291.1h0M27.7 260.7h0M61.2 260.9h0M63.9 263.9h0M57.4 271.1h0M54.6 275.6h0M25.4 262.8h0M64.2 290.9h0M25.0 261.4h0M30.3 286.9h0M41.9 263.9h0M66.6 292.0h0M34.7 269.5h0M57.2 278.8h0M48.8 295.4h0M59.2 275.1h0M45.4 278.7h0M44.2 272.6h0M29.4 261.8h0M70.7 294.5h0M52.4 294.3h0M61.2 294.0h0M51.6 268.7h0M55.5 282.0h0M67.2 260.0h0M34.0 292.8h0M37.4 269.7h0M55.2 278.3h0M65.7 289.5h0M62.9 280.2h0" stroke="#5a3ae0" stroke-width="0.95" stroke-linecap="round" fill="none" opacity="0.55"/>
</g>
</g>
<g clip-path="url(#c4)">
<rect x="73.10" y="220.00" width="47.00" height="36.00" fill="#000"/>
<path d="M110.5 222.1h0M108.8 251.1h0M77.4 252.5h0M110.0 234.6h0M90.7 243.4h0M91.9 240.6h0M101.7 221.8h0M107.7 245.5h0M116.4 245.7h0M103.9 246.5h0M81.9 238.1h0M115.2 253.3h0M74.0 251.6h0M103.0 234.6h0M79.2 251.1h0M85.0 241.3h0M76.6 240.0h0M91.5 231.0h0M80.9 221.3h0M114.2 241.9h0M73.4 240.9h0M109.1 227.2h0M116.8 250.3h0M98.4 255.6h0M83.3 221.4h0M90.5 226.6h0M117.6 224.1h0M89.7 251.1h0M75.0 223.2h0M97.5 232.9h0M74.1 244.1h0M112.7 222.0h0M79.1 224.4h0M95.4 243.4h0M85.5 249.8h0M77.6 252.4h0M83.6 224.2h0M82.6 240.1h0M115.2 223.9h0M101.8 239.0h0M95.4 248.2h0M84.9 252.4h0M88.6 234.1h0M96.7 239.5h0M106.3 249.4h0M115.8 224.5h0M81.8 247.7h0M110.0 229.1h0M114.6 251.3h0M76.0 224.1h0M77.6 251.2h0M114.0 228.9h0M114.9 227.2h0M95.0 239.1h0M100.2 224.4h0M75.9 252.0h0M109.8 238.0h0M104.2 248.7h0M76.1 228.7h0M106.8 243.3h0M93.9 225.1h0M76.1 230.1h0M102.1 236.1h0M102.9 253.3h0M95.8 229.3h0M115.1 254.7h0M95.0 252.6h0M93.6 224.5h0M97.7 253.2h0M105.5 227.7h0M77.7 254.6h0M103.4 241.6h0M107.0 252.2h0M109.4 237.4h0M81.0 225.7h0M98.6 230.1h0M115.4 234.1h0M112.8 220.1h0M78.7 251.3h0M98.7 230.9h0M101.4 233.4h0M99.5 252.0h0M96.8 245.6h0M94.1 234.4h0M101.0 227.9h0M98.0 252.1h0M107.7 232.7h0M78.9 221.7h0M92.9 227.3h0M93.0 227.4h0M108.2 224.3h0M104.2 234.6h0M105.8 255.0h0M94.0 222.3h0M94.1 252.1h0" stroke="#2a2ad8" stroke-width="0.9" stroke-linecap="round" fill="none" opacity="0.85"/>
<path d="M95.2 242.2h0M75.3 223.8h0M75.5 246.0h0M89.4 252.1h0M102.1 222.5h0M119.7 241.3h0M74.7 224.9h0M111.7 251.8h0M107.9 226.1h0M88.5 241.8h0M115.1 244.3h0M98.0 230.5h0M99.6 234.5h0M85.5 227.3h0M74.5 237.1h0M111.1 224.3h0M119.8 247.4h0M107.8 231.5h0M109.4 241.4h0M96.3 220.7h0M76.7 243.4h0M76.6 251.9h0M77.1 249.8h0M100.3 242.3h0M100.7 220.9h0M102.3 231.5h0M113.1 234.8h0M73.7 239.8h0M103.9 247.9h0M117.2 251.9h0M94.0 223.8h0M86.2 244.7h0M97.9 229.8h0M78.1 248.9h0M98.4 241.2h0M104.3 232.7h0M86.3 249.9h0M104.0 226.4h0M118.7 253.8h0M98.4 223.5h0M106.0 222.7h0M109.5 240.6h0M107.1 248.3h0M117.3 255.3h0M107.1 246.4h0M105.4 241.2h0M104.3 236.0h0M94.3 228.3h0M108.3 247.5h0M92.4 221.6h0M101.0 235.4h0M119.3 235.0h0M96.3 228.2h0M113.7 221.5h0M113.3 253.4h0M94.1 232.2h0M85.2 221.4h0M108.3 226.9h0M105.6 227.9h0M85.5 235.8h0M104.1 249.0h0M95.4 232.4h0M117.5 252.6h0M89.9 239.9h0M75.9 222.6h0M118.0 223.7h0M87.0 225.9h0M74.5 240.3h0M111.2 255.2h0M76.9 229.3h0M74.0 241.6h0M75.6 226.2h0M105.1 253.0h0M80.3 236.6h0M94.7 241.2h0M97.9 226.9h0M84.6 253.5h0M92.5 223.5h0M80.4 231.5h0M105.4 227.5h0M78.3 241.9h0M99.5 246.3h0M112.5 250.1h0M98.9 246.4h0M105.8 244.1h0M74.1 237.9h0M97.5 250.1h0M73.7 225.0h0M95.2 243.2h0M97.1 235.0h0M96.9 223.8h0M110.9 234.4h0M96.9 223.8h0M113.9 244.4h0M106.4 245.4h0" stroke="#2a2ad8" stroke-width="0.9" stroke-linecap="round" fill="none" opacity="0.34"/>
</g>
<g transform="translate(0,-0.14)">
<g clip-path="url(#c5)">
<rect x="73.10" y="259.50" width="47.00" height="36.25" fill="#000"/>
<rect x="73.10" y="259.50" width="47.00" height="36.25" filter="url(#rC)"/>
<rect x="73.10" y="259.50" width="47.00" height="36.25" fill="#000" opacity="0.28"/>
<g filter="url(#bl)" fill="#000">
<polygon points="73.1,259.5 92.8,259.5 73.1,281.2" opacity="1"/>
<polygon points="100.4,259.5 102.2,259.5 102.2,295.8 100.4,295.8" opacity="0.6"/>
<polygon points="113.0,259.5 120.1,259.5 120.1,295.8 115.4,295.8" opacity="0.5"/>
</g>
<polyline points="101.3,259.5 101.8,295.8" fill="none" stroke="#000" stroke-width="0.9" opacity="0.7"/>
</g>
</g>
<g transform="translate(0,38.64)">
<g clip-path="url(#c6)">
<rect x="73.10" y="259.50" width="47.00" height="36.25" fill="#000"/>
<rect x="73.10" y="259.50" width="47.00" height="36.25" filter="url(#rC)"/>
<rect x="73.10" y="259.50" width="47.00" height="36.25" fill="#000" opacity="0.28"/>
<g filter="url(#bl)" fill="#000">
<polygon points="73.1,259.5 92.8,259.5 73.1,281.2" opacity="1"/>
<polygon points="100.4,259.5 102.2,259.5 102.2,295.8 100.4,295.8" opacity="0.6"/>
<polygon points="113.0,259.5 120.1,259.5 120.1,295.8 115.4,295.8" opacity="0.5"/>
</g>
<polyline points="101.3,259.5 101.8,295.8" fill="none" stroke="#000" stroke-width="0.9" opacity="0.7"/>
<path d="M75.3 263.7h0M95.3 282.4h0M85.3 275.5h0M77.4 287.1h0M115.8 275.6h0M105.4 265.9h0M94.8 273.7h0M102.3 276.8h0M114.3 274.7h0M97.5 269.7h0M79.0 265.7h0M98.2 276.2h0M105.9 295.7h0M85.1 264.1h0M94.0 278.3h0M110.9 278.5h0M118.1 260.1h0M94.9 291.9h0M73.1 273.8h0M113.4 266.0h0M81.3 279.4h0M74.0 292.8h0M98.7 288.1h0M74.4 261.3h0M110.9 276.6h0M119.1 291.7h0M92.5 286.1h0M105.8 283.8h0M81.3 291.4h0M110.1 267.4h0M77.5 284.1h0M112.0 271.2h0M95.5 284.6h0M114.8 273.1h0M117.5 286.5h0M92.7 292.8h0M113.1 263.9h0M85.3 268.2h0M103.2 282.5h0M75.0 280.9h0M113.1 265.8h0M113.9 288.6h0M104.1 294.0h0M94.5 274.5h0M85.9 265.6h0M101.7 272.3h0M94.0 269.8h0M89.5 271.3h0M81.6 274.6h0M88.7 282.5h0M107.6 282.8h0M89.5 276.6h0M106.5 276.9h0M98.4 294.9h0M76.5 266.6h0M85.0 279.9h0M83.0 292.5h0M99.8 275.7h0M76.5 259.8h0M81.3 293.9h0M90.3 291.7h0M95.8 281.7h0M106.6 293.5h0M93.1 285.4h0M101.6 271.8h0M74.4 278.6h0M84.1 282.4h0M99.5 262.6h0M113.4 267.1h0M74.1 271.6h0M87.8 280.9h0M119.3 265.1h0M87.4 294.5h0M110.4 270.0h0M87.7 286.5h0M85.1 270.5h0M84.6 289.2h0M104.4 275.4h0M80.8 270.9h0M107.6 259.9h0M101.0 277.6h0M82.5 279.6h0M103.3 294.3h0M112.1 284.9h0M103.5 274.6h0M93.8 283.1h0M85.6 278.4h0M91.0 285.4h0M92.6 293.3h0M75.6 290.4h0M80.2 264.7h0M101.2 266.1h0M83.8 270.2h0M113.3 263.8h0M82.6 295.1h0M76.2 272.2h0M84.5 273.1h0M104.6 284.1h0M106.4 294.8h0M76.4 277.1h0M77.3 263.4h0M74.6 283.5h0M109.0 259.8h0M108.6 284.5h0M80.5 293.4h0M80.0 289.1h0M77.8 279.7h0M115.7 281.0h0M114.0 276.1h0M74.5 270.7h0M113.5 274.0h0M98.4 295.3h0M113.2 266.8h0M109.6 277.1h0M114.4 286.2h0M82.9 287.0h0M99.3 270.2h0M118.7 280.7h0M97.0 261.3h0M103.7 263.9h0M100.9 268.2h0M108.2 264.3h0M116.0 273.8h0M101.0 267.7h0M107.8 265.0h0M108.1 259.6h0M99.9 275.0h0M117.3 262.9h0M112.9 294.7h0M96.8 295.5h0M107.8 289.8h0M117.6 274.2h0M106.9 264.0h0M99.2 270.6h0M99.2 264.5h0M105.2 286.8h0M90.1 286.1h0M105.1 265.9h0M117.0 286.5h0M110.5 270.9h0M74.6 288.8h0M84.8 279.4h0M106.3 260.0h0M106.0 278.5h0M81.3 295.1h0M105.6 287.9h0M88.5 282.6h0M99.3 289.0h0M74.4 287.6h0M109.2 262.3h0M86.4 262.2h0M100.6 279.9h0M117.0 279.7h0M113.1 280.5h0M84.7 280.2h0M84.7 270.5h0M92.1 263.3h0M74.4 274.3h0M90.0 270.3h0M104.2 291.5h0M87.2 260.9h0M81.0 264.5h0M98.6 259.7h0M74.1 294.9h0M75.7 276.8h0M103.6 292.0h0M115.4 262.4h0M119.0 290.1h0M76.8 274.8h0M83.2 294.9h0M100.2 275.2h0M75.4 281.3h0M102.2 260.3h0M80.4 289.0h0M119.3 279.3h0M80.4 272.0h0M98.8 283.6h0M92.7 291.0h0M115.8 284.7h0M89.5 262.1h0M94.9 260.4h0M75.6 291.1h0M82.5 274.0h0M106.8 292.0h0M99.8 283.3h0M115.3 280.7h0M80.3 272.1h0M109.9 274.8h0M75.4 281.8h0M118.4 262.4h0" stroke="#5a3ae0" stroke-width="0.95" stroke-linecap="round" fill="none" opacity="0.55"/>
</g>
</g>
<g clip-path="url(#c7)">
<rect x="121.20" y="220.00" width="47.00" height="36.00" fill="#000"/>
<path d="M145.7 235.2h0M131.6 224.7h0M143.9 242.5h0M150.4 245.5h0M141.7 221.7h0M131.8 248.4h0M141.0 240.3h0M153.0 247.2h0M128.8 236.8h0M151.9 253.7h0M134.4 252.4h0M161.1 238.9h0M148.4 253.7h0M141.9 230.4h0M158.7 223.6h0M155.0 243.2h0M139.6 253.8h0M149.8 225.6h0M140.8 254.4h0M125.2 249.2h0M147.0 248.7h0M164.5 223.0h0M141.3 237.4h0M144.4 250.2h0M124.1 226.5h0M156.5 249.5h0M165.8 223.3h0M160.1 220.4h0M158.4 228.3h0M164.3 242.8h0M143.4 225.6h0M163.1 234.2h0M165.6 221.0h0M141.4 221.4h0M134.1 254.4h0M137.0 221.7h0M138.8 245.6h0M155.0 249.5h0M126.7 238.4h0M141.1 235.2h0M149.3 223.6h0M161.9 249.7h0M148.9 230.9h0M122.7 240.7h0M166.1 254.7h0M160.7 254.8h0M154.3 230.9h0M156.7 246.5h0M152.6 248.9h0M160.8 253.2h0M140.1 252.6h0M125.2 245.9h0M151.2 231.3h0M146.4 233.7h0M157.4 242.3h0M152.3 249.6h0M131.8 222.8h0M163.0 249.9h0M132.1 226.1h0M159.3 226.4h0M139.9 229.4h0M129.2 241.7h0M157.3 235.7h0M152.6 230.6h0M131.2 238.9h0M126.0 254.2h0M132.4 250.1h0M139.8 240.4h0M133.7 228.8h0M141.6 236.7h0M121.3 244.5h0M135.9 244.2h0M157.8 253.7h0M143.6 232.2h0M127.2 240.8h0M141.3 236.7h0M140.3 226.2h0M141.8 224.5h0M167.1 220.7h0M136.2 231.1h0M129.1 240.5h0M131.6 220.1h0M128.1 236.2h0M137.6 221.4h0M130.6 222.3h0M161.2 233.2h0M161.2 247.1h0M134.2 245.2h0M145.1 243.1h0M165.4 231.0h0M151.7 229.9h0M135.4 233.9h0M166.0 255.0h0M152.4 253.5h0M131.7 238.3h0M166.7 228.5h0M149.3 233.9h0M131.0 223.9h0M124.0 241.4h0M125.0 254.0h0M133.2 247.5h0M145.7 254.3h0M129.8 252.4h0M157.8 251.9h0M149.9 229.1h0M141.2 221.0h0M124.2 245.4h0M122.6 236.2h0M123.7 245.5h0M155.7 227.2h0M126.9 220.1h0M143.4 221.5h0M128.0 231.8h0M163.3 244.9h0M161.2 250.4h0M126.9 238.1h0M161.4 221.4h0M158.3 245.6h0M151.9 246.0h0M144.2 250.1h0" stroke="#2a2ad8" stroke-width="0.9" stroke-linecap="round" fill="none" opacity="0.85"/>
<path d="M149.3 253.5h0M141.5 239.4h0M148.4 230.3h0M152.7 231.0h0M145.3 233.8h0M163.3 242.5h0M160.2 245.4h0M167.5 255.2h0M124.9 225.9h0M161.0 239.6h0M146.2 243.4h0M136.8 247.8h0M128.3 237.3h0M166.1 223.0h0M124.8 243.6h0M162.8 233.1h0M148.4 244.2h0M155.5 248.8h0M165.7 229.5h0M123.3 251.8h0M150.4 238.6h0M137.7 227.5h0M121.8 233.1h0M134.9 223.6h0M165.4 236.6h0M165.2 234.7h0M150.8 242.5h0M137.5 246.5h0M137.2 255.6h0M122.7 237.8h0M134.4 240.2h0M132.9 243.7h0M134.0 241.8h0M167.4 239.4h0M139.5 221.2h0M145.9 227.1h0M146.9 221.2h0M152.2 222.4h0M162.8 236.9h0M150.4 252.3h0M151.9 252.1h0M140.6 245.9h0M142.9 224.6h0M148.9 243.4h0M133.2 251.0h0M154.3 225.9h0M153.3 234.8h0M124.7 242.1h0M145.2 244.1h0M144.8 221.7h0M144.1 225.0h0M155.5 220.7h0M139.8 250.2h0M148.9 249.2h0M159.2 241.7h0M147.1 252.5h0M142.8 231.4h0M133.5 244.2h0M166.5 230.5h0M128.5 255.8h0M149.3 238.2h0M144.8 237.4h0M149.2 225.2h0M142.3 244.9h0M154.0 221.0h0M132.2 232.2h0M163.6 224.3h0M151.7 247.7h0M133.4 249.1h0M164.5 224.1h0M123.5 238.6h0M136.5 238.3h0M144.5 236.9h0M153.0 248.2h0M134.5 233.7h0M148.8 233.7h0M167.4 240.7h0M142.4 225.3h0M130.4 226.6h0M159.9 240.0h0M150.0 242.2h0M147.5 236.7h0M162.5 226.1h0M165.6 225.9h0M126.2 225.0h0M122.8 224.8h0M140.5 242.1h0M157.6 233.5h0M149.8 230.3h0M148.7 230.9h0M146.9 236.9h0M132.2 245.2h0M122.4 250.8h0M131.5 254.2h0M144.4 250.7h0M121.3 247.5h0M162.5 228.6h0M161.1 226.2h0M165.5 231.4h0M139.8 224.0h0M152.0 241.1h0M160.7 245.6h0M153.2 226.9h0M166.1 230.0h0M156.7 239.5h0M167.9 244.1h0M155.0 244.4h0M134.4 226.2h0M143.7 246.8h0M151.1 241.5h0M160.0 231.4h0M128.8 244.8h0M146.3 241.5h0M134.3 226.3h0M152.8 251.0h0M133.7 239.2h0M148.7 227.5h0M154.6 255.3h0M165.5 222.3h0M127.5 236.7h0" stroke="#2a2ad8" stroke-width="0.9" stroke-linecap="round" fill="none" opacity="0.34"/>
</g>
<g transform="translate(0,-0.29)">
<g clip-path="url(#c8)">
<rect x="121.20" y="259.50" width="47.00" height="36.25" fill="#000"/>
<rect x="121.20" y="259.50" width="47.00" height="36.25" filter="url(#rC)"/>
<rect x="121.20" y="259.50" width="47.00" height="36.25" fill="#000" opacity="0.15"/>
<g filter="url(#bl)" fill="#000">
<polygon points="121.2,274.0 136.2,295.8 121.2,295.8" opacity="1"/>
<polygon points="159.7,295.8 168.2,284.9 168.2,295.8" opacity="1"/>
<polygon points="121.2,259.5 130.6,259.5 121.2,266.8" opacity="0.6"/>
</g>
</g>
</g>
<g transform="translate(0,38.52)">
<g clip-path="url(#c9)">
<rect x="121.20" y="259.50" width="47.00" height="36.25" fill="#000"/>
<rect x="121.20" y="259.50" width="47.00" height="36.25" filter="url(#rC)"/>
<rect x="121.20" y="259.50" width="47.00" height="36.25" fill="#000" opacity="0.15"/>
<g filter="url(#bl)" fill="#000">
<polygon points="121.2,274.0 136.2,295.8 121.2,295.8" opacity="1"/>
<polygon points="159.7,295.8 168.2,284.9 168.2,295.8" opacity="1"/>
<polygon points="121.2,259.5 130.6,259.5 121.2,266.8" opacity="0.6"/>
</g>
<path d="M165.3 282.6h0M127.0 264.1h0M142.6 269.0h0M144.0 276.5h0M150.1 291.6h0M135.0 287.2h0M145.5 275.4h0M140.2 290.2h0M138.5 265.2h0M154.5 275.0h0M128.1 290.2h0M121.2 277.2h0M161.1 283.5h0M135.8 293.0h0M151.6 266.3h0M155.1 286.9h0M134.9 275.0h0M159.1 272.2h0M140.4 295.4h0M130.8 271.4h0M154.5 267.0h0M139.3 291.8h0M124.3 275.0h0M144.9 270.1h0M133.8 273.9h0M152.8 274.8h0M135.3 260.6h0M145.1 277.4h0M153.6 262.7h0M122.1 295.7h0M142.8 268.8h0M140.6 294.4h0M135.6 295.3h0M164.6 291.0h0M158.3 264.1h0M157.6 265.3h0M135.5 280.0h0M133.3 293.5h0M155.7 271.0h0M145.3 270.8h0M148.1 293.1h0M130.9 295.7h0M151.0 286.1h0M158.2 275.7h0M159.5 281.5h0M150.0 286.4h0M149.7 280.3h0M148.4 282.6h0M158.3 280.8h0M145.5 283.5h0M129.4 280.6h0M148.8 278.3h0M135.3 292.2h0M158.0 287.2h0M164.1 261.6h0M138.0 293.2h0M145.1 294.3h0M163.6 278.4h0M136.2 265.4h0M124.3 263.5h0M154.4 290.6h0M139.9 276.5h0M143.9 282.9h0M123.4 286.0h0M137.7 272.6h0M140.8 261.6h0M145.5 288.3h0M151.7 262.6h0M146.5 274.2h0M131.3 291.9h0M128.0 283.4h0M167.3 260.6h0M163.7 260.4h0M131.8 294.9h0M132.9 286.2h0M131.6 283.1h0M164.9 286.3h0M123.2 295.2h0M159.6 286.5h0M153.6 277.3h0M167.9 274.4h0M148.2 287.0h0M148.8 280.8h0M142.5 270.9h0M122.2 270.1h0M143.0 285.3h0M140.3 288.4h0M135.3 295.2h0M143.9 263.0h0M134.4 267.7h0M143.2 275.0h0M143.3 274.9h0M133.8 286.2h0M136.7 293.2h0M123.6 268.8h0M149.9 264.0h0M153.0 280.0h0M130.9 270.3h0M130.8 266.6h0M158.7 283.9h0M158.2 293.6h0M142.0 275.2h0M138.9 285.2h0M146.7 261.1h0M135.0 270.6h0M161.1 285.2h0M146.2 268.5h0M161.1 267.8h0M134.2 260.3h0M167.8 264.7h0M168.0 275.3h0M142.5 267.5h0M125.9 261.4h0M121.8 268.9h0M127.0 284.8h0M167.3 279.8h0M146.3 271.2h0M147.1 290.7h0M154.8 259.6h0M153.1 294.6h0M139.9 273.6h0M127.0 282.6h0M131.9 260.2h0M135.1 270.9h0M162.1 275.8h0M161.1 280.0h0M147.9 292.8h0M159.1 291.4h0M160.9 274.4h0M125.1 295.0h0M126.8 265.6h0M131.7 295.6h0M135.8 277.1h0M132.9 275.6h0M158.6 284.6h0M144.7 266.1h0M131.5 290.2h0M138.5 268.9h0M133.1 268.4h0M153.8 291.7h0M155.3 294.7h0M153.0 284.2h0M127.0 292.0h0M159.3 271.5h0M153.1 276.3h0M157.9 295.2h0M123.3 264.2h0M121.4 261.8h0M147.0 284.8h0M141.7 280.6h0M161.6 292.5h0M133.2 269.5h0M165.8 283.7h0M125.6 286.7h0M166.5 263.6h0M143.5 268.1h0M157.9 259.7h0M146.7 283.0h0M137.6 291.2h0M121.9 273.5h0M141.6 286.7h0M164.1 289.9h0M149.4 281.5h0M127.2 281.5h0M130.3 286.6h0M131.6 285.8h0M128.5 266.4h0M151.4 280.8h0M166.1 288.2h0M156.3 276.0h0M135.3 280.7h0M140.2 276.6h0M132.7 290.1h0M132.6 274.9h0M165.8 280.4h0M144.9 292.9h0M130.8 290.1h0M141.4 295.3h0M151.8 291.7h0M136.2 269.6h0M159.3 266.5h0M152.2 259.5h0M126.3 279.7h0M128.6 282.7h0M148.7 262.1h0M158.4 284.8h0M125.5 290.7h0M145.9 264.6h0M138.3 272.1h0M143.2 278.3h0M156.3 275.6h0M158.7 294.5h0M160.9 262.7h0M132.2 279.7h0M147.0 283.5h0M158.1 272.2h0M145.0 277.1h0M166.3 275.4h0M146.9 277.8h0M130.1 295.7h0M158.5 265.6h0M146.8 282.2h0M127.2 266.2h0M150.9 268.3h0M121.8 268.7h0M148.8 260.3h0M158.9 271.0h0M139.9 285.8h0M128.4 271.1h0M153.0 274.0h0M150.4 261.1h0M151.4 267.6h0M162.2 265.4h0M127.9 284.7h0M144.0 279.3h0M162.3 294.2h0M133.2 270.0h0M165.7 287.9h0M128.3 263.0h0M166.0 264.1h0M132.2 280.1h0M135.3 281.3h0M150.4 276.7h0M132.9 278.3h0M164.3 274.4h0M158.2 276.1h0M127.1 263.1h0M156.2 265.3h0M138.9 259.8h0M124.3 286.5h0M152.5 271.0h0M124.4 263.6h0M134.9 267.6h0M132.5 262.8h0M133.7 273.8h0M131.6 267.6h0M129.8 288.3h0M128.8 268.9h0M146.4 271.6h0M128.4 295.1h0" stroke="#5a3ae0" stroke-width="0.95" stroke-linecap="round" fill="none" opacity="0.55"/>
</g>
</g>
<g clip-path="url(#c10)">
<rect x="169.30" y="220.00" width="47.00" height="36.00" fill="#000"/>
<path d="M192.7 233.0h0M203.2 236.1h0M190.6 220.9h0M185.0 237.1h0M190.5 223.2h0M183.2 232.2h0M211.7 245.8h0M211.5 221.2h0M180.0 239.4h0M172.2 228.3h0M195.6 220.0h0M187.7 221.1h0M180.6 252.2h0M187.5 229.6h0M212.1 250.8h0M181.3 235.4h0M178.6 247.5h0M190.6 247.7h0M204.8 224.8h0M175.7 246.7h0M210.2 226.5h0M209.6 227.3h0M185.3 242.9h0M176.3 238.4h0M189.8 223.5h0M172.1 235.5h0M192.9 238.3h0M172.3 235.5h0M215.2 245.5h0M184.5 245.0h0M187.9 240.5h0M175.3 220.1h0M202.6 236.6h0M171.6 256.0h0M198.8 228.5h0M193.0 248.9h0M191.8 245.5h0M169.7 248.8h0M196.2 232.8h0M188.6 251.5h0M213.6 230.9h0M208.2 231.9h0M194.4 222.1h0M186.4 237.7h0M171.8 252.7h0M205.0 252.6h0M193.1 226.7h0M187.1 222.5h0M193.1 237.0h0M181.9 248.0h0M201.2 255.3h0M188.4 241.9h0M176.3 234.0h0M202.8 231.2h0M206.3 238.6h0M177.5 223.6h0M172.2 241.9h0M181.3 231.9h0M211.0 221.3h0M191.6 244.3h0M179.8 254.8h0M211.0 243.0h0M177.9 230.8h0M181.0 228.6h0M172.9 250.8h0M205.0 221.1h0M214.0 239.0h0M211.0 231.4h0M207.3 224.8h0M177.2 239.2h0M202.2 234.3h0M207.9 231.6h0M213.4 235.7h0M209.0 245.9h0M177.8 221.6h0M188.2 248.4h0M190.7 244.7h0M180.7 252.9h0M186.0 227.4h0M172.7 227.6h0M175.6 226.0h0M169.4 241.1h0M209.3 232.4h0M216.1 253.8h0M199.8 231.6h0M213.9 229.2h0M182.9 250.4h0M191.4 248.5h0M189.3 245.1h0M174.3 233.8h0" stroke="#2a2ad8" stroke-width="0.9" stroke-linecap="round" fill="none" opacity="0.85"/>
<path d="M213.5 251.1h0M196.3 239.3h0M215.2 252.1h0M186.4 234.1h0M189.0 235.5h0M211.6 237.2h0M206.3 249.5h0M188.2 234.5h0M190.2 252.4h0M213.4 250.5h0M196.9 239.0h0M215.9 234.5h0M197.9 238.8h0M203.5 237.2h0M207.1 253.0h0M205.4 229.2h0M184.2 234.4h0M212.3 246.5h0M211.0 229.6h0M187.4 222.6h0M196.8 224.7h0M185.6 233.5h0M177.1 239.5h0M201.6 246.9h0M192.8 237.3h0M189.2 231.1h0M178.9 246.6h0M207.1 232.2h0M185.2 232.5h0M210.0 242.8h0M171.1 245.6h0M216.2 242.5h0M170.6 231.3h0M182.7 255.4h0M213.6 254.9h0M211.5 229.1h0M211.1 220.5h0M178.0 224.8h0M215.4 247.9h0M178.2 250.6h0M173.9 251.6h0M211.4 255.3h0M192.9 235.8h0M207.5 233.6h0M177.6 235.4h0M198.3 249.8h0M193.8 238.4h0M216.2 237.5h0M199.6 220.7h0M176.3 227.7h0M209.4 227.4h0M210.8 251.1h0M209.0 237.6h0M206.0 239.7h0M188.5 244.0h0M178.0 227.5h0M198.4 250.1h0M183.0 221.3h0M193.4 226.7h0M200.6 222.5h0M183.9 244.5h0M191.3 233.5h0M194.5 238.0h0M189.4 235.7h0M194.0 242.3h0M185.9 249.6h0M214.2 235.9h0M176.9 230.4h0M179.6 235.7h0M199.2 220.2h0M187.8 229.4h0M189.8 227.1h0M213.7 230.7h0M170.5 237.7h0M198.6 242.6h0M190.9 228.0h0M173.5 250.2h0M210.7 254.8h0M169.8 231.7h0M209.9 224.5h0M170.1 231.6h0M185.3 246.8h0M177.2 251.4h0M170.9 247.8h0M213.1 245.8h0M187.9 220.6h0M177.0 220.3h0M211.6 238.3h0M185.5 229.6h0M185.6 249.6h0" stroke="#2a2ad8" stroke-width="0.9" stroke-linecap="round" fill="none" opacity="0.34"/>
</g>
<g transform="translate(0,-0.43)">
<g clip-path="url(#c11)">
<rect x="169.30" y="259.50" width="47.00" height="36.25" fill="#000"/>
<rect x="169.30" y="259.50" width="47.00" height="36.25" filter="url(#rC2)"/>
<rect x="169.30" y="259.50" width="47.00" height="36.25" fill="#000" opacity="0.22"/>
<g filter="url(#bl)" fill="#000">
<polygon points="169.3,259.5 192.8,259.5 169.3,281.2" opacity="1"/>
<polygon points="169.3,284.9 185.8,295.8 169.3,295.8" opacity="1"/>
<polygon points="202.2,295.8 216.3,283.1 216.3,295.8" opacity="1"/>
<polygon points="206.9,259.5 216.3,259.5 216.3,270.4" opacity="0.6"/>
</g>
</g>
</g>
<g transform="translate(0,38.41)">
<g clip-path="url(#c12)">
<rect x="169.30" y="259.50" width="47.00" height="36.25" fill="#000"/>
<rect x="169.30" y="259.50" width="47.00" height="36.25" filter="url(#rC2)"/>
<rect x="169.30" y="259.50" width="47.00" height="36.25" fill="#000" opacity="0.22"/>
<g filter="url(#bl)" fill="#000">
<polygon points="169.3,259.5 192.8,259.5 169.3,281.2" opacity="1"/>
<polygon points="169.3,284.9 185.8,295.8 169.3,295.8" opacity="1"/>
<polygon points="202.2,295.8 216.3,283.1 216.3,295.8" opacity="1"/>
<polygon points="206.9,259.5 216.3,259.5 216.3,270.4" opacity="0.6"/>
</g>
<path d="M204.7 272.4h0M200.8 272.6h0M203.6 272.2h0M189.0 271.3h0M173.3 264.2h0M192.7 266.8h0M173.8 283.1h0M185.9 294.7h0M172.1 290.3h0M198.5 287.3h0M200.7 283.3h0M193.7 279.4h0M186.3 280.9h0M193.2 284.7h0M179.8 263.4h0M185.5 262.4h0M175.7 266.3h0M182.5 270.5h0M176.6 294.8h0M188.2 275.4h0M181.3 273.2h0M171.9 288.5h0M196.3 293.9h0M181.0 285.6h0M169.5 270.8h0M204.9 294.5h0M201.5 275.2h0M174.1 273.2h0M201.1 273.4h0M174.7 276.5h0M175.9 281.8h0M188.9 289.9h0M208.0 292.9h0M203.2 270.7h0M205.9 272.0h0M203.0 294.8h0M205.1 277.6h0M191.9 280.1h0M186.6 268.9h0M169.9 293.7h0M170.8 259.7h0M179.2 262.0h0M204.4 290.1h0M196.5 276.0h0M211.9 289.6h0M215.8 294.8h0M191.4 263.0h0M209.5 262.5h0M197.8 263.3h0M207.2 275.8h0M196.1 269.5h0M171.8 287.9h0M196.7 290.7h0M188.9 289.7h0M215.0 288.4h0M182.6 293.1h0M171.3 270.7h0M194.4 272.9h0M173.4 279.5h0M200.1 279.3h0M177.2 266.1h0M178.7 273.4h0M200.7 260.0h0M202.3 289.6h0M178.1 275.0h0M188.0 265.5h0M211.3 289.9h0M213.1 288.7h0M186.5 271.8h0M197.3 292.1h0M188.9 290.8h0M204.3 287.0h0M210.9 284.9h0M205.5 287.0h0M189.3 295.7h0M200.3 271.6h0M189.0 264.5h0M202.0 262.4h0M200.0 275.3h0M177.0 277.0h0M171.3 282.9h0M180.1 259.6h0M207.0 282.4h0M205.4 288.1h0M196.7 274.5h0M181.9 264.0h0M171.0 291.3h0M186.4 282.3h0M212.3 267.4h0M199.2 291.2h0M185.7 276.8h0M213.9 261.9h0M169.7 289.4h0M206.7 294.6h0M180.2 295.2h0M192.4 288.0h0M178.5 282.2h0M214.3 263.9h0M194.7 285.6h0M213.8 274.1h0M178.6 295.4h0M207.5 281.2h0M188.0 281.7h0M210.1 265.5h0M173.0 292.9h0M183.1 264.6h0M182.0 294.8h0M170.4 276.7h0M197.1 281.7h0M181.5 261.1h0M214.9 286.0h0M172.1 275.1h0M170.9 279.3h0M197.4 266.7h0M211.0 273.5h0M213.1 267.8h0M204.3 286.3h0M206.2 268.8h0M190.6 275.8h0M185.9 272.7h0M200.4 271.1h0M192.0 294.6h0M175.0 288.3h0M177.1 290.0h0M181.6 277.0h0M178.0 286.0h0M187.4 272.0h0M200.2 265.5h0M174.0 272.4h0M199.1 291.3h0M210.8 293.8h0M176.1 278.0h0M181.1 275.0h0M182.5 276.9h0M199.4 270.4h0M204.9 261.7h0M201.9 287.8h0M179.2 284.9h0M195.9 275.4h0M177.1 266.2h0M195.6 279.3h0M181.7 274.0h0M182.2 278.6h0M169.8 275.8h0M190.1 261.1h0M176.6 277.6h0M214.0 272.1h0M185.6 280.6h0M169.7 294.5h0M203.3 281.1h0M172.2 277.8h0M181.5 287.9h0M183.5 266.6h0M205.5 294.4h0M197.1 286.7h0M179.2 291.9h0M213.9 279.1h0M209.4 264.4h0M192.7 270.6h0M190.2 259.7h0M210.8 270.7h0M169.9 261.6h0M207.8 282.2h0M195.1 275.9h0M182.6 279.7h0M215.7 268.9h0M201.5 261.0h0M178.7 280.5h0M199.6 267.9h0M181.9 289.9h0M199.3 282.8h0M178.3 276.0h0M216.0 276.5h0M176.2 279.3h0M202.0 266.9h0M188.6 277.1h0M173.0 269.9h0M204.9 287.0h0M206.5 273.3h0M182.1 270.0h0" stroke="#5a3ae0" stroke-width="0.95" stroke-linecap="round" fill="none" opacity="0.55"/>
</g>
</g>
<g clip-path="url(#c13)">
<rect x="217.40" y="220.00" width="47.00" height="36.00" fill="#000"/>
<path d="M237.2 255.1h0M246.2 244.9h0M241.3 226.8h0M256.4 250.4h0M227.3 243.4h0M250.3 245.7h0M255.4 250.4h0M234.8 238.2h0M251.3 225.2h0M218.7 225.5h0M256.7 231.7h0M231.6 224.2h0M223.1 254.9h0M219.8 255.4h0M243.4 228.9h0M218.1 251.7h0M235.7 254.1h0M220.2 248.7h0M248.5 249.1h0M240.5 245.9h0M238.1 228.5h0M223.6 237.0h0M252.0 220.7h0M224.6 253.1h0M242.4 240.0h0M245.9 225.3h0M238.1 234.0h0M251.3 237.6h0M248.2 253.1h0M240.3 248.7h0M243.9 254.6h0M239.8 229.0h0M262.0 246.7h0M224.1 232.9h0M240.6 221.9h0M227.7 224.0h0M222.6 223.0h0M257.6 250.2h0M240.8 232.2h0M259.0 247.8h0M238.0 233.1h0M264.4 220.4h0M249.5 240.8h0M230.5 238.9h0M226.6 245.0h0M249.1 244.7h0M245.8 221.4h0M217.8 247.0h0M264.2 244.3h0M262.7 251.8h0M237.8 241.0h0M262.0 221.1h0M227.4 249.2h0M263.1 223.8h0M243.4 254.3h0M251.5 251.0h0M228.7 234.0h0M252.4 228.9h0M233.3 252.7h0M259.9 239.3h0M246.8 251.9h0M217.9 226.8h0M232.2 250.1h0M259.2 238.8h0M255.7 220.6h0M242.6 236.2h0M248.8 223.7h0M227.9 229.7h0M246.4 228.6h0M236.6 240.5h0M246.3 255.2h0M231.6 221.1h0M260.8 242.5h0M257.4 235.9h0M246.0 228.7h0M253.5 243.2h0M239.2 241.5h0M241.8 223.8h0M235.0 232.4h0M258.9 238.2h0M222.0 231.2h0M221.9 224.7h0M247.0 236.2h0M243.8 224.9h0M240.2 255.8h0M259.5 244.7h0M261.8 226.6h0M229.6 246.5h0M261.6 222.1h0M251.9 246.4h0M240.8 226.8h0M249.5 253.5h0M262.9 231.1h0M244.7 239.8h0M256.7 230.7h0M231.0 221.0h0M227.6 248.0h0M257.7 255.7h0M219.8 230.6h0M245.1 223.2h0" stroke="#2a2ad8" stroke-width="0.9" stroke-linecap="round" fill="none" opacity="0.85"/>
<path d="M244.4 245.5h0M244.0 238.3h0M236.1 239.7h0M261.4 233.1h0M239.5 249.6h0M239.2 221.2h0M218.1 225.7h0M257.3 251.6h0M236.6 234.0h0M264.2 231.5h0M225.7 227.3h0M226.7 230.1h0M240.2 240.6h0M253.4 224.7h0M255.9 227.1h0M243.7 255.8h0M236.8 247.5h0M245.0 227.2h0M244.1 222.9h0M255.9 252.5h0M259.1 255.9h0M239.0 220.8h0M243.3 239.3h0M262.9 249.3h0M242.4 235.5h0M238.3 221.0h0M243.6 232.7h0M254.5 222.4h0M236.1 222.7h0M264.3 234.7h0M226.2 241.1h0M228.8 223.1h0M252.7 254.7h0M217.9 228.1h0M226.7 228.7h0M236.4 220.9h0M258.1 222.8h0M257.2 224.8h0M259.6 235.6h0M253.2 245.6h0M241.3 237.0h0M258.4 249.9h0M223.7 254.0h0M232.5 236.6h0M245.6 249.4h0M227.3 237.2h0M258.1 234.8h0M237.8 237.2h0M260.5 254.2h0M253.3 244.8h0M238.1 235.5h0M256.1 236.6h0M259.4 247.0h0M255.1 235.7h0M233.8 243.0h0M249.8 236.2h0M235.9 254.2h0M259.2 220.4h0M225.6 221.2h0M259.9 227.0h0M239.7 244.7h0M237.7 226.4h0M229.0 234.0h0M224.6 232.9h0M241.5 227.7h0M257.4 244.1h0M250.5 223.7h0M246.8 242.2h0M219.8 242.0h0M229.0 238.6h0M242.1 232.1h0M225.0 250.5h0M232.3 242.7h0M230.0 253.3h0M247.8 225.6h0M238.1 250.1h0M259.1 238.5h0M243.7 247.2h0M237.9 225.9h0M251.9 232.8h0M221.9 252.3h0M222.6 254.4h0M234.7 235.5h0M257.0 252.2h0M245.6 222.4h0M224.9 239.0h0M230.4 253.9h0M227.9 237.3h0M230.3 227.9h0M258.5 243.9h0M241.8 253.9h0M232.8 245.7h0M240.5 250.3h0M246.6 251.9h0M252.1 243.2h0M251.7 246.6h0M252.4 244.7h0M248.3 252.8h0M226.1 220.9h0M243.7 248.0h0" stroke="#2a2ad8" stroke-width="0.9" stroke-linecap="round" fill="none" opacity="0.34"/>
</g>
<g transform="translate(0,-0.57)">
<g clip-path="url(#c14)">
<rect x="217.40" y="259.50" width="47.00" height="36.25" fill="#000"/>
<rect x="217.40" y="259.50" width="47.00" height="36.25" filter="url(#rC)"/>
<rect x="217.40" y="259.50" width="47.00" height="36.25" fill="#000" opacity="0.25"/>
<g filter="url(#bl)" fill="#000">
<polygon points="245.6,277.6 264.4,272.6 264.4,289.2" opacity="1"/>
<polygon points="230.1,259.5 232.0,259.5 234.3,295.8 232.4,295.8" opacity="0.7"/>
<polygon points="217.4,288.5 226.8,295.8 217.4,295.8" opacity="0.6"/>
</g>
<polyline points="230.1,259.5 231.5,277.6 234.3,295.8" fill="none" stroke="#000" stroke-width="1.0" opacity="0.75"/>
</g>
</g>
<g transform="translate(0,38.29)">
<g clip-path="url(#c15)">
<rect x="217.40" y="259.50" width="47.00" height="36.25" fill="#000"/>
<rect x="217.40" y="259.50" width="47.00" height="36.25" filter="url(#rC)"/>
<rect x="217.40" y="259.50" width="47.00" height="36.25" fill="#000" opacity="0.25"/>
<g filter="url(#bl)" fill="#000">
<polygon points="245.6,277.6 264.4,272.6 264.4,289.2" opacity="1"/>
<polygon points="230.1,259.5 232.0,259.5 234.3,295.8 232.4,295.8" opacity="0.7"/>
<polygon points="217.4,288.5 226.8,295.8 217.4,295.8" opacity="0.6"/>
</g>
<polyline points="230.1,259.5 231.5,277.6 234.3,295.8" fill="none" stroke="#000" stroke-width="1.0" opacity="0.75"/>
<path d="M223.2 290.0h0M217.5 281.1h0M249.0 265.7h0M257.7 289.1h0M246.0 270.0h0M244.1 294.4h0M226.8 284.8h0M252.4 273.7h0M233.2 260.2h0M240.5 293.7h0M244.3 284.7h0M264.4 287.9h0M239.6 270.8h0M260.4 275.6h0M233.1 270.8h0M237.3 266.7h0M255.3 281.0h0M251.0 264.4h0M231.9 261.8h0M241.4 290.4h0M233.8 271.2h0M261.2 273.9h0M221.0 261.6h0M225.3 260.2h0M257.9 278.1h0M260.0 294.3h0M225.0 288.9h0M246.5 278.3h0M242.1 275.5h0M226.7 269.3h0M249.3 280.2h0M231.6 285.0h0M218.8 274.3h0M236.1 271.4h0M222.3 267.3h0M248.0 287.0h0M222.5 270.9h0M222.2 295.4h0M237.7 295.7h0M241.8 273.1h0M235.4 284.1h0M232.3 279.5h0M224.4 271.0h0M232.2 266.7h0M221.8 283.6h0M221.7 292.3h0M260.6 272.1h0M225.2 285.7h0M253.8 273.2h0M245.2 293.9h0M236.9 295.0h0M230.2 293.8h0M220.1 295.4h0M258.7 287.2h0M231.8 263.5h0M232.6 287.2h0M224.4 269.5h0M263.6 280.3h0M225.6 267.1h0M229.4 281.6h0M226.1 281.1h0M233.5 282.9h0M234.9 274.8h0M261.3 263.8h0M231.6 264.1h0M258.4 262.7h0M234.3 295.2h0M231.3 295.2h0M233.3 280.1h0M244.5 278.8h0M238.4 260.6h0M248.2 279.6h0M239.6 278.5h0M255.3 290.9h0M228.3 266.9h0M236.1 290.2h0M253.3 259.5h0M235.0 265.2h0M240.6 272.6h0M227.8 277.4h0M234.7 291.3h0M231.4 273.0h0M231.6 267.5h0M226.3 275.0h0M231.9 273.6h0M223.5 267.4h0M251.9 272.4h0M234.3 263.2h0M242.2 288.7h0M261.3 292.9h0M223.9 292.7h0M219.9 264.1h0M254.7 265.5h0M232.4 276.6h0M217.8 278.0h0M237.7 282.6h0M255.1 283.0h0M221.4 269.8h0M227.6 294.2h0M244.5 268.7h0M263.2 261.9h0M219.6 288.4h0M256.3 269.3h0M257.0 288.7h0M237.3 270.9h0M252.7 289.7h0M245.3 270.2h0M241.0 293.6h0M256.1 268.0h0M255.1 295.6h0M250.7 290.1h0M251.0 277.9h0M261.4 267.8h0M231.3 274.7h0M241.8 275.8h0M225.9 262.7h0M254.9 263.3h0M229.2 275.1h0M218.0 269.0h0M247.7 269.6h0M223.3 274.5h0M261.1 266.0h0M258.7 265.7h0M230.7 288.8h0M238.8 288.8h0M225.3 284.6h0M263.1 275.4h0M248.3 263.4h0M220.6 288.0h0M237.0 273.8h0M224.3 273.3h0M219.3 287.6h0M220.0 295.2h0M232.9 294.5h0M223.3 286.3h0M229.3 279.0h0M230.3 264.1h0M217.7 275.0h0M257.8 276.4h0M264.1 287.9h0M241.7 273.1h0M258.0 273.1h0M235.9 290.5h0M218.8 268.0h0M239.2 293.8h0M227.1 269.8h0M243.4 286.7h0M247.6 284.5h0M262.1 275.1h0M244.3 292.6h0M222.6 275.1h0M236.2 292.3h0M228.0 270.0h0M232.1 272.9h0M261.9 290.1h0M220.8 272.7h0M245.9 270.1h0M262.9 269.7h0M228.6 291.7h0M253.8 262.6h0M255.0 292.5h0M220.8 271.2h0M242.1 287.6h0M247.6 268.4h0M243.3 270.3h0M250.3 273.3h0M259.5 280.3h0M255.9 280.6h0M244.8 292.6h0M241.6 292.0h0M257.3 286.1h0M238.2 268.5h0M259.9 285.1h0M219.0 288.0h0M226.8 281.5h0M220.4 279.9h0M247.2 271.2h0M252.4 288.4h0M241.2 264.0h0M234.8 272.7h0M244.4 293.7h0M230.9 264.2h0M258.9 268.3h0M233.6 291.7h0M221.0 280.2h0M236.2 293.6h0M256.7 261.6h0M252.4 263.2h0M238.1 268.9h0M251.0 286.5h0M218.9 282.2h0M220.6 267.3h0M241.7 281.3h0M262.2 266.4h0M259.1 263.4h0M226.4 292.9h0M249.0 282.1h0M237.2 271.7h0M243.4 265.3h0M258.9 262.6h0" stroke="#5a3ae0" stroke-width="0.95" stroke-linecap="round" fill="none" opacity="0.55"/>
</g>
</g>
<g clip-path="url(#c16)">
<rect x="265.50" y="220.00" width="47.00" height="36.00" fill="#000"/>
<path d="M288.2 252.5h0M290.8 251.5h0M292.4 255.8h0M282.3 243.8h0M288.4 240.6h0M280.7 249.1h0M303.5 243.8h0M292.8 221.6h0M301.8 232.2h0M270.0 228.4h0M279.4 224.4h0M287.8 251.5h0M293.4 234.2h0M282.2 250.4h0M299.0 239.5h0M278.0 253.5h0M296.7 250.5h0M278.4 241.6h0M287.0 232.0h0M303.7 241.5h0M312.3 249.8h0M266.4 242.0h0M279.0 248.8h0M303.9 226.8h0M309.0 239.3h0M304.8 242.7h0M272.6 239.0h0M287.0 221.5h0M271.4 222.4h0M307.7 237.0h0M274.4 232.3h0M276.1 230.6h0M283.1 236.6h0M288.0 254.5h0M267.0 235.7h0M277.2 253.6h0M282.3 228.1h0M306.3 227.4h0M293.7 244.4h0M309.6 234.0h0M295.1 233.2h0M267.7 250.6h0M307.3 253.0h0M270.8 248.0h0M267.0 221.4h0M299.8 243.5h0M293.7 255.3h0M283.2 242.6h0M304.2 237.0h0M285.8 251.3h0M280.9 244.7h0M273.8 245.7h0M304.1 231.2h0M299.5 255.6h0M291.4 222.7h0M290.0 252.0h0M293.7 225.6h0M295.7 231.6h0M309.2 224.0h0M303.4 229.6h0M295.8 244.4h0M269.4 229.4h0M298.1 242.3h0M285.6 234.3h0M290.5 250.3h0M268.7 243.3h0M283.5 243.3h0M265.6 239.5h0M283.8 222.9h0M267.6 232.1h0M288.2 236.3h0M295.5 242.4h0M297.3 252.0h0M306.8 223.8h0M297.9 224.3h0M304.6 255.8h0M292.8 231.7h0M293.3 240.4h0M304.4 225.6h0M292.6 235.6h0" stroke="#2a2ad8" stroke-width="0.9" stroke-linecap="round" fill="none" opacity="0.85"/>
<path d="M274.7 234.1h0M290.7 231.9h0M305.2 244.9h0M312.5 253.4h0M285.2 252.0h0M284.2 232.4h0M296.7 225.0h0M269.0 254.1h0M275.6 239.7h0M287.1 239.9h0M306.0 250.9h0M274.4 220.8h0M290.0 241.0h0M297.4 247.9h0M310.6 235.1h0M284.7 227.1h0M300.5 220.5h0M276.0 237.5h0M270.2 224.4h0M292.7 245.0h0M294.1 239.4h0M310.0 220.3h0M290.9 230.3h0M305.4 228.8h0M281.8 245.1h0M265.8 221.4h0M272.3 245.4h0M295.4 235.5h0M268.4 239.0h0M273.4 237.6h0M305.6 241.4h0M311.8 250.2h0M309.6 242.4h0M311.5 239.6h0M300.2 229.4h0M306.9 235.6h0M312.2 246.3h0M287.3 238.6h0M292.6 230.4h0M309.0 229.5h0M306.0 231.7h0M267.8 222.9h0M296.4 251.4h0M294.3 229.5h0M287.6 235.4h0M283.7 240.2h0M268.7 239.4h0M280.4 238.2h0M303.2 253.7h0M294.8 231.3h0M285.7 243.1h0M277.2 238.0h0M296.8 249.3h0M312.1 224.4h0M277.2 234.9h0M277.7 227.3h0M300.9 226.7h0M268.7 238.0h0M276.4 254.8h0M281.6 255.3h0M296.9 222.7h0M267.3 232.0h0M308.3 226.4h0M270.7 220.4h0M308.9 250.3h0M307.4 249.5h0M311.9 222.3h0M293.6 227.9h0M277.7 236.0h0M271.5 234.5h0M282.4 222.5h0M310.3 255.7h0M305.5 250.8h0M304.1 241.7h0M282.7 224.5h0M275.8 242.0h0M288.2 238.9h0M272.2 246.8h0M289.6 243.5h0M299.9 222.3h0" stroke="#2a2ad8" stroke-width="0.9" stroke-linecap="round" fill="none" opacity="0.34"/>
</g>
<g transform="translate(0,-0.71)">
<g clip-path="url(#c17)">
<rect x="265.50" y="259.50" width="47.00" height="36.25" fill="#000"/>
<rect x="265.50" y="259.50" width="47.00" height="36.25" filter="url(#rC2)"/>
<rect x="265.50" y="259.50" width="47.00" height="36.25" fill="#000" opacity="0.35"/>
<g filter="url(#bl)" fill="#000">
<polygon points="265.5,289.2 312.5,287.8 312.5,295.8 265.5,295.8" opacity="1"/>
<polygon points="286.6,259.5 291.4,259.5 291.4,295.8 286.6,295.8" opacity="0.6"/>
<polygon points="265.5,259.5 274.9,259.5 265.5,270.4" opacity="0.7"/>
</g>
<polyline points="289.0,259.5 289.0,295.8" fill="none" stroke="#000" stroke-width="0.9" opacity="0.5"/>
</g>
</g>
<g transform="translate(0,38.18)">
<g clip-path="url(#c18)">
<rect x="265.50" y="259.50" width="47.00" height="36.25" fill="#000"/>
<rect x="265.50" y="259.50" width="47.00" height="36.25" filter="url(#rC2)"/>
<rect x="265.50" y="259.50" width="47.00" height="36.25" fill="#000" opacity="0.35"/>
<g filter="url(#bl)" fill="#000">
<polygon points="265.5,289.2 312.5,287.8 312.5,295.8 265.5,295.8" opacity="1"/>
<polygon points="286.6,259.5 291.4,259.5 291.4,295.8 286.6,295.8" opacity="0.6"/>
<polygon points="265.5,259.5 274.9,259.5 265.5,270.4" opacity="0.7"/>
</g>
<polyline points="289.0,259.5 289.0,295.8" fill="none" stroke="#000" stroke-width="0.9" opacity="0.5"/>
<path d="M269.6 272.1h0M292.2 267.0h0M286.3 286.9h0M303.4 285.7h0M285.4 280.9h0M296.7 286.4h0M290.2 282.4h0M307.7 266.3h0M301.8 264.6h0M282.2 295.7h0M286.9 286.8h0M283.4 286.0h0M270.9 275.2h0M277.8 287.7h0M301.2 295.6h0M287.6 285.9h0M293.1 291.4h0M309.4 293.2h0M300.0 272.7h0M297.8 295.3h0M283.4 278.2h0M269.6 286.8h0M276.4 279.3h0M275.3 293.6h0M286.0 275.3h0M277.2 281.6h0M269.9 270.6h0M296.1 269.8h0M292.0 271.8h0M289.6 268.2h0M293.4 269.8h0M285.9 292.2h0M296.0 291.1h0M294.0 262.5h0M272.7 267.1h0M309.8 271.9h0M280.1 279.5h0M273.7 287.1h0M311.9 277.2h0M290.1 265.9h0M280.8 288.0h0M311.1 291.3h0M272.2 292.2h0M288.3 265.0h0M295.5 266.5h0M291.0 286.2h0M307.2 293.3h0M283.2 289.4h0M298.3 283.8h0M296.0 287.0h0M292.7 280.5h0M298.2 265.9h0M269.4 292.7h0M292.1 267.0h0M295.4 285.2h0M265.6 267.5h0M283.9 293.2h0M278.0 269.9h0M305.5 293.0h0M269.5 260.6h0M304.3 280.4h0M270.8 295.2h0M269.9 278.6h0M268.0 271.9h0M284.3 291.4h0M302.1 269.8h0M293.1 270.7h0M277.1 278.0h0M289.9 279.7h0M311.6 294.9h0M298.3 287.2h0M291.6 283.0h0M276.6 275.3h0M297.8 282.6h0M269.8 294.7h0M291.4 289.2h0M285.9 292.1h0M286.1 286.3h0M296.7 270.3h0M285.8 272.0h0M266.3 261.0h0M289.9 260.6h0M269.7 264.3h0M283.5 267.9h0M278.2 290.4h0M280.1 265.2h0M267.6 276.4h0M282.9 275.6h0M310.4 294.6h0M304.3 284.4h0M302.3 282.9h0M304.8 279.4h0M308.1 259.7h0M307.5 276.6h0M287.4 264.7h0M309.8 294.5h0M277.4 295.3h0M304.8 263.7h0M302.0 279.4h0M275.0 292.5h0M276.0 290.1h0M297.4 275.0h0M289.0 293.4h0M266.3 262.8h0M273.4 264.1h0M299.0 278.5h0M297.1 265.2h0M269.0 280.8h0M300.9 284.1h0M303.2 294.3h0M278.5 286.0h0M308.5 262.4h0M295.5 291.9h0M265.6 269.9h0M287.7 268.7h0M305.0 261.8h0M279.7 279.7h0M307.4 277.0h0M280.8 266.8h0M271.9 265.7h0M301.8 295.7h0M288.5 277.5h0M274.3 260.2h0M286.7 265.3h0M305.2 284.6h0M279.4 267.3h0M287.6 288.1h0M277.9 274.1h0M273.7 275.4h0M310.9 276.4h0M287.9 264.9h0M301.5 285.2h0M279.8 293.8h0M293.3 280.2h0M295.4 280.4h0M287.1 293.9h0M300.7 279.2h0M267.5 291.2h0M297.9 287.4h0M309.7 289.4h0M297.9 270.1h0M285.0 280.0h0M301.5 266.2h0M268.2 268.1h0M289.8 262.7h0M282.8 292.3h0M266.3 266.0h0M304.6 273.0h0M297.8 286.8h0M277.4 260.4h0M303.8 269.0h0M289.0 288.5h0M271.3 286.8h0M270.8 281.5h0M311.6 288.4h0M279.2 288.6h0M287.0 280.2h0M278.7 265.4h0M302.1 290.3h0M297.3 286.5h0" stroke="#5a3ae0" stroke-width="0.95" stroke-linecap="round" fill="none" opacity="0.55"/>
</g>
</g>
<g clip-path="url(#c19)">
<rect x="313.60" y="220.00" width="47.00" height="36.00" fill="#000"/>
<path d="M329.9 228.2h0M314.2 253.5h0M328.8 220.0h0M323.5 238.6h0M349.5 231.1h0M320.7 222.5h0M354.6 231.1h0M326.4 255.4h0M348.3 247.7h0M348.1 221.4h0M350.4 255.6h0M360.0 223.3h0M342.6 252.5h0M351.1 233.6h0M330.3 234.5h0M338.3 234.8h0M343.7 243.2h0M347.4 236.6h0M358.1 239.7h0M338.1 255.9h0M352.8 241.3h0M338.4 255.8h0M331.5 225.9h0M330.5 222.9h0M353.1 254.6h0M317.6 222.2h0M336.3 247.1h0M340.2 225.2h0M356.0 234.1h0M315.7 236.5h0M334.5 222.9h0M331.4 229.0h0M328.4 234.7h0M321.7 234.0h0M349.3 228.0h0M340.1 222.3h0M336.7 243.4h0M330.5 220.4h0M326.4 239.3h0M343.2 224.7h0M325.8 223.1h0M348.5 226.6h0M358.2 251.2h0M326.7 248.1h0M316.1 238.9h0M349.7 239.2h0M320.3 245.5h0M343.3 229.2h0M320.3 250.5h0M315.0 246.8h0M322.2 248.5h0M349.0 229.1h0M330.3 226.9h0M343.6 248.8h0M335.4 254.5h0M352.8 250.2h0M321.7 253.5h0M334.2 224.8h0M349.8 237.2h0M348.2 251.6h0M337.0 223.6h0M327.2 226.9h0M357.8 226.1h0M352.0 249.6h0M343.0 234.4h0M315.4 233.2h0M323.3 223.0h0M343.5 226.9h0M335.1 226.9h0M335.3 253.3h0M338.4 238.5h0M354.4 223.2h0M333.9 244.1h0M339.3 236.7h0M336.8 222.0h0M346.3 245.8h0M315.3 248.7h0M331.7 238.8h0M346.7 252.2h0M320.3 234.8h0M337.8 236.7h0M353.8 235.1h0M320.8 230.7h0M327.8 227.1h0M316.6 221.2h0M353.3 250.1h0M334.8 254.1h0M344.0 224.0h0M320.2 223.4h0M347.2 244.1h0M314.4 227.6h0M355.3 243.8h0M322.7 249.5h0M313.7 226.2h0M317.0 226.9h0M323.4 248.5h0M331.7 245.2h0M348.3 248.4h0M360.0 238.1h0M359.3 253.9h0M337.4 223.3h0M327.2 237.6h0M340.0 240.1h0M356.5 254.7h0M314.2 245.3h0M318.0 244.5h0M356.8 225.9h0M335.0 234.6h0M359.5 245.1h0M352.0 235.6h0" stroke="#2a2ad8" stroke-width="0.9" stroke-linecap="round" fill="none" opacity="0.85"/>
<path d="M333.1 238.5h0M360.3 229.5h0M314.0 255.9h0M352.8 250.5h0M355.7 242.1h0M339.0 255.6h0M349.3 232.9h0M319.7 243.5h0M347.4 240.4h0M330.9 234.0h0M321.6 252.3h0M349.8 236.9h0M347.3 251.7h0M332.9 226.4h0M353.7 251.8h0M335.5 241.4h0M337.6 250.9h0M345.0 241.3h0M345.9 240.5h0M339.4 242.4h0M346.4 226.0h0M324.1 238.6h0M325.4 225.0h0M322.6 237.9h0M322.8 220.7h0M354.5 221.3h0M342.1 232.2h0M343.3 246.7h0M345.1 232.1h0M320.7 247.5h0M354.3 232.4h0M332.8 255.1h0M325.1 222.1h0M333.1 221.9h0M341.6 240.5h0M317.0 254.2h0M343.4 242.6h0M331.3 236.7h0M328.5 230.9h0M351.0 237.4h0M345.1 222.0h0M357.3 233.9h0M346.5 246.8h0M328.8 234.6h0M333.9 224.8h0M353.0 243.9h0M322.1 242.7h0M319.2 246.8h0M348.7 249.4h0M342.4 244.4h0M354.4 244.8h0M352.5 235.6h0M316.9 236.1h0M345.2 255.6h0M360.4 233.8h0M314.4 251.9h0M359.0 239.3h0M341.6 254.5h0M332.0 220.1h0M348.0 222.3h0M351.5 248.4h0M358.6 234.7h0M332.7 229.9h0M334.3 220.2h0M346.8 253.3h0M330.0 228.4h0M337.8 234.9h0M331.9 231.9h0M359.4 244.1h0M346.3 234.2h0M332.3 224.8h0M331.7 255.5h0M343.7 244.3h0M344.8 233.8h0M326.3 246.3h0M350.5 248.8h0M355.9 255.4h0M357.4 222.4h0M357.3 228.8h0M336.0 224.3h0M337.0 248.0h0M338.2 241.7h0M322.6 231.5h0M329.4 246.2h0M333.4 245.1h0M354.2 251.8h0M327.1 226.9h0M319.1 247.2h0M336.7 224.1h0M356.1 234.9h0M336.7 228.6h0M341.0 255.5h0M345.7 237.6h0M350.7 238.1h0M318.5 244.3h0M348.8 225.4h0M337.9 234.4h0M360.4 221.7h0M324.7 245.1h0M331.2 223.3h0M337.6 252.5h0M338.0 246.3h0M328.3 220.9h0M350.3 223.9h0M353.6 241.6h0M323.7 224.5h0M326.8 220.1h0M335.9 242.1h0M334.9 234.6h0M322.6 229.0h0" stroke="#2a2ad8" stroke-width="0.9" stroke-linecap="round" fill="none" opacity="0.34"/>
</g>
<g transform="translate(0,-0.86)">
<g clip-path="url(#c20)">
<rect x="313.60" y="259.50" width="47.00" height="36.25" fill="#000"/>
<rect x="313.60" y="259.50" width="47.00" height="36.25" filter="url(#rC)"/>
<rect x="313.60" y="259.50" width="47.00" height="36.25" fill="#000" opacity="0.15"/>
<g filter="url(#bl)" fill="#000">
<polygon points="326.8,259.5 341.8,259.5 337.1,268.2 329.1,267.5" opacity="1"/>
<polygon points="338.0,278.4 360.6,271.8 360.6,277.6 342.7,282.7" opacity="1"/>
<polygon points="348.9,295.8 360.6,286.7 360.6,295.8" opacity="1"/>
<polygon points="313.6,259.5 319.2,259.5 313.6,270.4" opacity="0.8"/>
</g>
</g>
</g>
<g transform="translate(0,38.06)">
<g clip-path="url(#c21)">
<rect x="313.60" y="259.50" width="47.00" height="36.25" fill="#000"/>
<rect x="313.60" y="259.50" width="47.00" height="36.25" filter="url(#rC)"/>
<rect x="313.60" y="259.50" width="47.00" height="36.25" fill="#000" opacity="0.15"/>
<g filter="url(#bl)" fill="#000">
<polygon points="326.8,259.5 341.8,259.5 337.1,268.2 329.1,267.5" opacity="1"/>
<polygon points="338.0,278.4 360.6,271.8 360.6,277.6 342.7,282.7" opacity="1"/>
<polygon points="348.9,295.8 360.6,286.7 360.6,295.8" opacity="1"/>
<polygon points="313.6,259.5 319.2,259.5 313.6,270.4" opacity="0.8"/>
</g>
<path d="M318.9 290.9h0M350.9 294.9h0M330.3 292.6h0M356.4 281.4h0M337.6 292.8h0M316.8 283.3h0M318.5 285.4h0M356.3 274.5h0M335.3 277.0h0M315.2 261.0h0M356.1 280.9h0M359.2 268.0h0M332.2 266.2h0M320.3 291.8h0M323.0 295.0h0M339.2 267.3h0M356.7 261.2h0M327.9 275.3h0M349.6 267.8h0M351.9 287.1h0M352.6 260.6h0M325.9 292.9h0M331.5 262.3h0M325.0 268.5h0M351.7 295.7h0M335.6 278.4h0M315.7 279.2h0M343.7 292.6h0M336.1 289.2h0M325.1 292.1h0M346.4 273.1h0M359.3 273.1h0M339.5 261.0h0M336.2 264.7h0M357.1 259.8h0M329.1 275.1h0M332.0 260.7h0M322.7 276.5h0M345.0 290.8h0M347.9 280.8h0M359.3 291.1h0M358.9 279.8h0M334.9 295.4h0M351.5 268.6h0M350.0 274.5h0M339.3 288.8h0M349.9 280.1h0M327.7 280.6h0M328.7 260.0h0M358.2 265.5h0M358.9 276.9h0M360.4 293.1h0M318.5 269.3h0M349.1 272.9h0M321.7 271.5h0M329.7 265.9h0M329.9 282.6h0M357.3 277.0h0M357.5 282.6h0M321.6 289.8h0M354.8 266.5h0M315.3 269.5h0M352.1 283.1h0M349.2 293.2h0M336.5 278.4h0M330.2 261.2h0M351.0 265.5h0M359.5 283.1h0M347.3 283.9h0M327.3 282.4h0M350.2 285.4h0M334.5 265.3h0M335.5 268.5h0M315.9 261.7h0M355.8 267.9h0M326.5 277.5h0M334.3 272.3h0M345.4 276.6h0M329.0 294.2h0M353.7 270.0h0M347.0 260.5h0M360.4 260.8h0M359.0 289.8h0M342.6 267.2h0M318.5 287.9h0M321.3 294.6h0M346.2 291.1h0M356.4 292.8h0M331.5 281.0h0M345.3 262.5h0M316.0 265.1h0M326.5 285.9h0M330.7 287.4h0M349.4 284.7h0M318.6 284.4h0M331.5 269.0h0M359.6 287.4h0M347.9 273.8h0M353.9 269.3h0M327.1 290.3h0M315.7 281.7h0M360.3 287.7h0M352.4 278.0h0M342.7 282.2h0M341.1 285.4h0M328.2 267.6h0M351.7 280.4h0M329.5 268.7h0M355.9 271.9h0M329.5 288.5h0M331.9 267.6h0M328.5 267.1h0M329.1 280.0h0M313.7 286.5h0M358.3 281.9h0M334.8 283.4h0M347.4 277.8h0M346.7 276.6h0M317.1 286.9h0M354.2 272.3h0M345.9 291.4h0M359.4 266.9h0M323.7 279.4h0M346.4 262.8h0M322.8 278.4h0M349.5 280.5h0M352.2 279.0h0M332.6 282.8h0M328.5 267.8h0M345.9 289.2h0M325.4 286.8h0M354.2 265.0h0M348.9 266.3h0M319.8 275.3h0M351.5 261.5h0M357.1 279.5h0M340.9 289.8h0M340.3 290.0h0M331.7 291.3h0M319.3 293.0h0M325.5 269.7h0M338.4 293.6h0M326.0 266.0h0M355.6 292.7h0M314.6 276.5h0M344.4 284.6h0M331.4 265.9h0M355.8 262.9h0M325.8 295.3h0M349.2 288.4h0M342.8 264.4h0M335.5 290.7h0M355.4 286.4h0M345.1 294.9h0M326.4 276.8h0M328.8 280.1h0M314.2 269.4h0M346.6 262.9h0M357.0 273.7h0M336.1 283.6h0M328.7 291.8h0M325.2 293.5h0M336.8 278.7h0M332.3 289.2h0M339.7 291.2h0M344.3 269.0h0M354.6 283.7h0M338.8 278.4h0M315.1 269.9h0M314.3 287.3h0M358.9 267.8h0M344.1 262.1h0M354.6 279.6h0M350.3 286.8h0M333.2 261.6h0M355.6 290.7h0M353.9 263.5h0M332.1 286.2h0M328.9 294.2h0M318.1 269.1h0M315.4 287.3h0M358.9 275.0h0M332.6 290.4h0M320.5 265.2h0M323.1 280.9h0M359.6 291.1h0M344.1 262.4h0M345.0 277.7h0M342.2 264.1h0M317.8 260.7h0M335.9 280.3h0M339.8 292.4h0M350.6 266.6h0M354.9 270.8h0M337.2 286.0h0M333.6 269.8h0M318.1 270.4h0M358.6 290.8h0M347.4 283.9h0M321.6 270.3h0M340.8 264.7h0M319.9 289.0h0M319.3 291.2h0M331.1 272.2h0M351.8 281.0h0M345.5 274.4h0M325.7 262.4h0M316.6 285.4h0M344.4 268.3h0M349.8 260.2h0M351.0 262.8h0M358.3 271.6h0M339.1 270.6h0M340.6 266.3h0M321.2 265.2h0M342.8 275.2h0M337.0 282.2h0M322.9 290.6h0M313.8 277.9h0M335.3 260.0h0" stroke="#5a3ae0" stroke-width="0.95" stroke-linecap="round" fill="none" opacity="0.55"/>
</g>
</g>
<g clip-path="url(#c22)">
<rect x="361.70" y="220.00" width="47.00" height="36.00" fill="#000"/>
<path d="M401.9 248.8h0M389.6 251.9h0M396.6 249.2h0M372.3 255.1h0M391.5 240.1h0M382.7 230.2h0M404.1 221.2h0M382.2 226.8h0M405.2 252.4h0M367.4 253.0h0M391.5 252.1h0M406.0 243.3h0M375.5 228.2h0M363.0 240.6h0M366.0 255.0h0M364.0 249.4h0M367.4 234.2h0M397.5 229.6h0M363.2 229.7h0M402.6 251.7h0M370.4 227.3h0M386.0 237.8h0M390.3 252.4h0M398.6 237.3h0M367.1 222.5h0M376.7 220.3h0M386.2 242.5h0M373.5 242.2h0M379.9 227.9h0M402.8 230.3h0M366.2 247.2h0M393.9 221.8h0M370.1 241.9h0M373.4 233.3h0M364.5 224.4h0M383.3 234.4h0M383.6 227.7h0M391.1 230.3h0M391.5 250.0h0M401.2 220.7h0M387.1 229.8h0M382.8 229.5h0M377.4 238.6h0M394.0 224.5h0M362.8 246.3h0M372.6 231.2h0M394.5 245.9h0M382.4 237.7h0M364.2 234.1h0M393.4 246.3h0M370.1 244.9h0M367.8 223.0h0M384.6 252.1h0M387.8 220.7h0M390.3 240.4h0M385.3 251.2h0M371.1 238.0h0M379.6 253.1h0M367.6 228.7h0M377.7 225.9h0M408.0 238.9h0M362.4 228.7h0M367.2 227.7h0M370.7 245.9h0M363.6 227.3h0M364.5 253.9h0M378.7 224.6h0M364.4 248.4h0M400.8 247.6h0M404.6 231.4h0M371.1 230.9h0M367.2 226.6h0M382.3 221.5h0M383.0 254.0h0M375.9 232.0h0M374.2 252.9h0M386.5 248.1h0M369.7 255.1h0M400.3 246.8h0M392.3 253.3h0M370.9 246.6h0M385.8 224.4h0M363.0 232.4h0M394.4 242.0h0M371.3 221.4h0M399.2 234.1h0M403.7 234.3h0M390.5 245.1h0M362.6 235.3h0M369.5 242.3h0M362.7 226.9h0M390.8 250.2h0M383.8 228.7h0M382.9 230.2h0M395.2 243.7h0" stroke="#2a2ad8" stroke-width="0.9" stroke-linecap="round" fill="none" opacity="0.85"/>
<path d="M389.4 230.6h0M380.0 241.9h0M400.9 251.9h0M384.3 243.7h0M401.0 229.7h0M395.3 247.6h0M367.4 235.2h0M363.6 249.6h0M377.3 239.1h0M381.7 248.4h0M381.4 250.4h0M365.8 228.2h0M377.4 221.6h0M370.5 242.3h0M366.6 237.5h0M400.9 250.5h0M408.2 237.6h0M369.5 228.2h0M399.4 222.2h0M370.1 232.0h0M385.1 238.8h0M374.8 251.2h0M388.4 220.7h0M362.2 235.8h0M375.8 249.5h0M393.9 233.2h0M365.1 234.4h0M370.3 230.3h0M378.6 246.1h0M379.3 239.3h0M378.9 235.5h0M369.6 245.7h0M391.0 250.6h0M380.4 224.6h0M371.2 251.5h0M382.3 253.8h0M372.8 234.9h0M377.8 245.3h0M389.1 245.1h0M393.0 226.6h0M408.4 255.3h0M380.5 244.7h0M378.2 238.6h0M369.3 248.8h0M389.1 222.2h0M393.1 239.0h0M389.7 243.0h0M389.2 224.6h0M399.6 225.1h0M389.2 228.9h0M399.0 230.7h0M398.1 255.9h0M387.6 235.8h0M401.7 243.2h0M363.0 251.3h0M363.4 250.6h0M383.7 242.3h0M382.7 225.4h0M375.7 242.8h0M366.0 237.3h0M367.1 237.0h0M380.4 235.4h0M396.0 226.1h0M378.8 247.2h0M371.4 252.5h0M389.4 226.6h0M377.6 225.0h0M405.4 249.2h0M367.4 230.5h0M378.2 240.1h0M395.3 246.4h0M371.8 234.0h0M377.5 226.6h0M392.8 221.6h0M371.9 222.5h0M397.3 251.3h0M394.2 245.0h0M374.2 246.7h0M395.2 225.5h0M390.0 232.9h0M391.0 224.8h0M401.8 248.5h0M391.0 255.7h0M386.8 250.7h0M374.4 242.0h0M384.1 254.4h0M383.3 227.6h0M381.9 231.5h0M375.9 241.5h0M393.0 250.4h0M397.7 254.8h0M385.2 233.8h0M393.1 251.2h0M363.0 228.2h0M387.0 251.4h0" stroke="#2a2ad8" stroke-width="0.9" stroke-linecap="round" fill="none" opacity="0.34"/>
</g>
<g transform="translate(0,-1.00)">
<g clip-path="url(#c23)">
<rect x="361.70" y="259.50" width="47.00" height="36.25" fill="#000"/>
<rect x="361.70" y="259.50" width="47.00" height="36.25" filter="url(#rC2)"/>
<rect x="361.70" y="259.50" width="47.00" height="36.25" fill="#000" opacity="0.5"/>
<g filter="url(#bl)" fill="#000">
<polygon points="361.7,284.9 408.7,270.4 408.7,277.6 361.7,292.1" opacity="1"/>
<polygon points="361.7,259.5 375.8,259.5 361.7,270.4" opacity="0.8"/>
</g>
</g>
</g>
<g transform="translate(0,37.95)">
<g clip-path="url(#c24)">
<rect x="361.70" y="259.50" width="47.00" height="36.25" fill="#000"/>
<rect x="361.70" y="259.50" width="47.00" height="36.25" filter="url(#rC2)"/>
<rect x="361.70" y="259.50" width="47.00" height="36.25" fill="#000" opacity="0.5"/>
<g filter="url(#bl)" fill="#000">
<polygon points="361.7,284.9 408.7,270.4 408.7,277.6 361.7,292.1" opacity="1"/>
<polygon points="361.7,259.5 375.8,259.5 361.7,270.4" opacity="0.8"/>
</g>
<path d="M401.0 279.8h0M369.3 272.5h0M372.1 280.7h0M373.9 272.2h0M366.6 274.5h0M392.4 287.7h0M387.2 271.3h0M372.8 261.5h0M366.8 268.8h0M399.1 262.0h0M367.0 288.1h0M395.7 294.9h0M406.7 289.9h0M389.8 288.5h0M397.4 287.4h0M407.1 276.8h0M383.4 280.3h0M399.4 289.2h0M402.4 279.6h0M371.9 287.5h0M400.7 270.2h0M368.4 283.7h0M391.1 279.2h0M385.3 284.0h0M393.8 281.7h0M397.6 290.3h0M400.9 264.8h0M389.7 270.7h0M398.4 279.8h0M402.4 264.6h0M376.5 287.8h0M373.0 282.8h0M406.3 265.7h0M381.1 291.0h0M383.1 283.0h0M405.0 277.6h0M377.5 266.4h0M393.1 272.3h0M386.0 261.6h0M390.7 277.7h0M362.3 271.1h0M372.4 285.4h0M384.3 264.8h0M367.5 283.1h0M387.6 270.7h0M381.0 272.2h0M402.6 262.0h0M404.7 267.1h0M384.9 266.4h0M400.3 270.9h0M387.0 290.4h0M403.0 264.7h0M401.6 269.3h0M382.6 284.2h0M387.0 295.3h0M378.5 274.6h0M390.9 286.6h0M369.8 262.0h0M377.5 275.9h0M394.5 271.4h0M398.0 281.8h0M404.1 275.7h0M390.9 278.8h0M365.7 288.7h0M390.0 288.2h0M381.0 264.1h0M375.3 273.9h0M365.2 282.0h0M399.9 262.3h0M387.4 273.6h0M395.3 285.0h0M399.4 263.2h0M378.8 262.4h0M402.2 271.1h0M402.9 262.1h0M387.7 293.4h0M406.7 281.1h0M379.0 265.8h0M386.0 288.1h0M390.2 295.1h0M373.1 274.5h0M377.8 287.6h0M408.3 278.6h0M362.9 284.7h0M391.3 265.9h0M374.9 267.5h0M388.3 264.9h0M398.2 276.0h0M393.0 293.1h0M395.5 294.2h0M373.8 273.7h0M388.7 291.3h0M376.0 269.7h0M391.3 260.3h0M388.0 276.7h0M376.6 270.1h0M392.6 261.9h0M368.3 271.8h0M407.6 262.0h0M367.0 283.7h0M390.7 289.5h0M408.6 290.4h0M377.9 262.2h0M379.0 272.9h0M398.5 280.0h0M366.6 280.0h0M380.6 291.3h0M397.4 272.3h0M386.4 261.6h0M364.6 287.4h0M376.9 275.0h0M366.4 267.5h0M368.1 271.6h0M377.0 275.4h0M407.2 264.7h0M366.0 265.0h0M376.7 264.5h0M403.5 282.1h0M388.0 295.6h0M405.7 263.8h0M365.2 275.1h0M373.0 276.3h0M364.5 262.3h0M406.7 287.1h0M380.5 266.0h0M407.9 276.5h0M384.3 286.0h0M366.0 294.7h0M392.1 280.5h0M381.6 289.4h0M392.3 286.1h0M387.8 292.2h0M373.5 264.2h0M393.2 286.6h0M367.0 271.7h0M388.5 272.2h0M394.4 272.0h0M373.0 287.7h0M372.3 269.7h0M395.3 263.6h0M372.7 273.4h0M379.1 265.9h0M401.2 272.9h0M396.3 277.5h0M365.4 290.5h0M376.4 279.4h0M387.5 286.7h0M393.2 271.8h0M366.9 277.9h0M379.3 262.8h0M396.8 281.9h0M400.8 277.6h0M375.6 274.1h0M396.7 280.2h0M381.4 260.2h0M382.4 283.5h0M369.0 269.6h0M399.7 269.5h0M407.6 278.5h0M363.2 293.2h0M367.5 268.4h0M374.7 264.2h0M395.5 262.4h0M376.0 278.5h0M377.1 280.9h0M381.5 275.8h0M382.1 274.6h0M369.6 289.5h0M400.0 262.8h0M383.6 262.7h0M382.6 274.8h0M370.2 260.9h0M401.8 281.0h0M379.8 273.8h0M385.1 275.7h0M389.0 295.7h0M379.2 294.5h0M379.1 291.8h0M371.6 281.3h0M395.0 280.2h0M377.9 271.8h0M407.2 291.2h0M368.1 264.4h0M381.3 289.5h0M369.1 265.0h0M366.4 288.1h0M381.7 289.6h0M362.4 284.3h0M406.8 264.4h0M379.3 266.3h0" stroke="#5a3ae0" stroke-width="0.95" stroke-linecap="round" fill="none" opacity="0.55"/>
</g>
</g>
<text x="389.00" y="328.60" font-size="6.6" font-weight="bold" fill="#fff" textLength="19.50" lengthAdjust="spacingAndGlyphs">20 μm</text>
<line x1="389.50" y1="331.00" x2="408.00" y2="331.00" stroke="#ddd" stroke-width="0.7"/>
<rect x="479.50" y="204.50" width="47.50" height="7.50" fill="#fff" stroke="#1c2458" stroke-width="0.8"/>
<text x="500.25" y="210.99" font-size="6.8" font-weight="bold" text-anchor="middle" fill="#3a66e8">DAPI</text>
<rect x="528.00" y="204.50" width="47.75" height="7.50" fill="#fff" stroke="#1c2458" stroke-width="0.8"/>
<text x="548.88" y="210.99" font-size="6.8" font-weight="bold" text-anchor="middle" fill="#ee2222">PLIN5</text>
<rect x="577.75" y="204.50" width="48.00" height="7.50" fill="#fff" stroke="#1c2458" stroke-width="0.8"/>
<text x="598.75" y="210.99" font-size="6.8" font-weight="bold" text-anchor="middle" fill="#000">Merge</text>
<rect x="468.25" y="215.50" width="9.25" height="56.00" fill="#fff" stroke="#1c2458" stroke-width="0.8"/>
<text x="474.99" y="243.50" font-size="6.4" font-weight="bold" text-anchor="middle" fill="#000" transform="rotate(-90 474.99 243.50)">NG</text>
<rect x="468.25" y="274.00" width="9.25" height="56.00" fill="#fff" stroke="#1c2458" stroke-width="0.8"/>
<text x="474.99" y="302.00" font-size="6.4" font-weight="bold" text-anchor="middle" fill="#000" transform="rotate(-90 474.99 302.00)">HG</text>
<g clip-path="url(#c25)">
<rect x="480.00" y="215.00" width="47.00" height="56.25" fill="#000"/>
<path d="M526.0 254.8h0M490.4 244.0h0M516.9 222.6h0M523.8 222.4h0M488.9 249.4h0M506.4 259.4h0M512.8 237.7h0M502.9 228.2h0M481.7 268.5h0M493.8 241.9h0M519.1 229.1h0M485.9 241.7h0M521.6 266.0h0M493.9 266.5h0M508.0 261.6h0M489.5 215.7h0M503.6 253.1h0M492.7 270.4h0M487.8 269.8h0M502.9 255.9h0M492.2 229.1h0M485.1 269.7h0M520.3 234.6h0M524.7 247.3h0M483.7 262.5h0M489.2 222.1h0M505.2 228.9h0M520.9 239.0h0M496.5 250.2h0M484.5 221.0h0M499.4 247.0h0M491.0 244.3h0M515.7 265.6h0M496.0 265.1h0M486.9 237.7h0M482.4 217.8h0M495.1 239.8h0M508.8 245.5h0M482.4 246.3h0M503.2 218.5h0M515.5 217.9h0M520.2 247.4h0M526.4 249.2h0M511.0 241.5h0M505.4 243.0h0M481.1 215.9h0M498.5 222.7h0M521.3 239.5h0M523.4 233.9h0M502.6 251.2h0M512.8 234.1h0M495.4 260.8h0M494.5 254.6h0M508.4 218.8h0M517.7 230.4h0M497.8 257.1h0M514.5 223.8h0M526.6 253.5h0M487.0 258.4h0M508.6 268.7h0M490.7 229.7h0M509.8 265.9h0M482.9 233.8h0M491.9 266.0h0M526.0 245.7h0M521.5 252.8h0M503.6 265.1h0M496.6 260.9h0M509.6 249.7h0M518.1 269.9h0M503.1 239.7h0M514.6 227.2h0M481.3 238.3h0M484.2 265.9h0M525.9 224.6h0M502.2 254.6h0M517.6 217.1h0M485.5 215.7h0M500.9 217.7h0M484.1 238.2h0M517.7 253.5h0M504.6 220.8h0M493.4 245.5h0M496.6 220.0h0M514.5 259.1h0M517.2 266.8h0M497.3 239.2h0M491.5 265.3h0M483.3 240.9h0M498.8 223.2h0M510.2 255.2h0M484.7 232.6h0M524.3 217.7h0M482.3 247.5h0M494.1 242.6h0M484.3 266.7h0M497.8 244.7h0M526.9 236.4h0M495.7 254.8h0M512.5 247.5h0M518.6 245.2h0M490.2 250.7h0M509.6 226.4h0M508.7 233.7h0M496.0 270.5h0M507.1 255.0h0M508.5 265.7h0M511.9 238.6h0M489.1 260.2h0M524.2 268.1h0M504.8 269.5h0M481.2 255.4h0M511.9 260.2h0M497.0 229.4h0M497.1 242.0h0M498.2 233.5h0M506.3 269.8h0M484.0 224.8h0M509.5 260.9h0M482.6 231.9h0M496.1 242.1h0M481.5 218.9h0M520.5 233.1h0M524.1 240.1h0M494.7 243.9h0M507.7 254.9h0M519.9 219.0h0M495.6 241.4h0M507.5 241.6h0M505.6 241.8h0M504.5 229.8h0M500.1 216.5h0M524.2 248.1h0M506.6 219.0h0M504.6 269.9h0M499.3 265.7h0M522.5 230.1h0M506.1 241.9h0M491.1 233.8h0M504.6 248.5h0M510.3 256.1h0M508.4 227.4h0M521.9 221.1h0M486.5 236.7h0M497.5 225.5h0M484.2 248.2h0M505.2 241.2h0M525.6 243.8h0M509.5 222.0h0M521.1 222.2h0M517.0 250.4h0M501.0 225.6h0M491.1 239.1h0M508.2 231.7h0M510.7 233.8h0M492.1 247.7h0M518.7 216.7h0M500.0 218.8h0M488.3 233.0h0M522.1 245.5h0M518.4 239.5h0M520.6 234.2h0M524.2 238.4h0M525.2 229.4h0M515.5 245.6h0M497.7 232.5h0M514.5 268.9h0M523.6 247.1h0M509.2 262.9h0M481.9 254.5h0M521.3 243.4h0M483.6 243.0h0M483.5 253.9h0M493.2 231.0h0M484.4 240.4h0M506.4 228.0h0M519.7 248.1h0M524.5 266.8h0M522.9 255.1h0M523.8 215.2h0M501.3 259.5h0M511.7 255.6h0M518.4 230.9h0M503.0 243.7h0M494.8 216.7h0M523.2 244.5h0M504.3 270.9h0M492.3 238.7h0M526.6 260.3h0M519.6 220.0h0M486.4 236.9h0M501.3 265.7h0M504.3 232.2h0M514.7 267.0h0M488.2 263.4h0M480.4 228.2h0M519.0 233.6h0M498.1 227.3h0M494.1 228.6h0M490.7 269.3h0M497.4 247.2h0M516.0 250.9h0M494.6 260.7h0M525.3 228.7h0M492.0 231.6h0M484.1 241.2h0M506.2 254.8h0M481.2 246.7h0M488.4 220.9h0M490.3 250.6h0M487.0 243.4h0M489.2 217.6h0M509.5 253.9h0M496.3 241.6h0M518.1 235.9h0M517.4 248.6h0M515.7 221.8h0M513.8 245.0h0M521.5 259.2h0M482.7 227.0h0M488.3 261.1h0M486.6 268.6h0M491.4 227.2h0M515.1 257.5h0M525.5 217.8h0M526.0 228.5h0M505.9 215.5h0M516.5 253.7h0M484.2 220.0h0M517.5 263.5h0M485.7 246.9h0M493.8 259.5h0M500.1 238.6h0M509.6 235.6h0M483.6 221.6h0M510.1 265.1h0M509.5 223.6h0M511.9 230.6h0M523.1 234.6h0M502.1 220.9h0M495.6 232.5h0M525.3 235.3h0M488.3 265.1h0M502.0 238.2h0M523.8 235.1h0M523.0 226.6h0M509.6 218.7h0M519.3 252.7h0M488.2 268.6h0M524.1 260.6h0M506.6 251.0h0M526.9 257.0h0M496.4 252.5h0M506.2 223.3h0M520.1 237.9h0M526.9 247.8h0M490.7 253.2h0M508.0 265.9h0M492.0 235.1h0M488.8 225.7h0M504.3 268.7h0M509.5 237.8h0M515.1 220.7h0M521.3 228.3h0M497.1 232.8h0M515.5 250.2h0M486.2 245.2h0M518.0 248.6h0M515.8 231.4h0M522.0 266.5h0M521.4 259.4h0M496.0 224.1h0M497.5 246.0h0M525.0 224.6h0M490.5 243.5h0M505.7 250.2h0M510.2 239.0h0M496.4 261.0h0M483.4 231.7h0M516.6 221.0h0M492.7 219.9h0M499.2 264.5h0M515.3 251.0h0M515.3 218.9h0M512.6 245.7h0M505.0 252.3h0M514.5 261.2h0M518.6 239.9h0M522.9 218.4h0M518.3 260.7h0M494.0 268.7h0M522.2 225.8h0M509.1 226.3h0M499.4 258.9h0M493.2 241.5h0M485.3 219.3h0M487.9 267.8h0M483.0 266.7h0M515.0 215.9h0M513.3 257.1h0" stroke="#2626e0" stroke-width="1.2" stroke-linecap="round" fill="none" opacity="0.9"/>
<path d="M519.4 228.1h0M514.3 215.6h0M491.9 249.1h0M492.4 217.2h0M494.4 232.0h0M501.8 251.7h0M489.6 224.4h0M502.8 256.4h0M512.4 253.6h0M496.2 252.3h0M517.5 238.4h0M489.5 228.1h0M480.8 254.5h0M501.2 221.8h0M483.0 270.4h0M483.5 249.5h0M488.1 238.5h0M507.2 259.2h0M501.5 253.5h0M480.9 233.4h0M514.4 263.5h0M488.7 216.8h0M525.1 252.5h0M490.7 258.7h0M497.3 220.6h0M484.2 219.4h0M481.8 235.5h0M501.0 220.9h0M508.4 232.5h0M496.6 239.2h0M481.6 227.8h0M493.8 228.5h0M507.5 248.3h0M495.5 224.3h0M482.1 240.0h0M514.2 243.6h0M504.2 249.4h0M495.2 233.4h0M498.1 244.1h0M516.3 224.6h0M511.2 215.2h0M499.2 260.3h0M507.1 238.1h0M485.9 237.4h0M501.3 258.0h0M522.3 239.4h0M509.7 255.0h0M517.3 246.7h0M517.6 230.1h0M490.7 261.8h0M493.4 221.1h0M483.4 241.8h0M500.4 236.7h0M493.2 263.4h0M490.9 254.5h0M484.2 241.3h0M517.3 222.7h0M506.7 267.7h0M517.2 249.4h0M502.7 228.7h0M497.3 230.3h0M481.9 251.0h0M503.0 227.0h0M515.3 219.7h0M517.7 252.1h0M513.0 266.5h0M483.2 254.1h0M490.7 251.7h0M517.1 240.5h0M499.3 228.6h0M485.3 258.1h0M500.3 231.5h0M503.2 266.0h0M496.8 262.1h0M488.0 219.6h0M521.3 265.7h0M518.9 244.8h0M495.0 236.6h0M508.4 270.5h0M504.1 234.7h0M501.4 265.3h0M485.3 233.9h0M510.8 225.9h0M511.6 265.6h0M500.1 233.2h0M486.3 249.9h0M489.7 240.6h0M498.4 256.6h0M523.8 235.6h0M523.9 221.8h0M490.2 266.9h0M525.6 264.0h0M494.4 244.8h0M490.5 250.5h0M481.9 219.6h0M481.0 268.5h0M521.8 231.9h0M486.0 268.5h0M515.7 237.1h0M525.4 236.2h0M500.8 264.4h0M496.8 221.7h0M495.9 223.2h0M515.7 256.4h0M491.5 226.3h0M525.4 223.0h0M509.4 253.6h0M518.2 254.2h0M503.0 255.0h0M503.8 234.7h0M507.5 226.1h0M520.1 245.2h0M511.9 267.4h0M480.0 221.1h0M499.9 247.0h0M487.7 259.3h0M522.3 221.7h0M482.9 223.3h0M482.3 268.3h0M489.2 267.4h0M510.7 232.0h0M512.2 252.1h0M517.5 221.8h0M520.9 249.0h0M502.3 244.0h0M503.5 269.2h0M483.6 250.0h0M481.4 229.7h0M497.0 228.0h0M516.8 257.6h0M519.7 244.5h0M524.7 253.1h0M521.8 218.5h0M517.9 262.2h0M513.2 235.9h0M511.0 237.1h0M490.2 268.0h0M482.4 216.2h0M525.0 255.4h0M494.0 257.8h0M510.3 217.4h0M497.3 233.4h0M515.3 234.0h0M506.7 222.4h0M513.4 271.0h0M501.1 254.9h0M504.0 235.2h0M485.9 224.9h0M521.6 264.1h0M524.6 217.4h0M510.1 230.3h0M503.0 233.5h0M500.1 226.7h0M518.0 247.0h0M498.6 271.0h0M504.3 217.0h0M499.1 256.2h0M524.2 267.2h0M481.2 236.3h0M499.9 244.8h0M508.4 219.5h0M505.5 222.2h0M510.8 254.6h0M521.9 264.4h0M513.4 219.4h0M504.4 261.4h0M522.7 218.4h0M504.1 240.7h0M492.5 220.5h0M519.3 225.0h0M488.1 270.3h0M503.2 256.9h0M513.6 240.6h0M483.6 223.4h0M492.6 220.8h0M517.9 238.2h0M485.9 254.1h0M524.6 216.3h0M504.9 250.3h0M486.0 223.2h0M494.9 238.3h0M520.2 261.3h0M481.9 231.7h0M525.1 262.5h0M501.0 237.3h0M520.4 260.8h0M498.6 269.2h0M508.5 237.2h0M509.1 248.2h0M521.4 271.1h0M484.5 235.9h0M512.7 242.9h0M515.3 258.2h0M493.9 261.0h0M486.5 234.5h0M507.2 237.0h0M523.5 219.8h0M511.6 237.1h0M523.9 235.1h0M491.5 228.2h0M516.9 248.4h0M492.7 237.2h0M488.0 230.8h0M518.0 223.9h0M492.6 225.8h0M488.1 242.7h0M505.4 221.9h0M484.3 251.0h0M482.3 228.7h0M490.7 253.7h0M495.2 263.8h0M511.1 257.3h0M488.5 231.0h0M520.4 217.7h0M482.9 250.7h0M487.2 264.7h0M521.4 231.1h0M504.6 247.8h0M522.7 231.9h0M494.9 232.7h0M522.3 238.8h0M512.3 222.5h0M505.1 270.4h0M496.9 224.3h0M506.1 232.8h0M513.7 225.1h0M512.8 230.3h0M503.9 250.3h0M523.6 224.7h0M526.1 259.6h0M513.0 240.8h0M493.7 261.9h0M499.2 222.3h0M489.9 245.8h0M505.3 238.6h0M500.9 245.0h0M524.8 243.0h0M514.2 267.8h0M491.4 237.9h0M519.8 263.0h0M487.2 222.4h0M505.6 258.5h0M493.6 263.8h0M492.5 242.6h0M524.2 223.1h0M482.5 217.5h0M523.5 259.5h0M510.7 240.5h0M490.9 241.6h0M494.9 242.4h0M510.2 269.9h0M506.7 263.1h0M492.9 265.2h0M486.1 238.0h0M500.3 252.9h0M483.6 226.0h0M500.0 254.7h0M511.1 242.5h0M508.9 240.9h0M526.7 271.0h0M510.2 236.7h0M514.1 260.3h0M523.1 228.0h0M494.7 270.4h0M523.5 265.0h0M504.9 215.2h0M508.5 263.1h0M505.0 215.2h0M486.7 268.8h0M485.1 242.1h0M511.0 247.6h0M511.3 261.2h0M514.9 253.2h0M481.1 220.7h0M512.7 265.0h0M497.3 259.4h0M517.5 265.2h0M510.7 260.4h0M483.8 234.7h0M521.6 217.7h0M505.4 266.7h0M487.0 250.7h0M520.7 239.7h0M490.4 231.5h0M493.3 239.3h0M484.2 225.0h0M498.4 221.5h0M500.3 255.7h0M490.0 265.1h0M526.2 237.0h0M512.5 248.7h0M509.8 266.0h0M496.1 238.4h0M523.9 225.3h0M494.7 257.2h0M500.0 247.9h0M501.4 269.9h0M494.4 257.6h0M491.7 264.8h0M494.9 247.2h0" stroke="#2626e0" stroke-width="1.2" stroke-linecap="round" fill="none" opacity="0.36"/>
</g>
<g clip-path="url(#c26)">
<rect x="528.50" y="215.00" width="47.25" height="56.25" fill="#000"/>
<rect x="528.50" y="215.00" width="47.25" height="56.25" filter="url(#rFn)"/>
<rect x="528.50" y="215.00" width="47.25" height="56.25" fill="#000" opacity="0.18"/>
<g filter="url(#bl)" fill="#000">
<polygon points="545.0,216.1 556.9,215.0 557.8,225.1 547.4,226.2" opacity="0.9"/>
<polygon points="530.9,231.9 540.3,230.8 540.3,238.6 530.9,238.6" opacity="0.8"/>
</g>
</g>
<g transform="translate(49.75,0)">
<g clip-path="url(#c27)">
<rect x="528.50" y="215.00" width="47.25" height="56.25" fill="#000"/>
<rect x="528.50" y="215.00" width="47.25" height="56.25" filter="url(#rFn)"/>
<rect x="528.50" y="215.00" width="47.25" height="56.25" fill="#000" opacity="0.18"/>
<g filter="url(#bl)" fill="#000">
<polygon points="545.0,216.1 556.9,215.0 557.8,225.1 547.4,226.2" opacity="0.9"/>
<polygon points="530.9,231.9 540.3,230.8 540.3,238.6 530.9,238.6" opacity="0.8"/>
</g>
<path d="M545.4 271.2h0M545.7 224.9h0M573.8 250.4h0M535.6 268.2h0M562.7 262.9h0M538.9 221.6h0M568.5 230.0h0M557.9 244.2h0M566.5 226.0h0M543.0 232.5h0M575.7 249.7h0M545.9 216.5h0M573.3 260.2h0M538.1 226.3h0M529.7 270.4h0M559.9 231.0h0M569.0 223.4h0M554.5 247.3h0M549.9 246.8h0M544.1 240.8h0M537.0 222.5h0M529.5 256.6h0M545.8 232.3h0M553.9 230.3h0M543.0 237.5h0M566.6 241.1h0M551.1 234.4h0M534.3 262.6h0M572.4 243.5h0M555.6 243.5h0M538.3 236.5h0M542.4 235.7h0M556.7 239.3h0M545.0 269.0h0M573.9 230.1h0M566.8 242.8h0M550.8 247.9h0M558.2 258.1h0M532.8 218.2h0M530.5 251.8h0M544.8 217.8h0M567.9 255.0h0M555.8 232.8h0M563.7 215.8h0M545.8 243.1h0M547.0 263.2h0M533.6 255.8h0M552.3 263.4h0M570.8 258.1h0M569.1 264.1h0M555.7 248.9h0M531.1 263.5h0M543.0 246.6h0M530.3 269.6h0M571.9 220.7h0M556.8 259.0h0M566.7 263.3h0M548.3 268.2h0M549.1 251.9h0M539.6 250.3h0M539.9 225.7h0M575.3 260.4h0M548.2 230.6h0M545.7 217.3h0M571.0 249.2h0M550.0 236.8h0M545.1 221.8h0M536.2 245.7h0M539.4 220.4h0M560.2 240.9h0M556.0 263.4h0M546.6 229.7h0M533.3 245.9h0M535.8 243.6h0M554.5 225.0h0M541.6 260.2h0M546.9 242.2h0M572.2 224.9h0M529.0 249.7h0M559.9 262.5h0M539.2 216.3h0M568.6 237.0h0M549.4 240.7h0M564.2 241.3h0M559.8 227.3h0M566.4 266.1h0M530.9 229.6h0M565.6 217.8h0M548.9 223.8h0M531.7 217.3h0M550.0 217.9h0M569.5 226.7h0M555.4 228.3h0M533.9 230.4h0M554.0 268.0h0M534.3 254.6h0M564.7 223.9h0M564.4 256.7h0M557.3 220.5h0M559.0 235.2h0M567.7 221.7h0M574.5 250.0h0M563.2 239.6h0M540.2 240.8h0M571.7 218.6h0M567.8 217.1h0M542.1 251.6h0M538.0 245.4h0M542.1 228.3h0M573.5 215.2h0M559.9 255.3h0M556.6 218.1h0M563.7 253.8h0M539.9 232.6h0M555.2 249.9h0M543.7 216.2h0M568.4 221.8h0M536.0 235.8h0M541.4 248.7h0M547.8 267.2h0M542.6 220.4h0M566.4 264.2h0M573.4 240.9h0M548.2 263.3h0M529.5 266.9h0M531.7 236.1h0M537.4 269.1h0M553.2 253.3h0M542.1 255.0h0M540.0 231.1h0M559.0 231.2h0M566.1 222.1h0M556.4 257.9h0M537.4 269.6h0M557.7 225.0h0M574.8 248.1h0M550.9 243.2h0M535.0 250.4h0M532.0 256.8h0M571.5 239.4h0M528.6 247.2h0M574.1 243.5h0M545.7 242.5h0M547.5 216.4h0M541.8 235.7h0M560.1 257.7h0M572.1 267.4h0M562.8 251.7h0M561.2 255.1h0M544.9 238.6h0M558.4 253.0h0M557.9 221.7h0M554.8 220.5h0M549.9 227.4h0M551.6 215.1h0M558.4 271.2h0M546.9 231.9h0M529.8 243.2h0M542.0 218.2h0M534.8 254.4h0M529.1 224.5h0M575.1 268.4h0M560.6 245.0h0M535.1 252.1h0M541.2 245.6h0M533.7 250.7h0M572.5 263.5h0M533.9 238.8h0M552.6 229.0h0M551.4 251.6h0M568.2 232.8h0M534.4 246.1h0M547.1 257.1h0M564.3 260.0h0M560.9 231.9h0M544.4 218.4h0M563.3 223.9h0M540.3 254.8h0M553.9 263.9h0M539.0 229.6h0M575.2 233.7h0M575.2 260.3h0M567.5 249.2h0M570.6 246.1h0M557.8 220.5h0M542.0 222.0h0M566.1 227.0h0M544.9 260.0h0M562.1 264.9h0M570.1 239.4h0M569.6 254.6h0M551.3 243.2h0M543.8 220.7h0M529.0 254.3h0M537.5 265.5h0M554.2 269.0h0M553.4 245.7h0M562.4 216.5h0M572.9 261.9h0M553.5 224.7h0M540.9 256.3h0M565.7 251.6h0M531.6 219.1h0M550.7 224.8h0M538.3 253.5h0M533.9 256.5h0M558.9 250.4h0M529.2 231.9h0M556.5 238.0h0M564.4 255.7h0M554.9 238.6h0M554.3 227.6h0M532.2 230.8h0M562.0 265.6h0M569.8 220.7h0M549.2 240.6h0M563.5 226.7h0M568.0 217.8h0M539.5 219.8h0M537.9 267.4h0M549.5 253.9h0M568.8 257.4h0M574.9 270.5h0M554.9 258.2h0M568.4 234.1h0M561.1 251.2h0M548.7 258.1h0M558.0 218.0h0M550.7 235.0h0M561.0 219.9h0M575.6 225.2h0M572.8 250.6h0M562.7 221.4h0M538.2 267.5h0M559.4 251.8h0M560.4 260.0h0M556.1 238.2h0M544.2 245.6h0M564.8 236.3h0M568.8 237.9h0M553.5 217.0h0M568.6 226.6h0M569.0 260.5h0M537.0 226.1h0M572.8 235.8h0M542.3 249.3h0M529.2 251.7h0M551.0 219.8h0M546.6 226.5h0M554.8 259.5h0M574.6 230.8h0M537.1 232.8h0M550.7 225.0h0M554.7 251.2h0M573.0 238.0h0M548.0 239.3h0M567.6 219.8h0M551.6 226.2h0M568.7 220.8h0M564.5 258.7h0" stroke="#8a46ff" stroke-width="1.9" stroke-linecap="round" fill="none" opacity="0.6"/>
</g>
</g>
<g clip-path="url(#c28)">
<path d="M588.6 234.4h0M608.8 235.5h0M582.2 243.4h0M587.2 264.7h0M594.3 253.4h0M599.1 250.5h0M623.9 225.0h0M591.2 217.4h0M601.0 234.5h0M593.1 222.0h0M608.4 247.9h0M624.2 264.9h0M583.9 248.5h0M578.8 231.4h0M615.5 270.6h0M589.8 217.0h0M579.7 224.3h0M606.5 254.8h0M625.0 266.5h0M586.0 249.9h0M610.5 246.6h0M589.2 225.3h0M610.1 232.1h0M601.3 240.8h0M597.9 240.8h0M590.9 268.3h0M611.6 222.1h0M607.1 258.0h0M614.2 236.3h0M607.3 223.5h0M615.2 269.9h0M608.4 219.6h0M603.3 248.5h0M608.6 244.4h0M598.4 232.9h0M620.2 243.5h0M610.1 247.5h0M582.8 224.3h0M591.4 225.3h0M588.5 247.1h0M611.6 226.3h0M591.9 246.1h0M589.5 235.8h0M591.7 232.8h0M586.4 231.7h0M589.6 222.8h0M599.0 230.7h0M595.5 236.3h0M587.6 247.4h0M621.6 260.7h0M581.4 251.1h0M592.4 249.6h0M598.9 230.4h0M617.4 229.0h0M604.8 246.3h0M623.0 255.9h0M582.3 230.2h0M611.2 269.8h0M625.4 235.7h0M604.5 251.5h0M582.9 241.6h0M583.3 265.5h0M609.9 217.5h0M608.8 266.9h0M585.3 244.8h0M600.6 234.5h0M596.9 221.0h0M614.9 237.1h0M591.8 216.0h0M590.5 233.9h0M598.5 267.9h0M588.6 246.8h0M612.6 250.6h0M609.2 233.3h0M585.6 226.5h0M592.0 225.0h0M578.7 262.0h0M604.7 216.1h0M604.6 261.9h0M617.9 253.2h0M620.0 247.9h0M583.3 258.7h0M611.3 231.1h0M587.5 248.9h0M589.7 259.9h0M604.8 219.4h0M620.3 215.4h0M590.3 239.5h0M578.3 237.3h0M587.1 246.6h0M616.0 222.4h0M603.3 232.8h0M590.1 259.0h0M579.1 248.2h0M621.6 257.6h0M595.1 260.3h0M617.5 260.8h0M623.6 220.5h0M596.1 224.6h0M592.6 268.3h0M580.2 229.0h0M624.0 246.5h0M617.3 252.4h0M588.5 223.5h0M596.0 257.1h0M585.5 237.5h0M621.3 227.9h0M619.2 246.1h0M578.6 218.2h0M621.2 261.4h0M609.4 248.5h0M606.0 245.9h0M595.7 231.1h0M623.8 223.8h0M598.5 219.1h0M616.5 221.7h0M598.9 253.0h0M604.7 267.0h0M619.6 261.5h0M612.0 264.5h0M589.0 231.1h0M592.1 270.0h0M613.2 269.5h0M598.2 226.4h0M587.8 216.8h0M578.8 231.3h0M589.0 239.3h0M613.9 230.8h0M605.4 224.5h0M581.3 270.3h0M589.7 242.8h0M590.5 222.6h0M584.3 249.3h0M595.3 243.0h0M606.8 235.0h0M619.3 266.2h0M609.0 239.0h0M582.3 221.0h0M623.9 228.8h0M622.7 225.7h0M596.7 244.3h0M603.5 265.0h0M624.1 241.0h0M618.4 221.4h0M617.4 224.5h0M602.0 246.5h0M609.2 246.5h0M593.7 252.7h0M605.2 264.2h0M602.4 221.4h0M589.5 268.4h0M597.0 264.0h0M614.7 233.4h0M621.1 259.3h0M614.0 231.8h0M596.8 230.4h0M597.4 223.4h0M608.8 222.0h0M608.7 245.7h0M599.5 218.8h0" stroke="#3a3aff" stroke-width="1.0" stroke-linecap="round" fill="none" opacity="0.85"/>
</g>
<g clip-path="url(#c29)">
<rect x="480.00" y="273.75" width="47.00" height="56.25" fill="#000"/>
<path d="M514.3 281.2h0M512.4 323.8h0M516.3 297.1h0M487.5 318.1h0M493.5 311.6h0M491.8 308.8h0M501.7 290.6h0M503.4 324.1h0M517.5 321.0h0M492.2 280.3h0M524.3 318.4h0M489.4 280.5h0M481.7 308.5h0M493.9 309.6h0M489.7 302.6h0M499.6 322.6h0M507.0 294.7h0M503.7 304.1h0M480.3 279.2h0M517.2 282.5h0M503.8 275.6h0M485.7 290.3h0M496.6 324.7h0M516.7 281.9h0M482.9 314.1h0M493.5 324.5h0M517.8 293.4h0M518.3 302.5h0M493.3 285.9h0M495.6 288.1h0M512.5 294.4h0M526.9 289.4h0M499.1 289.5h0M497.7 278.2h0M517.2 289.9h0M502.1 291.4h0M501.3 317.8h0M489.2 312.3h0M524.9 302.0h0M503.4 301.0h0M484.2 308.0h0M505.5 316.0h0M489.9 278.8h0M507.2 294.0h0M501.6 326.4h0M516.0 283.6h0M511.5 307.3h0M512.4 283.1h0M521.5 299.8h0M509.6 317.6h0M516.1 277.6h0M502.3 291.4h0M515.1 277.0h0M524.2 293.3h0M506.4 286.7h0M485.9 327.5h0M494.3 305.9h0M515.5 322.6h0M504.1 288.6h0M521.9 295.0h0M505.5 329.4h0M524.0 304.0h0M498.8 289.3h0M490.3 281.8h0M510.5 310.8h0M509.5 289.7h0M492.1 311.2h0M484.3 295.7h0M496.2 317.8h0M498.7 320.7h0M514.7 276.9h0M517.0 277.3h0M518.6 301.2h0M501.8 321.3h0M482.1 273.8h0M481.8 318.0h0M494.8 318.7h0M518.0 307.5h0M489.7 308.8h0M505.0 274.6h0M490.9 298.5h0M480.3 308.9h0M513.7 283.8h0M485.9 304.7h0M487.6 301.4h0M498.0 310.0h0M507.6 324.8h0M523.5 325.2h0M520.4 325.9h0M511.9 275.8h0M521.7 321.0h0M514.3 283.9h0M495.4 288.0h0M520.1 297.6h0M526.2 288.0h0M525.3 304.1h0M486.5 323.7h0M492.4 310.5h0M489.7 293.6h0M481.7 298.5h0M514.2 295.6h0M513.8 283.5h0M522.1 281.3h0M499.7 276.7h0M490.9 307.7h0M504.2 311.0h0M490.8 276.0h0M480.1 315.9h0M483.5 294.7h0M504.8 283.0h0M516.6 277.9h0M510.8 293.3h0M520.3 292.4h0M526.1 277.0h0M518.3 319.1h0M506.8 301.7h0M523.1 283.8h0M501.6 278.1h0M508.6 317.3h0M488.9 283.8h0M487.0 293.0h0M505.8 328.7h0M487.7 320.7h0M499.8 306.1h0M480.6 275.2h0M507.2 291.6h0M519.2 297.8h0M503.1 302.0h0M493.6 294.6h0M503.6 310.2h0M497.4 308.7h0M513.5 280.2h0M504.0 286.3h0M484.9 328.2h0M518.7 276.5h0M502.8 291.8h0M498.3 323.1h0M523.4 300.8h0M489.8 277.8h0M481.2 316.1h0M526.0 274.7h0M498.9 297.9h0M485.6 274.4h0M498.5 305.4h0M500.3 297.7h0M512.5 297.9h0M497.9 323.3h0M511.5 318.4h0M504.3 278.7h0M523.9 277.8h0" stroke="#2828e8" stroke-width="1.7" stroke-linecap="round" fill="none" opacity="0.95"/>
<path d="M512.2 282.2h0M505.2 307.3h0M488.8 285.1h0M501.7 293.0h0M515.0 315.8h0M499.9 306.9h0M494.5 320.5h0M480.7 320.9h0M509.8 308.8h0M516.5 321.9h0M518.1 320.3h0M511.0 311.7h0M483.1 287.6h0M514.9 290.4h0M482.7 321.8h0M497.7 317.0h0M486.5 311.6h0M482.2 297.0h0M481.9 282.4h0M497.3 274.2h0M501.9 300.3h0M510.3 292.5h0M490.9 326.5h0M496.5 327.5h0M484.4 285.6h0M504.1 294.3h0M494.7 290.0h0M512.6 294.3h0M503.4 307.6h0M519.9 314.6h0M481.6 280.4h0M500.1 280.6h0M492.3 312.2h0M507.1 282.2h0M514.2 289.0h0M523.0 317.0h0M516.2 287.0h0M509.1 285.7h0M513.2 321.6h0M481.6 290.0h0M483.3 320.7h0M493.3 284.6h0M497.3 316.5h0M497.8 327.6h0M481.7 286.2h0M483.0 285.9h0M508.6 281.6h0M486.6 301.2h0M514.1 306.7h0M512.8 292.4h0M494.3 326.8h0M514.4 307.8h0M486.2 279.7h0M518.0 329.8h0M498.6 323.6h0M517.1 303.4h0M511.7 299.1h0M509.2 326.0h0M503.5 289.8h0M492.5 294.6h0M518.9 290.1h0M494.0 282.3h0M510.2 307.8h0M483.2 311.8h0M482.1 310.3h0M505.4 320.4h0M523.0 299.4h0M489.8 315.6h0M489.8 284.1h0M502.8 322.8h0M519.2 288.2h0M515.8 274.4h0M525.2 289.7h0M514.2 314.3h0M492.6 317.2h0M494.9 280.4h0M510.0 322.9h0M499.5 281.8h0M490.4 285.2h0M514.9 292.9h0M490.7 291.5h0M521.5 301.8h0M516.9 288.1h0M507.6 312.6h0M510.0 316.0h0M494.1 281.9h0M496.3 325.4h0M503.1 301.1h0M481.8 322.5h0M494.6 289.7h0M484.7 292.6h0M517.3 288.1h0M509.7 307.4h0M507.5 285.9h0M490.2 289.7h0M496.8 325.8h0M526.9 329.9h0M520.4 294.7h0M517.0 306.4h0M515.6 316.1h0M523.3 309.8h0M481.1 322.2h0M496.3 327.3h0M524.3 320.8h0M526.7 297.8h0M514.0 274.5h0M506.0 317.7h0M502.8 282.6h0M482.5 284.9h0M517.6 321.5h0M497.8 323.6h0M486.9 274.7h0M507.2 313.6h0M491.9 325.9h0M510.6 287.1h0M524.1 279.0h0M514.8 305.7h0M485.2 325.5h0M481.8 277.0h0M503.9 311.2h0M485.5 326.4h0M518.3 302.6h0M503.3 324.2h0M515.8 280.9h0M502.2 283.4h0M522.6 297.3h0M515.8 275.2h0M497.1 319.2h0M495.0 290.9h0M513.2 307.7h0M501.7 311.9h0M518.2 323.0h0M517.4 288.7h0M511.8 280.5h0M520.9 291.6h0M512.3 324.6h0M494.5 278.7h0M513.6 322.0h0M484.8 323.0h0M494.1 320.4h0M503.5 284.5h0M522.8 316.8h0M502.7 276.3h0M495.6 307.9h0M490.3 288.2h0M483.1 274.2h0M497.5 288.7h0M521.2 285.4h0M510.0 293.6h0M517.4 285.3h0" stroke="#2828e8" stroke-width="1.7" stroke-linecap="round" fill="none" opacity="0.38"/>
</g>
<g clip-path="url(#c30)">
<rect x="528.50" y="273.75" width="47.25" height="56.25" fill="#000"/>
<rect x="528.50" y="273.75" width="47.25" height="56.25" filter="url(#rFh)"/>
<rect x="528.50" y="273.75" width="47.25" height="56.25" fill="#000" opacity="0.18"/>
</g>
<g transform="translate(49.75,0)">
<g clip-path="url(#c31)">
<rect x="528.50" y="273.75" width="47.25" height="56.25" fill="#000"/>
<rect x="528.50" y="273.75" width="47.25" height="56.25" filter="url(#rFh)"/>
<rect x="528.50" y="273.75" width="47.25" height="56.25" fill="#000" opacity="0.18"/>
<path d="M547.5 300.4h0M550.6 327.8h0M558.7 284.7h0M566.3 281.8h0M547.0 319.1h0M547.9 293.2h0M535.6 306.1h0M560.5 324.5h0M549.2 291.8h0M571.6 320.9h0M571.9 313.6h0M559.5 293.6h0M548.9 279.0h0M556.1 324.6h0M537.6 294.2h0M555.7 275.3h0M568.0 285.0h0M568.8 310.5h0M574.7 283.6h0M563.5 296.8h0M542.5 329.4h0M540.1 288.7h0M537.4 296.6h0M537.4 290.2h0M533.9 317.6h0M551.4 300.4h0M537.8 285.5h0M542.2 305.4h0M539.4 314.4h0M574.1 315.9h0M571.3 293.6h0M570.0 299.3h0M541.7 329.9h0M533.1 309.2h0M543.2 320.2h0M567.1 310.2h0M537.4 283.3h0M555.6 302.6h0M569.1 284.6h0M540.9 297.8h0M549.9 314.8h0M550.2 326.9h0M544.7 291.2h0M573.1 287.8h0M562.5 302.4h0M543.3 303.8h0M540.4 313.6h0M559.2 322.2h0M561.6 288.5h0M561.8 316.8h0M557.6 290.6h0M539.0 311.1h0M547.1 293.7h0M538.1 297.6h0M547.7 329.7h0M546.7 278.6h0M545.6 277.9h0M572.3 289.3h0M556.0 304.7h0M555.7 325.3h0M574.7 326.8h0M564.2 315.4h0M568.1 328.1h0M546.9 299.5h0M537.4 325.8h0M570.7 321.7h0M571.9 329.6h0M571.3 287.3h0M575.1 282.3h0M529.3 280.6h0M573.0 290.0h0M570.6 283.2h0M569.7 324.1h0M560.1 280.1h0M566.2 328.8h0M566.5 311.8h0M553.8 280.4h0M530.1 282.7h0M549.5 291.5h0M563.9 296.7h0M564.8 310.8h0M554.9 304.7h0M575.3 281.6h0M557.6 287.8h0M571.4 284.4h0M560.9 307.0h0M570.3 289.4h0M565.4 276.7h0M555.6 322.6h0M532.0 312.2h0M567.3 317.3h0M563.1 319.7h0M567.5 298.7h0M532.1 310.2h0M553.3 285.8h0M542.8 295.5h0M537.1 322.0h0M546.8 275.3h0M535.7 291.7h0M551.8 285.3h0M551.8 326.3h0M535.2 296.9h0M530.8 288.6h0M573.6 316.0h0M560.1 310.1h0M544.4 303.6h0M542.5 297.4h0M570.3 285.5h0M529.1 318.4h0M549.0 314.4h0M528.8 284.4h0M571.6 302.6h0M573.2 305.6h0M538.0 294.1h0M539.1 304.7h0M540.6 301.0h0M538.3 314.3h0M568.0 283.9h0M543.1 305.4h0M551.5 295.5h0M565.6 307.6h0M530.7 319.3h0M566.2 298.3h0M571.0 301.7h0M567.8 316.6h0M537.8 273.9h0M557.9 314.2h0M565.5 289.4h0M559.8 305.4h0M572.6 286.0h0M562.6 321.6h0M546.8 281.2h0M561.6 273.8h0M563.9 291.9h0M560.5 290.1h0M569.5 299.5h0M575.4 282.9h0M546.6 287.5h0M563.8 321.0h0M556.7 284.9h0M534.7 292.8h0M543.3 289.1h0M539.6 301.1h0M568.5 295.5h0M543.0 308.8h0M540.0 321.9h0M555.6 319.8h0M573.8 321.6h0M557.6 298.5h0M536.8 289.5h0M544.0 328.7h0M570.7 289.9h0M551.6 318.5h0M568.8 297.4h0M545.4 321.2h0M543.2 298.4h0M562.5 316.7h0M569.0 325.6h0M537.4 283.5h0M572.8 313.1h0M532.1 278.6h0M549.4 288.4h0M540.0 318.7h0M561.9 303.3h0M543.7 286.7h0M546.5 306.6h0M542.8 302.0h0M552.0 285.8h0M568.1 323.0h0M573.0 275.3h0" stroke="#9a48ff" stroke-width="2.2" stroke-linecap="round" fill="none" opacity="0.65"/>
</g>
</g>
<g clip-path="url(#c32)">
<path d="M579.6 285.2h0M618.0 280.3h0M579.1 327.3h0M583.7 305.6h0M581.1 305.4h0M620.5 278.4h0M614.7 311.8h0M580.5 279.4h0M619.9 305.3h0M590.8 315.5h0M584.4 288.8h0M617.0 291.8h0M591.9 317.8h0M595.7 282.1h0M608.8 319.7h0M600.3 287.7h0M613.8 296.2h0M589.1 316.5h0M613.6 314.6h0M609.9 313.3h0M610.7 323.0h0M584.0 300.4h0M594.5 302.9h0M615.2 317.5h0M590.9 328.8h0M611.9 276.3h0M600.6 276.6h0M592.2 293.3h0M585.9 291.3h0M617.3 296.2h0M583.8 321.3h0M618.3 312.3h0M600.8 324.5h0M622.3 283.2h0M609.5 298.2h0M596.5 305.1h0M591.1 311.1h0M625.5 284.2h0M616.8 321.9h0M621.1 322.8h0M595.0 284.2h0M580.1 295.6h0M618.1 297.7h0M623.3 316.9h0M596.0 300.0h0M622.8 300.7h0M613.6 322.3h0M581.0 288.2h0M588.7 317.6h0M591.5 322.7h0M608.9 312.3h0M583.8 301.7h0M608.8 319.4h0M610.9 315.7h0M582.6 318.7h0M596.6 300.4h0M624.5 285.1h0M585.6 308.4h0M608.4 324.7h0M603.8 300.7h0M608.9 297.2h0M607.7 291.9h0M584.2 308.5h0M620.5 323.4h0M599.4 277.9h0M601.6 305.5h0M625.6 323.6h0M599.1 286.2h0M589.6 288.3h0M583.7 309.8h0M606.0 321.0h0M589.6 278.6h0M609.9 322.4h0M584.5 311.8h0M625.7 316.5h0M585.3 297.8h0M599.9 304.0h0M593.8 287.6h0M586.8 302.9h0M609.5 278.6h0M615.2 318.8h0M598.3 300.4h0M607.9 325.5h0M617.6 311.1h0M623.1 292.0h0M601.9 305.4h0M587.9 288.7h0M599.8 284.4h0M621.6 316.9h0M593.8 307.0h0M621.8 285.8h0M613.6 275.0h0M596.2 285.4h0M601.8 291.6h0M599.2 274.0h0M590.1 306.6h0M617.2 325.9h0M599.8 274.7h0M610.3 294.3h0M584.6 324.2h0M621.9 296.4h0M600.4 281.5h0M610.3 329.1h0M578.3 299.0h0M610.5 279.3h0M597.2 303.7h0M583.2 285.3h0M623.4 281.9h0M618.1 305.5h0M610.4 321.1h0" stroke="#3a3aff" stroke-width="1.2" stroke-linecap="round" fill="none" opacity="0.85"/>
</g>
<text x="602.75" y="325.40" font-size="6.8" font-weight="bold" fill="#fff" textLength="20.00" lengthAdjust="spacingAndGlyphs">20 μm</text>
<line x1="604.00" y1="327.60" x2="622.00" y2="327.60" stroke="#ddd" stroke-width="0.7"/>
<rect x="18.00" y="599.50" width="47.75" height="7.50" fill="#fff" stroke="#1c2458" stroke-width="0.8"/>
<text x="41.88" y="606.29" font-size="6.5" font-weight="bold" text-anchor="middle" fill="#000">8w <tspan font-style="italic">db/m</tspan></text>
<rect x="67.32" y="599.50" width="47.75" height="7.50" fill="#fff" stroke="#1c2458" stroke-width="0.8"/>
<text x="91.19" y="606.29" font-size="6.5" font-weight="bold" text-anchor="middle" fill="#000">8w <tspan font-style="italic">db/db</tspan></text>
<rect x="116.64" y="599.50" width="47.75" height="7.50" fill="#fff" stroke="#1c2458" stroke-width="0.8"/>
<text x="140.51" y="606.29" font-size="6.5" font-weight="bold" text-anchor="middle" fill="#000">12w <tspan font-style="italic">db/m</tspan></text>
<rect x="165.96" y="599.50" width="47.75" height="7.50" fill="#fff" stroke="#1c2458" stroke-width="0.8"/>
<text x="189.84" y="606.29" font-size="6.5" font-weight="bold" text-anchor="middle" fill="#000">12w <tspan font-style="italic">db/db</tspan></text>
<rect x="215.28" y="599.50" width="47.75" height="7.50" fill="#fff" stroke="#1c2458" stroke-width="0.8"/>
<text x="239.16" y="606.29" font-size="6.5" font-weight="bold" text-anchor="middle" fill="#000">16w <tspan font-style="italic">db/m</tspan></text>
<rect x="264.60" y="599.50" width="47.75" height="7.50" fill="#fff" stroke="#1c2458" stroke-width="0.8"/>
<text x="288.48" y="606.29" font-size="6.5" font-weight="bold" text-anchor="middle" fill="#000">16w <tspan font-style="italic">db/db</tspan></text>
<rect x="313.92" y="599.50" width="47.75" height="7.50" fill="#fff" stroke="#1c2458" stroke-width="0.8"/>
<text x="337.80" y="606.29" font-size="6.5" font-weight="bold" text-anchor="middle" fill="#000">24w <tspan font-style="italic">db/m</tspan></text>
<rect x="363.24" y="599.50" width="47.75" height="7.50" fill="#fff" stroke="#1c2458" stroke-width="0.8"/>
<text x="387.12" y="606.29" font-size="6.5" font-weight="bold" text-anchor="middle" fill="#000">24w <tspan font-style="italic">db/db</tspan></text>
<rect x="6.25" y="609.50" width="10.50" height="36.75" fill="#fff" stroke="#1c2458" stroke-width="0.8"/>
<text x="13.61" y="627.88" font-size="6.4" font-weight="bold" text-anchor="middle" fill="#3a66e8" transform="rotate(-90 13.61 627.88)">DAPI</text>
<rect x="6.25" y="650.00" width="10.50" height="37.00" fill="#fff" stroke="#111" stroke-width="0.8"/>
<text x="13.61" y="668.50" font-size="6.4" font-weight="bold" text-anchor="middle" fill="#ee2222" transform="rotate(-90 13.61 668.50)" textLength="32" lengthAdjust="spacingAndGlyphs">Adipophilin</text>
<rect x="6.25" y="690.00" width="10.50" height="37.50" fill="#fff" stroke="#111" stroke-width="0.8"/>
<text x="13.61" y="708.75" font-size="6.4" font-weight="bold" text-anchor="middle" fill="#000" transform="rotate(-90 13.61 708.75)">Merge</text>
<g clip-path="url(#c33)">
<rect x="18.00" y="608.75" width="48.00" height="38.25" fill="#000"/>
<path d="M22.7 637.6h0M49.1 616.3h0M30.2 643.9h0M24.6 616.5h0M47.2 626.0h0M30.4 626.1h0M40.7 616.1h0M20.9 634.1h0M26.3 631.6h0M34.0 637.9h0M36.2 610.1h0M23.8 640.6h0M19.8 634.5h0M37.1 627.1h0M36.3 645.6h0M29.8 619.0h0M50.2 631.1h0M32.6 623.2h0M48.9 639.7h0M55.8 630.9h0M34.0 627.8h0M20.2 619.7h0M47.7 630.8h0M33.3 616.2h0M45.5 613.9h0M53.0 632.3h0M20.3 612.3h0M49.3 643.2h0M25.5 636.4h0M18.9 635.0h0M36.3 611.3h0M44.0 609.2h0M48.6 611.1h0M42.2 614.8h0M31.0 643.2h0M35.5 634.6h0M53.7 621.6h0M46.6 644.1h0M57.5 626.4h0M29.6 625.2h0M54.4 621.6h0M47.9 612.2h0M40.2 613.9h0M42.0 641.3h0M51.9 636.4h0M48.6 630.4h0M22.5 635.6h0M19.4 612.8h0M21.8 637.8h0M29.1 615.1h0M39.6 635.4h0M37.4 621.3h0M27.1 627.9h0M38.0 614.1h0M26.2 639.0h0M35.2 636.6h0M30.0 619.7h0M20.7 635.0h0M42.5 636.2h0M58.7 626.6h0M50.9 626.7h0M55.2 636.9h0M39.7 619.1h0M37.8 639.8h0M33.5 645.4h0M40.5 634.5h0M26.5 637.9h0M32.1 618.0h0M45.9 627.1h0M39.2 626.0h0M27.0 612.1h0M26.6 629.7h0M29.6 639.0h0M53.6 641.0h0M46.3 615.1h0M28.5 622.8h0M56.4 620.6h0M54.7 638.5h0M27.6 620.8h0M34.7 641.2h0M32.0 639.1h0M50.1 613.9h0M37.3 618.1h0M52.6 637.3h0M37.2 632.3h0M47.4 631.1h0M34.4 633.7h0M20.9 624.8h0M24.0 645.3h0M39.2 618.9h0M22.4 639.0h0M36.8 618.1h0M36.0 641.3h0M38.6 614.6h0M45.9 628.3h0M20.7 622.2h0M47.7 620.0h0M51.1 619.7h0M35.6 637.1h0M39.8 625.4h0M29.8 628.0h0M30.4 637.6h0M43.5 609.0h0M35.8 622.1h0M28.4 622.3h0M26.7 629.0h0M23.0 626.2h0M39.1 626.1h0M53.3 613.5h0M32.0 619.4h0M43.5 629.1h0M52.5 613.6h0M25.6 624.1h0M45.3 642.8h0M40.3 616.3h0M32.2 611.3h0M23.0 646.4h0M54.1 636.1h0M23.6 646.5h0M26.7 645.1h0M18.3 623.1h0M20.1 643.3h0M40.4 626.2h0M23.8 620.2h0M43.6 624.6h0M51.3 618.5h0M53.1 641.8h0M38.4 640.3h0M33.9 628.5h0M52.8 619.7h0M49.9 621.0h0M57.3 634.2h0M46.0 623.8h0M49.8 646.4h0M41.1 628.0h0M29.8 644.8h0M39.5 630.4h0M25.0 617.6h0M18.3 629.4h0M31.3 645.3h0M25.5 646.9h0M45.7 620.8h0M27.7 618.9h0M42.5 613.5h0M55.3 633.0h0M42.0 634.3h0M28.5 644.5h0M32.5 625.1h0M28.0 613.0h0M19.6 612.4h0M33.8 611.9h0M30.9 611.3h0M25.5 611.9h0M25.3 644.3h0M57.1 633.7h0M26.4 619.7h0M53.5 639.1h0M48.8 645.8h0M32.9 609.5h0M54.8 629.5h0M44.3 630.7h0M46.5 619.4h0M40.5 618.4h0M53.4 633.2h0M43.6 625.2h0M18.2 638.5h0M43.3 623.6h0M35.9 625.2h0M35.8 622.7h0M39.6 642.4h0M33.2 609.0h0M45.7 617.3h0M43.0 610.3h0M35.3 645.4h0M42.6 643.3h0M41.0 619.9h0M50.8 619.6h0M54.1 621.9h0M27.9 629.7h0M42.7 629.6h0M45.2 611.9h0M31.5 616.5h0M33.0 640.6h0M38.9 643.9h0M18.3 630.7h0M34.3 616.1h0M26.2 640.8h0M41.6 644.0h0M26.9 645.6h0M32.5 644.1h0M48.7 610.1h0M41.7 638.3h0M34.6 619.8h0M44.9 646.6h0M18.6 618.4h0M47.1 614.1h0M49.3 624.4h0M48.4 642.1h0M37.7 611.9h0M19.6 629.5h0" stroke="#2a2ad8" stroke-width="0.9" stroke-linecap="round" fill="none" opacity="0.8"/>
<path d="M28.5 635.4h0M30.9 613.8h0M56.3 620.1h0M33.5 615.8h0M32.4 633.7h0M40.8 630.1h0M26.3 627.1h0M47.9 645.8h0M19.9 621.5h0M37.4 634.7h0M20.6 614.7h0M26.1 628.6h0M25.0 641.5h0M43.3 610.7h0M55.9 625.6h0M32.9 643.3h0M55.6 621.6h0M29.5 630.1h0M36.6 618.8h0M23.7 635.4h0M47.0 644.4h0M19.7 618.5h0M39.0 618.8h0M23.9 614.7h0M54.8 616.4h0M22.6 622.3h0M48.6 627.9h0M27.2 636.7h0M36.1 633.8h0M54.4 631.3h0M32.4 636.2h0M28.3 632.3h0M42.0 626.6h0M38.0 638.8h0M46.2 610.9h0M43.0 644.8h0M33.5 620.4h0M31.8 635.6h0M34.5 617.9h0M54.2 629.3h0M33.9 611.1h0M47.1 616.7h0M38.7 609.9h0M44.8 628.0h0M51.3 623.6h0M25.5 645.4h0M34.7 636.0h0M33.3 642.6h0M47.4 620.0h0M24.6 638.2h0M30.5 643.8h0M40.8 625.0h0M43.3 616.0h0M29.3 638.8h0M39.8 624.7h0M19.5 642.7h0M18.1 644.8h0M40.9 614.2h0M47.5 610.0h0M38.5 619.9h0M44.9 640.3h0M25.9 644.5h0M29.5 628.1h0M53.0 617.9h0M52.2 619.5h0M22.8 631.7h0M56.0 624.8h0M27.4 644.7h0M56.4 628.8h0M38.5 630.2h0M29.5 615.7h0M48.7 614.5h0M50.6 626.2h0M56.2 628.6h0M55.2 635.6h0M38.0 616.9h0M21.7 640.0h0M51.3 621.0h0M40.2 612.7h0M21.6 624.5h0M34.3 626.1h0M37.5 617.3h0M34.8 645.4h0M49.0 633.5h0M47.7 630.6h0M45.5 632.7h0M22.9 628.3h0M51.1 624.5h0M22.2 644.9h0M29.4 609.7h0M28.9 645.0h0M51.6 627.8h0M33.2 629.8h0M19.5 645.0h0M47.0 623.4h0M27.3 642.4h0M30.8 615.3h0M36.1 630.0h0M25.5 609.3h0M41.0 640.2h0M21.5 624.1h0M57.4 633.2h0M48.7 624.1h0M34.2 643.3h0M26.4 637.8h0M46.0 643.0h0M19.9 623.8h0M43.4 646.2h0M20.7 618.9h0M19.5 633.5h0M32.0 642.5h0M35.8 641.0h0M24.2 624.0h0M51.6 627.6h0M31.7 632.1h0M26.8 635.3h0M28.9 617.7h0M24.9 622.1h0M36.3 645.7h0M49.0 644.8h0M39.8 618.4h0M50.5 611.4h0M21.1 645.7h0M54.6 637.8h0M55.2 624.2h0M19.1 611.7h0M54.6 622.8h0M38.1 628.1h0M26.1 637.5h0M25.9 644.4h0M56.3 625.1h0M27.2 646.2h0M26.8 640.1h0M22.9 633.6h0M18.4 644.2h0M57.5 626.3h0M19.1 644.9h0M35.3 628.6h0M53.4 630.9h0M43.5 618.0h0M26.3 623.5h0M34.3 621.3h0M35.1 614.0h0M41.3 639.4h0M42.6 633.9h0M18.7 642.8h0M33.6 625.3h0M38.2 626.4h0M49.5 645.7h0M32.6 615.2h0M38.1 622.1h0M33.1 628.4h0M29.1 645.3h0M19.6 641.2h0M30.0 643.8h0M25.7 626.3h0M51.2 613.2h0M21.6 643.0h0M53.3 622.0h0M29.2 642.1h0M51.4 640.9h0M48.9 619.2h0M23.9 609.4h0M20.6 622.2h0M23.1 641.9h0M48.9 644.6h0M26.8 620.5h0M58.5 626.1h0M21.3 610.7h0M40.8 624.2h0M35.7 643.4h0M40.1 619.1h0M43.7 638.3h0M43.0 619.9h0M32.9 613.6h0M28.1 622.6h0M45.3 613.2h0M52.2 638.1h0M29.2 623.6h0M53.6 628.8h0M48.4 617.2h0M23.0 616.7h0M39.0 615.3h0M19.1 619.4h0M53.4 617.9h0M27.8 610.5h0M32.8 646.3h0M30.6 643.8h0M58.4 623.7h0M37.3 612.1h0M49.7 628.7h0M45.9 617.2h0M26.7 633.7h0M38.6 638.9h0M29.1 624.4h0M21.8 646.2h0M23.1 621.0h0M53.1 626.5h0M36.6 622.7h0M27.9 632.3h0" stroke="#2a2ad8" stroke-width="0.9" stroke-linecap="round" fill="none" opacity="0.32"/>
</g>
<g transform="translate(0,-0.00)">
<g clip-path="url(#c34)">
<rect x="18.00" y="650.00" width="48.00" height="37.00" fill="#000"/>
<rect x="18.00" y="650.00" width="48.00" height="37.00" filter="url(#rH)"/>
<rect x="18.00" y="650.00" width="48.00" height="37.00" fill="#000" opacity="0.55"/>
<g filter="url(#bl)" fill="#000">
<polygon points="51.6,650.0 66.0,650.0 66.0,666.6" opacity="1"/>
<polygon points="56.4,687.0 66.0,670.4 66.0,687.0" opacity="1"/>
<polygon points="18.0,650.0 27.6,650.0 18.0,659.2" opacity="0.8"/>
</g>
</g>
</g>
<g transform="translate(0,40)">
<g clip-path="url(#c35)">
<rect x="18.00" y="650.00" width="48.00" height="37.50" fill="#000"/>
<rect x="18.00" y="650.00" width="48.00" height="37.50" filter="url(#rH)"/>
<rect x="18.00" y="650.00" width="48.00" height="37.50" fill="#000" opacity="0.55"/>
<g filter="url(#bl)" fill="#000">
<polygon points="51.6,650.0 66.0,650.0 66.0,666.9" opacity="1"/>
<polygon points="56.4,687.5 66.0,670.6 66.0,687.5" opacity="1"/>
<polygon points="18.0,650.0 27.6,650.0 18.0,659.4" opacity="0.8"/>
</g>
<path d="M25.0 673.4h0M31.3 662.1h0M56.0 678.2h0M30.5 673.7h0M24.6 673.4h0M58.0 672.1h0M49.5 662.1h0M22.6 655.6h0M27.5 662.2h0M50.8 659.9h0M41.9 653.5h0M33.0 656.9h0M56.4 659.0h0M25.2 677.4h0M22.4 685.5h0M51.8 663.4h0M18.9 670.1h0M57.0 675.8h0M36.3 674.7h0M22.2 674.9h0M41.5 676.8h0M30.5 680.4h0M23.7 682.3h0M46.8 659.7h0M20.1 655.8h0M51.3 674.5h0M38.7 659.9h0M27.6 670.0h0M50.7 657.3h0M44.8 676.8h0M31.5 668.3h0M46.6 673.0h0M51.3 678.8h0M35.0 657.1h0M39.4 685.1h0M52.0 666.1h0M26.3 655.4h0M18.9 653.7h0M53.5 669.4h0M34.6 650.2h0M29.1 664.9h0M46.2 672.0h0M27.8 674.0h0M32.4 674.2h0M47.4 667.8h0M27.0 661.0h0M51.5 666.8h0M25.1 661.0h0M22.6 671.9h0M57.3 666.7h0M48.2 654.1h0M49.4 657.3h0M30.4 676.4h0M24.7 665.0h0M35.7 667.6h0M40.4 671.3h0M21.1 666.6h0M33.3 676.4h0M27.6 660.7h0M37.5 673.9h0M19.1 652.1h0M30.7 681.6h0M40.8 677.3h0M28.0 663.8h0M35.9 672.2h0M27.5 664.8h0M34.9 670.2h0M46.1 671.0h0M28.8 682.2h0M22.6 671.3h0M38.2 673.8h0M38.0 685.6h0M30.0 655.9h0M54.9 664.2h0M42.7 652.8h0M29.4 669.2h0M18.9 652.2h0M34.8 663.2h0M48.3 656.9h0M29.1 667.3h0M47.2 673.5h0M30.5 687.1h0M39.6 679.2h0M47.7 681.6h0M31.9 677.6h0M23.0 655.8h0M33.7 687.1h0M43.9 683.2h0M38.8 687.1h0M40.1 673.0h0M28.1 650.5h0M33.0 686.2h0M28.1 653.8h0M48.0 670.1h0M21.2 673.3h0M23.2 654.6h0M25.5 676.1h0M35.0 686.9h0M32.0 669.2h0M39.0 683.0h0M57.3 662.3h0M43.2 675.1h0M24.0 681.3h0M42.3 663.4h0M38.0 679.1h0M27.8 674.9h0M27.5 660.6h0M18.6 660.1h0M28.8 667.7h0M42.6 683.1h0M51.3 676.7h0M19.9 677.2h0M19.1 680.3h0M34.2 660.0h0M29.4 653.7h0M18.4 669.4h0M56.2 671.5h0M49.2 673.1h0M18.6 670.1h0M39.0 669.4h0M42.2 683.8h0M49.2 679.8h0M27.6 660.7h0M51.7 663.2h0M26.3 651.0h0M35.8 650.4h0M18.5 683.8h0M32.4 668.6h0M47.6 676.9h0M27.2 686.9h0M34.8 672.6h0M39.4 655.5h0M39.7 659.5h0M37.3 674.4h0M35.6 678.4h0M18.6 659.6h0M36.9 674.6h0M37.9 664.7h0M46.1 682.1h0M51.5 652.9h0M50.2 679.2h0M24.2 671.5h0M21.4 685.0h0M49.1 682.1h0M30.5 654.0h0M48.7 664.6h0M51.4 683.4h0M18.1 657.1h0M32.7 670.4h0M33.6 679.8h0M57.8 674.3h0M36.0 656.1h0M25.7 669.8h0M29.4 660.3h0M36.2 683.7h0M39.6 669.4h0M40.3 651.4h0M51.5 679.1h0M36.4 681.5h0M36.7 673.7h0M54.1 681.3h0M32.4 668.5h0M38.0 680.2h0M47.5 680.5h0M38.7 660.6h0M40.0 668.1h0M39.5 666.1h0M53.5 669.9h0M54.1 679.2h0M24.7 662.2h0M50.0 662.7h0M44.0 687.5h0M26.3 672.9h0M41.9 682.6h0M43.8 684.4h0M34.9 684.1h0M39.3 674.7h0M25.6 656.7h0M27.0 653.8h0M35.7 686.7h0M37.6 682.0h0M52.9 677.3h0M53.4 664.4h0M27.9 672.4h0M22.2 651.6h0M55.3 660.2h0M45.4 666.9h0M50.5 669.0h0M22.6 677.0h0M18.9 676.1h0M46.4 654.5h0M30.0 686.3h0M56.7 676.4h0M26.7 686.3h0M35.8 669.3h0M32.1 683.3h0M47.5 668.3h0M21.6 662.6h0M34.2 683.0h0M51.6 656.4h0M29.0 662.9h0M46.1 652.5h0M21.7 665.4h0M21.2 654.3h0M51.8 673.5h0M36.7 671.1h0M35.9 654.2h0M37.7 651.3h0M27.9 650.2h0M23.2 678.0h0M51.1 659.1h0M39.5 651.4h0M50.1 674.0h0M23.8 665.4h0M51.5 668.0h0M49.1 672.6h0M51.1 667.4h0M35.2 652.7h0M44.1 678.3h0M53.5 671.2h0M40.5 652.9h0M34.1 676.4h0M22.4 679.7h0M22.5 673.7h0M33.6 666.5h0M20.7 683.5h0M34.8 667.4h0M46.0 676.1h0M56.6 666.3h0M31.8 650.0h0M32.5 654.4h0M48.9 666.7h0M45.1 657.6h0M28.2 675.3h0M32.4 651.8h0M44.9 685.2h0M28.8 653.4h0M27.4 679.9h0M26.6 679.7h0M45.5 667.5h0M24.3 677.7h0M27.0 661.4h0M55.8 666.7h0M42.5 683.4h0M24.3 681.0h0M21.0 674.8h0M43.0 666.9h0M41.4 675.9h0M27.5 650.8h0M45.5 653.4h0M29.5 650.1h0M18.1 681.8h0M42.0 659.4h0M56.8 671.8h0M36.0 665.0h0M23.6 650.5h0M36.8 678.5h0M23.8 671.7h0M34.7 687.4h0M34.8 650.8h0M38.6 667.9h0M22.7 662.4h0M42.1 674.3h0M47.3 684.5h0M38.1 669.5h0M27.0 660.8h0M37.9 678.9h0M55.6 672.6h0M22.7 657.4h0M43.3 670.9h0M22.8 686.8h0M23.4 666.3h0M37.8 657.5h0M37.1 679.9h0M46.9 658.1h0M56.0 670.7h0M48.3 679.5h0M18.8 681.5h0M41.5 657.0h0M37.2 662.5h0M53.5 665.8h0M54.4 676.4h0M45.5 659.8h0M28.0 665.1h0M32.7 657.5h0M23.2 659.8h0M48.5 651.5h0M30.3 687.1h0M18.1 668.2h0M38.3 684.2h0M31.6 687.3h0M28.9 652.1h0M41.7 653.2h0M44.6 683.3h0M46.4 680.2h0M43.8 658.9h0M34.0 660.5h0M24.3 683.5h0M46.0 663.3h0M34.2 658.6h0M25.8 685.7h0M34.2 660.4h0M54.0 656.9h0M18.6 660.2h0M35.3 679.0h0M56.4 663.9h0M46.1 683.4h0M18.6 672.6h0M48.5 664.3h0M49.0 678.4h0M52.5 669.5h0M28.1 652.7h0M19.2 675.6h0M20.8 662.5h0M38.6 652.2h0M20.8 655.3h0M51.4 666.6h0M49.1 684.1h0M24.4 660.0h0M23.8 675.4h0M20.4 667.7h0M24.2 664.4h0M31.0 686.2h0M47.0 679.3h0M50.6 664.7h0M29.1 651.0h0M23.6 654.7h0M26.0 650.3h0M24.6 675.1h0M47.6 675.6h0M27.8 656.1h0M33.7 671.3h0M49.9 681.3h0M35.5 678.8h0M23.7 684.1h0M31.4 681.4h0M46.7 660.3h0M41.6 675.8h0M28.5 677.6h0M20.2 650.3h0" stroke="#4a3cff" stroke-width="1.05" stroke-linecap="round" fill="none" opacity="0.55"/>
</g>
</g>
<g clip-path="url(#c36)">
<rect x="67.32" y="608.75" width="48.00" height="38.25" fill="#000"/>
<path d="M76.6 622.8h0M86.0 610.4h0M76.7 642.1h0M101.6 631.7h0M75.3 621.4h0M69.0 617.5h0M95.1 618.0h0M79.7 623.5h0M103.4 643.9h0M84.7 625.0h0M69.9 626.8h0M97.9 644.0h0M97.6 616.9h0M107.2 637.6h0M89.0 630.7h0M82.3 620.5h0M88.6 632.3h0M110.9 624.6h0M101.0 610.0h0M101.5 634.4h0M76.9 641.2h0M90.0 613.0h0M72.4 622.7h0M69.3 629.2h0M84.2 628.6h0M89.7 634.5h0M90.4 635.3h0M76.7 644.8h0M99.7 637.7h0M71.3 642.7h0M86.0 623.8h0M83.2 633.5h0M67.6 617.8h0M98.8 617.8h0M77.5 637.4h0M79.0 616.5h0M95.5 637.9h0M68.1 628.3h0M108.7 642.5h0M90.6 621.1h0M76.4 642.3h0M94.2 632.3h0M91.3 613.0h0M68.7 645.4h0M94.8 629.8h0M81.6 613.5h0M71.9 635.3h0M87.4 637.5h0M95.6 631.2h0M95.5 619.1h0M96.1 644.4h0M76.5 619.4h0M72.4 611.0h0M97.9 635.6h0M75.1 625.6h0M84.4 637.2h0M106.9 643.1h0M76.0 643.0h0M77.4 636.5h0M90.4 616.8h0M87.4 645.9h0M73.3 623.3h0M74.7 634.1h0M72.4 644.4h0M112.8 639.8h0M91.7 611.4h0M99.8 611.3h0M99.6 641.1h0M87.6 627.1h0M100.2 646.0h0M70.1 634.1h0M80.8 627.8h0M69.8 617.4h0M80.6 639.3h0M92.9 637.7h0M83.2 645.6h0M90.7 641.2h0M106.3 620.9h0M88.7 631.7h0M99.8 645.6h0M106.1 630.0h0M99.8 620.7h0M72.1 616.2h0M87.6 633.4h0M71.3 624.9h0M92.5 637.8h0M68.0 626.8h0M96.2 614.4h0M104.7 633.6h0M94.0 638.8h0M104.1 620.2h0M68.5 625.3h0M104.5 610.5h0M107.3 641.0h0M95.4 641.4h0M76.3 634.8h0M77.8 625.7h0M112.4 636.2h0M69.8 618.2h0M102.3 631.9h0M70.5 645.2h0M105.4 613.1h0M92.4 626.5h0M67.4 636.7h0M68.1 614.6h0M99.7 615.0h0M84.2 621.1h0M103.0 624.2h0M89.6 614.8h0M87.0 637.8h0M74.8 616.0h0M67.9 638.2h0M93.6 636.6h0M101.5 627.3h0M72.1 616.6h0M67.7 626.1h0M108.7 634.3h0M81.4 619.1h0M100.6 630.2h0M85.9 623.5h0M81.9 617.6h0M70.3 646.2h0M103.1 636.4h0M99.1 616.1h0M82.2 643.0h0M89.0 629.9h0M91.2 622.2h0M80.1 628.3h0M89.6 625.3h0M80.5 630.0h0M97.3 625.0h0M100.0 635.2h0M77.6 643.8h0M84.8 619.4h0M72.4 616.3h0M86.7 638.3h0M97.9 618.3h0M89.4 613.0h0M86.7 620.2h0M105.6 621.5h0M80.1 641.9h0M78.2 634.7h0M78.7 622.4h0M85.4 626.9h0M76.1 626.3h0M101.9 628.5h0M91.2 644.0h0M71.6 623.1h0M88.6 643.9h0M69.8 624.0h0M75.7 618.0h0M110.0 612.3h0M83.2 621.6h0M91.6 642.4h0M99.3 615.0h0M89.8 628.0h0M85.5 609.7h0M84.4 624.4h0M89.7 635.3h0M100.0 627.3h0M69.4 633.8h0M109.3 634.7h0M92.3 639.9h0M73.1 641.4h0M95.0 645.2h0M81.6 634.8h0M89.0 645.9h0M79.0 639.5h0M88.4 615.4h0M76.3 627.9h0M104.2 618.1h0M72.9 619.9h0M82.5 612.3h0M78.4 618.8h0M94.8 626.5h0M72.0 642.1h0M102.5 640.5h0M76.4 609.8h0M71.5 629.4h0M102.2 621.4h0M94.4 646.2h0M85.3 636.3h0M84.7 616.6h0M79.7 629.7h0M81.5 620.2h0M83.5 636.5h0M88.8 622.7h0M76.3 637.3h0M90.6 617.1h0M72.1 625.9h0M107.2 616.3h0M84.7 639.1h0M68.2 633.0h0M114.8 625.7h0M68.4 629.0h0M94.2 611.8h0M78.5 645.1h0M87.9 640.0h0M71.6 644.0h0M77.0 620.2h0" stroke="#2a2ad8" stroke-width="0.9" stroke-linecap="round" fill="none" opacity="0.8"/>
<path d="M106.0 628.7h0M87.5 640.8h0M84.3 629.9h0M92.7 641.0h0M84.5 638.8h0M102.8 643.0h0M113.8 638.9h0M104.4 643.6h0M103.5 633.5h0M91.0 611.2h0M104.3 624.1h0M81.8 639.9h0M82.2 628.8h0M79.1 623.8h0M85.9 628.8h0M113.3 622.8h0M85.4 643.6h0M100.3 617.8h0M74.3 624.9h0M105.3 618.6h0M82.2 611.9h0M101.9 621.7h0M83.9 641.7h0M68.8 645.2h0M106.6 644.6h0M104.3 639.6h0M72.5 611.4h0M104.4 634.6h0M85.8 620.6h0M78.0 643.7h0M73.6 622.6h0M79.9 644.2h0M94.1 614.6h0M76.0 620.1h0M72.0 629.2h0M115.1 643.5h0M81.4 646.1h0M87.0 619.7h0M80.2 631.8h0M75.6 618.4h0M81.6 619.9h0M90.9 643.1h0M112.5 630.8h0M106.0 625.7h0M74.9 638.4h0M93.6 613.4h0M77.2 644.7h0M105.6 646.0h0M87.5 618.2h0M70.8 643.2h0M103.3 627.2h0M82.9 644.8h0M102.6 633.8h0M94.8 645.0h0M69.7 613.1h0M71.0 629.0h0M78.4 644.7h0M80.5 636.4h0M72.3 633.6h0M74.6 609.6h0M91.5 645.5h0M93.0 623.4h0M82.3 612.0h0M104.1 631.1h0M91.5 627.5h0M75.9 641.8h0M73.8 629.2h0M93.5 613.7h0M100.8 610.0h0M73.7 638.6h0M81.9 612.4h0M101.6 638.0h0M101.1 625.4h0M115.3 637.7h0M94.8 635.4h0M84.6 632.1h0M100.5 628.4h0M102.2 608.8h0M105.4 634.1h0M91.4 615.3h0M91.5 632.1h0M104.1 635.5h0M79.1 633.9h0M76.9 633.9h0M71.9 644.1h0M101.7 629.5h0M72.0 626.9h0M89.7 645.0h0M107.0 614.9h0M93.5 630.0h0M82.5 626.2h0M105.0 622.4h0M76.4 617.2h0M87.5 618.9h0M68.5 609.2h0M87.7 632.2h0M98.3 636.5h0M108.6 619.1h0M94.0 615.0h0M95.7 612.0h0M93.7 633.0h0M94.5 623.2h0M89.7 612.6h0M104.6 635.0h0M72.5 646.6h0M104.1 622.1h0M105.6 637.2h0M101.2 632.9h0M69.7 629.4h0M105.0 625.6h0M86.0 622.1h0M86.2 636.8h0M67.9 624.6h0M102.4 620.1h0M98.6 629.9h0M70.8 636.6h0M94.5 629.1h0M82.1 612.4h0M94.5 609.6h0M102.0 610.9h0M71.8 609.2h0M94.6 632.4h0M80.4 646.7h0M68.8 629.2h0M74.2 637.8h0M79.1 628.4h0M92.6 626.7h0M68.8 637.4h0M102.4 640.9h0M97.3 626.9h0M81.6 636.7h0M111.0 634.8h0M107.4 643.5h0M77.2 617.7h0M74.3 642.9h0M75.3 641.4h0M86.7 633.6h0M69.8 621.3h0M69.4 637.3h0M72.0 631.6h0M80.6 620.9h0M72.0 612.3h0M88.8 630.2h0M70.4 613.5h0M107.7 631.4h0M98.5 631.6h0M91.7 642.4h0M89.7 624.8h0M95.8 616.8h0M102.1 615.5h0M78.1 636.3h0M100.0 643.1h0M79.5 627.3h0M93.4 624.7h0M85.1 643.9h0M68.7 623.1h0M82.0 631.0h0M82.8 610.3h0M73.6 611.0h0M70.2 613.4h0M77.0 631.0h0M67.6 644.5h0M98.9 624.7h0M92.7 643.6h0M77.6 640.0h0M102.5 623.7h0M85.9 624.0h0M95.0 611.8h0M99.0 643.3h0M91.7 644.6h0M108.7 611.5h0M92.2 615.7h0M98.7 631.1h0M88.8 628.4h0M68.5 635.8h0M106.5 615.7h0M103.9 623.9h0M100.7 634.7h0M74.9 624.8h0M82.7 616.0h0M98.4 645.8h0M85.3 622.5h0M91.7 621.2h0M88.4 638.8h0M103.1 641.1h0M72.4 638.7h0M102.0 645.9h0M76.3 627.7h0M102.3 616.1h0M67.9 635.6h0M110.2 620.2h0M107.6 609.3h0M97.0 617.9h0M69.3 626.5h0M73.8 632.5h0M78.3 643.8h0M105.6 619.3h0M88.0 608.8h0M106.5 615.0h0M81.8 609.2h0" stroke="#2a2ad8" stroke-width="0.9" stroke-linecap="round" fill="none" opacity="0.32"/>
</g>
<g transform="translate(0,-0.14)">
<g clip-path="url(#c37)">
<rect x="67.32" y="650.00" width="48.00" height="37.00" fill="#000"/>
<rect x="67.32" y="650.00" width="48.00" height="37.00" filter="url(#rH)"/>
<rect x="67.32" y="650.00" width="48.00" height="37.00" fill="#000" opacity="0.25"/>
<g filter="url(#bl)" fill="#000">
<polygon points="67.3,650.0 79.3,650.0 67.3,661.1" opacity="1"/>
<polygon points="105.7,687.0 115.3,672.2 115.3,687.0" opacity="1"/>
<polygon points="67.3,679.6 74.5,687.0 67.3,687.0" opacity="0.8"/>
</g>
</g>
</g>
<g transform="translate(0,40)">
<g clip-path="url(#c38)">
<rect x="67.32" y="650.00" width="48.00" height="37.50" fill="#000"/>
<rect x="67.32" y="650.00" width="48.00" height="37.50" filter="url(#rH)"/>
<rect x="67.32" y="650.00" width="48.00" height="37.50" fill="#000" opacity="0.25"/>
<g filter="url(#bl)" fill="#000">
<polygon points="67.3,650.0 79.3,650.0 67.3,661.2" opacity="1"/>
<polygon points="105.7,687.5 115.3,672.5 115.3,687.5" opacity="1"/>
<polygon points="67.3,680.0 74.5,687.5 67.3,687.5" opacity="0.8"/>
</g>
<path d="M100.9 687.3h0M67.7 661.9h0M78.9 680.8h0M106.6 655.0h0M102.8 657.4h0M99.3 684.3h0M73.2 662.2h0M109.2 667.4h0M75.5 666.6h0M108.4 661.3h0M95.0 687.0h0M73.5 678.1h0M90.4 651.2h0M91.7 671.5h0M72.6 654.3h0M78.9 669.1h0M114.8 673.2h0M99.9 663.5h0M75.5 659.0h0M94.6 656.7h0M80.4 655.6h0M96.2 656.2h0M100.5 679.1h0M104.7 676.2h0M104.4 687.3h0M79.1 676.5h0M101.8 664.0h0M84.4 663.9h0M84.5 675.5h0M102.5 661.4h0M83.0 672.3h0M91.9 653.9h0M97.5 650.9h0M87.8 662.7h0M110.3 664.9h0M92.1 669.7h0M70.2 663.5h0M85.8 657.8h0M83.1 677.5h0M78.2 672.7h0M68.5 664.3h0M93.9 661.1h0M87.9 655.5h0M85.2 664.4h0M75.4 676.8h0M84.9 680.4h0M78.6 661.2h0M95.8 654.5h0M82.0 677.8h0M93.5 686.6h0M75.9 662.1h0M69.8 667.6h0M103.8 671.6h0M96.6 662.3h0M81.6 662.3h0M90.0 656.1h0M101.6 660.1h0M92.1 661.8h0M76.4 660.4h0M110.0 658.4h0M83.3 685.8h0M99.9 675.8h0M105.6 666.7h0M68.7 674.7h0M95.7 671.8h0M87.8 665.6h0M74.5 683.4h0M95.6 676.6h0M100.2 677.1h0M71.7 680.8h0M72.0 652.8h0M106.8 669.3h0M80.0 682.9h0M80.9 661.1h0M104.6 650.9h0M87.3 671.6h0M92.5 668.3h0M105.9 686.1h0M84.8 686.0h0M101.2 680.4h0M102.6 660.5h0M90.4 685.8h0M78.3 651.3h0M75.5 686.6h0M93.5 682.8h0M84.0 684.8h0M101.3 660.0h0M105.1 655.4h0M98.2 655.0h0M83.0 653.5h0M80.1 670.3h0M97.8 679.3h0M68.3 684.1h0M82.9 669.3h0M91.4 653.6h0M72.4 673.3h0M113.5 653.1h0M96.0 656.7h0M90.8 662.6h0M95.3 676.3h0M111.0 658.2h0M82.1 674.6h0M109.9 662.5h0M100.2 682.6h0M76.2 653.0h0M114.6 668.1h0M88.4 669.4h0M85.8 681.5h0M95.7 681.6h0M67.7 653.7h0M78.9 675.8h0M89.0 665.2h0M74.9 667.9h0M95.2 663.9h0M85.2 675.3h0M75.3 679.8h0M87.2 652.4h0M80.0 676.6h0M81.0 670.5h0M96.9 651.0h0M86.8 658.9h0M79.3 671.3h0M105.9 662.7h0M79.2 675.9h0M68.7 673.9h0M86.2 657.5h0M72.6 650.5h0M99.6 674.4h0M103.9 652.3h0M104.6 666.9h0M101.6 658.5h0M87.6 665.7h0M90.9 677.4h0M90.2 661.1h0M82.5 661.3h0M90.6 653.9h0M83.4 679.6h0M79.4 679.9h0M84.8 686.1h0M86.3 685.7h0M89.3 669.7h0M70.5 665.0h0M111.8 676.7h0M77.2 650.6h0M79.2 651.0h0M67.6 651.2h0M77.0 665.1h0M107.0 678.8h0M75.7 666.2h0M95.2 670.8h0M95.5 656.7h0M84.0 659.8h0M87.6 687.1h0M74.2 652.6h0M68.2 662.6h0M69.3 686.1h0M73.2 671.2h0M70.7 685.4h0M69.5 650.8h0M76.2 679.1h0M74.1 677.0h0M75.6 667.3h0M91.2 677.6h0M110.8 657.9h0M91.8 680.5h0M92.7 661.4h0M74.4 679.3h0M89.7 673.2h0M110.7 671.2h0M98.9 676.1h0M92.0 676.2h0M103.0 664.8h0M84.3 663.0h0M71.6 662.9h0M85.5 684.0h0M73.9 652.0h0M68.5 685.6h0M74.8 677.3h0M97.3 667.9h0M107.1 677.0h0M71.0 653.5h0M96.2 673.5h0M67.7 677.9h0M107.6 661.9h0M68.2 671.0h0M89.2 671.9h0M81.7 666.2h0M86.7 656.1h0M99.5 666.8h0M93.4 657.5h0M96.3 668.6h0M89.3 671.1h0M70.9 674.7h0M105.4 672.8h0M71.4 687.1h0M82.1 657.4h0M69.5 685.8h0M77.1 667.3h0M77.0 666.0h0M83.0 673.2h0M72.9 685.4h0M82.0 659.6h0M87.3 674.5h0M71.9 660.8h0M82.7 655.3h0M69.2 654.5h0M108.3 679.5h0M76.2 658.6h0M100.8 674.9h0M90.9 677.9h0M81.1 674.0h0M99.0 662.1h0M109.3 686.6h0M98.9 679.9h0M105.7 672.5h0M93.2 670.0h0M69.0 659.8h0M76.1 678.3h0M99.2 650.7h0M97.2 683.5h0M82.2 651.7h0M89.9 659.2h0M79.6 664.0h0M108.8 686.4h0M92.3 667.3h0M69.5 668.2h0M68.2 653.9h0M71.2 677.9h0M93.0 665.5h0M107.1 680.1h0M113.2 662.8h0M73.4 668.1h0M75.3 661.6h0M73.4 670.0h0M92.2 671.4h0M100.5 683.5h0M72.5 675.1h0M93.1 676.5h0M92.4 650.7h0M111.8 681.4h0M101.5 671.5h0M101.9 680.0h0M80.9 665.4h0M99.5 687.3h0M90.2 654.1h0M99.6 686.5h0M81.4 653.2h0M102.0 658.7h0M94.7 685.5h0M78.4 670.8h0M102.6 680.1h0M85.4 670.3h0M97.5 677.9h0M71.4 654.6h0M89.5 670.9h0M80.9 672.5h0M86.6 669.3h0M108.0 660.1h0M92.1 679.8h0M68.8 664.0h0M69.0 662.4h0M88.7 657.3h0M93.7 680.5h0M92.8 665.2h0M73.1 681.2h0M87.3 650.4h0M95.9 662.3h0M90.9 667.0h0M82.8 674.2h0M69.5 657.6h0M72.1 654.4h0M86.3 652.1h0M109.5 676.6h0M101.8 660.0h0M81.3 651.7h0M95.8 664.7h0M103.5 660.6h0M110.7 670.0h0M84.6 660.4h0M98.3 681.5h0M71.9 669.7h0M93.1 673.4h0M73.5 651.7h0M89.3 683.6h0M79.0 684.8h0M72.0 664.0h0M103.1 678.7h0M97.3 683.9h0M99.4 662.5h0M93.9 673.0h0M79.7 651.2h0M71.6 685.4h0M96.1 669.8h0M103.8 667.8h0M93.2 663.7h0M108.0 668.0h0M77.3 651.8h0M97.4 653.3h0M76.6 661.0h0M105.3 686.1h0M95.7 668.3h0M71.1 651.3h0M98.1 654.1h0M100.3 654.7h0M84.7 657.6h0M106.6 673.1h0M86.0 677.0h0M74.6 653.3h0M74.2 685.6h0M97.0 664.7h0M100.8 673.7h0M108.6 659.5h0M80.3 653.1h0M76.9 656.7h0M108.5 680.8h0M106.8 673.4h0M97.8 685.3h0M96.2 665.4h0M74.4 679.3h0M74.0 664.7h0M91.5 677.5h0M76.8 660.1h0M92.5 664.8h0M87.6 651.3h0M80.8 654.7h0M106.6 678.6h0M93.4 655.1h0M106.1 653.5h0M92.8 677.0h0M106.2 687.1h0M83.0 665.6h0M83.7 661.3h0M102.0 678.4h0M103.5 653.9h0M87.6 673.2h0M107.6 683.6h0M101.4 671.8h0M96.6 655.1h0M101.2 686.4h0M76.9 655.7h0" stroke="#4a3cff" stroke-width="1.05" stroke-linecap="round" fill="none" opacity="0.55"/>
</g>
</g>
<g clip-path="url(#c39)">
<rect x="116.64" y="608.75" width="48.00" height="38.25" fill="#000"/>
<path d="M131.6 626.8h0M158.9 641.8h0M160.6 611.1h0M131.4 645.8h0M133.8 635.4h0M124.4 625.6h0M154.0 628.6h0M157.1 614.2h0M131.6 611.5h0M124.3 635.3h0M156.9 616.5h0M144.8 611.8h0M137.5 642.1h0M156.2 623.9h0M123.2 621.4h0M122.9 639.2h0M161.9 623.1h0M149.7 620.0h0M156.1 614.0h0M119.5 633.5h0M131.2 622.2h0M125.3 644.8h0M136.0 630.1h0M123.7 635.9h0M145.9 613.8h0M118.6 644.1h0M146.8 645.3h0M121.4 632.5h0M133.2 635.4h0M148.6 608.8h0M141.7 638.5h0M120.4 634.0h0M145.6 620.6h0M151.1 643.2h0M155.1 645.2h0M126.9 612.7h0M162.9 644.6h0M140.5 639.3h0M133.7 628.5h0M150.4 609.6h0M161.0 641.8h0M160.7 629.1h0M138.8 645.9h0M145.2 634.8h0M124.4 637.1h0M135.2 626.5h0M148.5 623.1h0M150.8 641.6h0M131.1 647.0h0M164.4 618.4h0M144.4 624.6h0M128.4 628.0h0M146.8 609.2h0M137.5 622.0h0M138.1 645.6h0M151.6 645.0h0M128.1 637.4h0M138.2 628.5h0M138.5 634.8h0M157.2 631.0h0M135.1 633.8h0M135.3 621.6h0M143.6 623.6h0M119.6 631.1h0M151.4 636.4h0M153.8 644.9h0M155.4 612.0h0M130.5 628.8h0M146.7 628.3h0M148.1 639.6h0M117.3 637.5h0M130.7 624.6h0M133.8 615.5h0M141.6 635.6h0M132.7 632.8h0M149.2 626.2h0M161.5 643.9h0M139.0 641.1h0M122.7 637.2h0M139.6 623.8h0" stroke="#2a2ad8" stroke-width="0.9" stroke-linecap="round" fill="none" opacity="0.55"/>
<path d="M137.4 618.1h0M127.4 623.1h0M129.0 609.2h0M130.5 614.4h0M133.9 614.5h0M161.2 625.3h0M156.8 611.2h0M136.4 619.8h0M158.2 645.4h0M130.2 625.5h0M127.9 626.7h0M139.7 637.5h0M138.3 627.4h0M156.3 635.2h0M146.6 616.9h0M144.5 638.6h0M163.0 641.4h0M129.5 634.0h0M130.8 620.2h0M155.4 634.0h0M127.6 626.5h0M129.0 635.0h0M139.3 641.7h0M144.1 646.2h0M148.2 623.9h0M134.1 635.6h0M132.9 635.5h0M132.5 615.0h0M120.0 646.1h0M126.8 642.4h0M160.5 613.4h0M118.6 614.5h0M144.2 619.1h0M146.5 640.4h0M132.0 626.7h0M152.9 614.3h0M127.7 611.3h0M125.4 642.1h0M128.6 615.7h0M152.7 610.2h0M128.2 641.2h0M159.3 630.7h0M133.8 642.3h0M119.0 619.0h0M117.1 637.4h0M161.6 634.3h0M135.5 644.0h0M159.4 625.5h0M132.3 625.0h0M158.8 640.5h0M163.8 632.5h0M144.8 610.0h0M150.9 632.7h0M155.2 629.3h0M139.5 613.0h0M133.1 639.4h0M126.6 646.3h0M133.6 628.6h0M163.5 619.7h0M145.7 626.5h0M119.2 632.4h0M121.6 642.0h0M125.0 628.2h0M130.7 646.2h0M125.2 640.8h0M158.2 637.9h0M155.9 646.0h0M149.6 625.2h0M133.4 626.0h0M149.4 634.7h0M137.1 631.8h0M131.7 631.6h0M124.4 629.0h0M134.6 631.6h0M135.0 624.6h0M144.5 613.5h0M120.6 623.0h0M141.5 618.1h0M124.9 622.1h0M159.1 639.2h0" stroke="#2a2ad8" stroke-width="0.9" stroke-linecap="round" fill="none" opacity="0.22"/>
</g>
<g transform="translate(0,-0.29)">
<g clip-path="url(#c40)">
<rect x="116.64" y="650.00" width="48.00" height="37.00" fill="#000"/>
<rect x="116.64" y="650.00" width="48.00" height="37.00" filter="url(#rH)"/>
<rect x="116.64" y="650.00" width="48.00" height="37.00" fill="#000" opacity="0.62"/>
<g filter="url(#bl)" fill="#000">
<polygon points="155.0,650.0 164.6,650.0 164.6,687.0 157.4,687.0" opacity="0.8"/>
</g>
</g>
</g>
<g transform="translate(0,40)">
<g clip-path="url(#c41)">
<rect x="116.64" y="650.00" width="48.00" height="37.50" fill="#000"/>
<rect x="116.64" y="650.00" width="48.00" height="37.50" filter="url(#rH)"/>
<rect x="116.64" y="650.00" width="48.00" height="37.50" fill="#000" opacity="0.62"/>
<g filter="url(#bl)" fill="#000">
<polygon points="155.0,650.0 164.6,650.0 164.6,687.5 157.4,687.5" opacity="0.8"/>
</g>
<path d="M154.5 661.4h0M139.2 676.4h0M157.4 652.7h0M137.6 660.9h0M131.6 657.0h0M136.5 676.7h0M138.6 669.8h0M158.5 661.8h0M141.5 662.4h0M131.0 675.1h0M127.9 673.8h0M137.5 661.8h0M144.1 680.2h0M136.8 662.2h0M163.9 668.5h0M150.1 660.9h0M136.8 664.3h0M160.1 677.4h0M128.0 673.9h0M142.7 671.1h0M137.5 682.3h0M148.8 680.1h0M159.9 672.5h0M124.9 674.4h0M153.3 662.1h0M133.1 684.4h0M152.7 656.1h0M150.6 670.1h0M138.8 680.2h0M133.4 680.3h0M163.3 665.3h0M125.0 665.8h0M117.8 663.2h0M130.6 669.2h0M160.9 654.9h0M159.2 675.8h0M124.1 682.1h0M126.1 661.1h0M142.6 667.9h0M139.9 660.9h0M154.5 671.0h0M123.7 674.1h0M153.9 681.6h0M154.5 655.7h0M121.0 669.7h0M143.8 675.7h0M160.5 676.0h0M130.9 672.5h0M158.8 679.7h0M160.7 658.4h0M124.7 650.4h0M160.4 683.6h0M128.3 652.8h0M149.1 687.1h0M162.4 666.8h0M119.0 658.7h0M153.7 682.3h0M140.6 669.3h0M151.7 685.7h0M146.6 685.5h0M160.5 657.5h0M117.0 680.6h0M141.4 686.9h0M130.8 655.3h0M155.7 658.2h0M149.9 653.6h0M128.0 674.4h0M119.6 656.9h0M119.9 656.0h0M138.0 686.2h0M142.4 661.8h0M138.1 686.3h0M143.2 679.7h0M136.7 662.7h0M148.6 684.2h0M132.7 683.7h0M160.5 666.1h0M144.0 680.2h0M157.2 664.7h0M155.4 659.6h0M122.2 681.4h0M153.9 660.8h0M125.9 677.9h0M132.1 682.6h0M129.8 654.6h0M164.1 670.6h0M138.1 663.8h0M130.9 656.7h0M125.7 652.3h0M164.1 669.6h0M145.9 674.3h0M129.9 678.9h0M121.1 659.1h0M119.8 677.8h0M136.0 653.8h0M127.1 680.5h0M132.7 684.1h0M126.1 659.6h0M132.7 656.6h0M139.0 680.4h0M141.9 681.3h0M156.4 654.0h0M162.7 682.4h0M125.0 681.8h0M151.6 673.8h0M125.9 661.7h0M120.4 685.8h0M163.7 665.3h0M150.0 650.4h0M144.2 683.9h0M157.5 669.5h0M128.3 669.9h0M149.6 661.0h0M153.8 665.1h0M146.4 680.3h0M117.4 658.6h0M140.1 675.3h0M142.7 667.5h0M124.2 672.1h0M133.9 676.5h0M132.4 665.8h0M140.5 665.8h0M153.7 660.0h0M130.7 681.5h0M125.4 678.7h0M121.7 659.2h0M151.9 668.8h0M137.3 685.7h0M164.6 674.7h0M162.3 677.9h0M121.9 661.6h0M155.9 662.3h0M161.5 657.7h0M116.7 682.3h0M143.9 667.7h0M152.9 686.2h0" stroke="#4a3cff" stroke-width="1.05" stroke-linecap="round" fill="none" opacity="0.55"/>
</g>
</g>
<g clip-path="url(#c42)">
<rect x="165.96" y="608.75" width="48.00" height="38.25" fill="#000"/>
<path d="M205.0 616.6h0M174.9 618.6h0M189.2 638.0h0M200.2 630.9h0M180.7 627.7h0M178.9 630.0h0M185.2 644.2h0M188.9 628.3h0M210.2 636.6h0M208.9 646.5h0M199.8 617.9h0M167.2 631.1h0M207.5 622.8h0M190.3 622.0h0M189.6 642.2h0M180.0 623.0h0M201.9 622.4h0M203.8 621.3h0M204.7 633.0h0M203.8 642.1h0M201.0 625.1h0M168.2 608.8h0M209.8 610.9h0M190.4 622.9h0M209.1 634.0h0M175.1 635.5h0M202.1 618.6h0M189.3 635.5h0M213.5 611.3h0M188.1 612.4h0M172.6 634.7h0M187.5 610.3h0M208.0 633.8h0M186.6 621.0h0M209.8 631.5h0M200.6 617.1h0M192.7 629.7h0M202.8 642.8h0M190.0 610.1h0M205.7 636.8h0M191.4 621.1h0M176.9 630.4h0M184.9 636.0h0M172.4 610.5h0M209.5 643.9h0M178.2 632.7h0M170.2 617.8h0M213.5 635.5h0M204.0 610.3h0M194.2 627.3h0M199.8 639.0h0M181.2 631.6h0M191.9 625.3h0M195.9 619.3h0M191.1 614.7h0M204.0 629.1h0M213.3 617.6h0M197.3 613.0h0M180.4 641.1h0M170.6 619.6h0M173.2 638.9h0M192.7 619.6h0M204.6 613.5h0M207.5 634.7h0M184.9 646.0h0M181.9 619.9h0M168.5 612.2h0M187.0 640.2h0M191.0 631.5h0M212.5 614.3h0M189.1 617.1h0M197.5 646.3h0M197.7 618.1h0M187.4 641.6h0M208.9 617.0h0M167.7 632.0h0M212.2 640.0h0M180.1 637.0h0M166.1 639.1h0M194.8 646.1h0M169.8 631.6h0M207.6 626.9h0M174.7 641.0h0M193.9 639.0h0M170.0 609.0h0M184.4 628.1h0M185.1 627.6h0M179.3 622.4h0M172.9 646.6h0M200.1 639.5h0M199.0 610.6h0M210.4 617.0h0M211.3 644.4h0M188.7 643.7h0M167.9 610.1h0M177.6 631.0h0M195.3 626.1h0M177.6 609.2h0M185.8 643.2h0M180.6 640.2h0M190.5 621.5h0M180.9 616.5h0M186.2 640.1h0M200.5 646.7h0M184.2 612.4h0M179.3 624.4h0M168.4 614.0h0M199.1 623.1h0M208.4 621.7h0M178.5 613.3h0M209.7 628.5h0M196.1 643.0h0M181.7 613.3h0M183.1 632.0h0M208.6 615.1h0M194.1 618.6h0M197.0 639.4h0M211.5 626.8h0M178.2 617.8h0M170.4 612.1h0M166.9 628.6h0M185.2 634.8h0M180.7 622.7h0M205.8 623.0h0M199.9 626.6h0M185.7 611.6h0M213.9 624.1h0M175.2 644.6h0M186.0 646.0h0M210.3 622.6h0M177.9 628.8h0M197.5 633.4h0M200.5 626.6h0M212.0 618.6h0M187.2 644.3h0M191.8 629.3h0M166.8 640.1h0M200.5 612.5h0M168.0 618.6h0M182.8 626.8h0M168.5 629.3h0M175.0 623.4h0M189.8 623.3h0M208.3 618.7h0M193.2 618.7h0M188.2 637.7h0M176.1 624.5h0M211.3 619.0h0M198.6 630.9h0M197.3 631.3h0M187.9 610.8h0M208.1 641.2h0M184.7 647.0h0M209.9 629.6h0M174.2 610.1h0M167.1 634.0h0M166.2 620.2h0M208.4 622.2h0M190.6 623.2h0M194.7 643.8h0M168.5 619.6h0M211.7 639.9h0M209.8 646.8h0M192.3 627.9h0M209.7 629.6h0M166.2 617.6h0M197.0 610.2h0M213.2 614.7h0M169.0 625.5h0M197.2 609.4h0M204.1 638.9h0M190.3 629.4h0M177.8 635.9h0M167.7 641.5h0M178.7 616.8h0M194.3 621.3h0M174.1 634.7h0M206.2 624.5h0M178.0 642.7h0M192.6 633.6h0M209.8 624.6h0M198.0 617.4h0M173.6 628.4h0M197.1 639.1h0M185.3 629.5h0M172.5 623.2h0M201.1 617.2h0M203.5 615.6h0M194.4 611.2h0M186.7 633.0h0M188.5 612.7h0M192.6 638.5h0M180.4 616.3h0M186.7 613.0h0M188.3 639.3h0M168.9 611.1h0M168.7 609.2h0M191.9 631.5h0M202.7 621.7h0M171.2 642.7h0M192.1 635.1h0M209.3 613.5h0M192.5 610.7h0M212.2 616.4h0M212.5 639.7h0M213.3 610.2h0M169.4 610.3h0M207.9 645.2h0M204.5 619.9h0M197.5 640.2h0M181.3 613.6h0M213.2 626.9h0M179.0 630.9h0M204.8 636.0h0M166.0 637.9h0M195.4 620.9h0M213.6 643.2h0M205.4 614.2h0M199.0 632.7h0M171.9 633.3h0" stroke="#2a2ad8" stroke-width="0.9" stroke-linecap="round" fill="none" opacity="0.85"/>
<path d="M196.0 618.4h0M213.3 609.4h0M198.0 628.2h0M208.2 638.0h0M167.8 635.5h0M175.2 612.8h0M195.2 638.1h0M196.1 620.7h0M199.5 634.6h0M202.8 633.6h0M181.1 619.9h0M206.7 635.2h0M166.5 624.1h0M209.9 610.9h0M189.6 632.0h0M180.7 620.0h0M205.2 628.4h0M188.0 632.6h0M179.2 625.3h0M197.7 640.8h0M192.5 633.4h0M168.0 614.7h0M185.7 612.5h0M170.2 620.3h0M205.6 633.0h0M213.1 639.8h0M189.6 611.4h0M211.7 636.8h0M191.7 612.0h0M202.6 622.0h0M186.0 617.9h0M205.3 629.0h0M179.5 630.3h0M202.5 613.9h0M198.9 631.5h0M179.6 619.7h0M201.6 635.7h0M178.5 640.8h0M198.9 630.7h0M213.7 632.6h0M175.6 636.9h0M187.3 609.2h0M206.8 629.7h0M199.2 620.4h0M201.7 615.1h0M191.0 621.4h0M212.2 609.4h0M178.3 617.1h0M176.7 644.3h0M205.0 610.6h0M171.3 621.2h0M204.7 638.2h0M198.5 632.0h0M201.2 630.6h0M167.7 618.8h0M210.7 646.3h0M203.9 630.5h0M192.8 637.0h0M213.6 620.7h0M177.2 613.6h0M198.4 628.4h0M168.6 631.0h0M213.0 637.3h0M185.8 646.8h0M192.7 620.0h0M184.5 637.8h0M172.2 633.9h0M202.9 638.8h0M206.4 629.9h0M210.5 643.2h0M212.3 611.6h0M195.3 630.0h0M186.4 644.9h0M206.8 612.0h0M195.1 622.7h0M184.4 643.3h0M181.5 619.6h0M183.9 622.8h0M193.3 645.7h0M209.0 634.7h0M169.3 621.2h0M206.4 625.1h0M208.7 618.4h0M195.1 645.2h0M176.9 644.3h0M168.7 623.9h0M172.6 640.8h0M171.1 639.5h0M174.6 621.8h0M200.0 611.8h0M205.9 625.5h0M181.8 629.6h0M184.4 637.4h0M185.4 624.1h0M174.2 624.5h0M167.6 635.2h0M176.6 644.2h0M197.1 646.2h0M212.1 643.7h0M183.2 611.4h0M196.7 613.9h0M178.3 633.2h0M183.7 615.9h0M204.1 642.6h0M176.3 621.8h0M171.1 646.4h0M198.5 633.0h0M206.2 621.0h0M211.2 612.1h0M203.2 644.8h0M193.7 637.7h0M199.5 631.7h0M207.9 621.3h0M171.8 624.4h0M171.9 615.1h0M200.3 633.9h0M213.3 635.3h0M213.4 633.6h0M206.3 617.3h0M203.7 628.8h0M172.4 625.9h0M196.7 616.7h0M167.5 638.5h0M198.3 629.2h0M213.4 629.3h0M207.1 629.4h0M202.0 641.3h0M194.3 643.4h0M198.8 611.6h0M200.1 643.3h0M171.7 621.4h0M196.6 618.6h0M172.3 616.8h0M205.5 626.4h0M170.9 629.9h0M199.7 625.6h0M178.5 645.7h0M175.2 610.8h0M166.5 632.5h0M201.4 617.7h0M167.6 636.8h0M167.8 634.3h0M206.3 625.7h0M176.2 609.9h0M195.4 613.2h0M176.0 612.5h0M189.4 636.4h0M196.5 618.8h0M189.2 621.0h0M194.8 633.8h0M210.3 626.5h0M210.7 618.9h0M170.5 638.7h0M179.8 636.1h0M170.1 643.3h0M199.3 624.4h0M166.3 622.9h0M195.0 636.3h0M200.2 627.8h0M166.1 636.5h0M194.7 642.8h0M179.9 621.8h0M174.4 623.8h0M209.2 628.8h0M178.5 615.8h0M211.3 624.4h0M187.2 644.3h0M184.4 643.9h0M172.2 646.5h0M184.0 623.1h0M199.1 629.4h0M183.7 634.4h0M193.3 640.2h0M201.8 623.0h0M197.3 623.5h0M197.6 610.3h0M194.7 637.9h0M173.9 624.1h0M186.5 630.1h0M178.2 635.2h0M180.2 617.7h0M194.4 633.7h0M203.0 617.7h0M184.5 620.0h0M179.7 629.7h0M204.7 639.3h0M201.5 629.9h0M176.1 624.7h0M211.1 633.8h0M174.4 636.6h0M205.5 609.8h0M199.1 619.5h0M181.4 629.2h0M211.5 609.0h0M208.3 638.8h0M194.6 627.4h0M210.8 643.4h0M167.9 611.0h0M201.2 627.5h0M184.0 641.9h0M184.2 617.9h0M212.9 615.2h0M199.4 640.2h0M185.1 612.5h0M203.5 643.6h0M166.8 624.3h0M166.3 639.6h0M167.1 626.0h0M183.1 623.0h0M200.8 639.6h0M207.3 628.9h0M196.2 626.5h0M195.8 637.2h0M192.7 631.1h0M166.5 608.9h0M204.3 635.4h0M182.2 626.5h0M182.6 640.1h0M178.1 619.7h0M169.6 632.3h0" stroke="#2a2ad8" stroke-width="0.9" stroke-linecap="round" fill="none" opacity="0.34"/>
</g>
<g transform="translate(0,-0.43)">
<g clip-path="url(#c43)">
<rect x="165.96" y="650.00" width="48.00" height="37.00" fill="#000"/>
<rect x="165.96" y="650.00" width="48.00" height="37.00" filter="url(#rH)"/>
<rect x="165.96" y="650.00" width="48.00" height="37.00" fill="#000" opacity="0.12"/>
<g filter="url(#bl)" fill="#000">
<polygon points="180.4,650.0 190.0,650.0 185.2,654.4" opacity="1"/>
<polygon points="199.6,650.0 214.0,650.0 214.0,655.5" opacity="0.8"/>
</g>
</g>
</g>
<g transform="translate(0,40)">
<g clip-path="url(#c44)">
<rect x="165.96" y="650.00" width="48.00" height="37.50" fill="#000"/>
<rect x="165.96" y="650.00" width="48.00" height="37.50" filter="url(#rH)"/>
<rect x="165.96" y="650.00" width="48.00" height="37.50" fill="#000" opacity="0.12"/>
<g filter="url(#bl)" fill="#000">
<polygon points="180.4,650.0 190.0,650.0 185.2,654.5" opacity="1"/>
<polygon points="199.6,650.0 214.0,650.0 214.0,655.6" opacity="0.8"/>
</g>
<path d="M201.1 675.3h0M186.7 682.8h0M166.1 681.9h0M182.9 677.3h0M210.5 679.7h0M201.5 672.8h0M180.0 657.8h0M182.0 672.4h0M171.5 663.0h0M205.1 670.4h0M185.6 666.2h0M174.3 679.0h0M207.7 685.3h0M212.3 660.1h0M195.1 659.4h0M201.5 650.0h0M213.0 653.2h0M208.9 685.4h0M168.1 669.9h0M209.6 674.2h0M205.8 654.8h0M182.0 676.7h0M203.8 678.3h0M195.7 655.0h0M211.2 653.0h0M175.7 658.1h0M192.8 687.0h0M197.7 678.0h0M188.5 651.1h0M188.0 658.7h0M174.7 662.7h0M200.8 659.7h0M167.0 669.1h0M200.1 660.5h0M195.1 685.4h0M209.6 680.7h0M208.9 679.9h0M185.7 682.3h0M194.9 675.0h0M206.5 671.0h0M166.2 686.4h0M208.3 670.6h0M187.1 676.0h0M201.6 685.0h0M171.1 672.9h0M185.6 681.1h0M179.9 667.4h0M190.5 681.6h0M200.6 652.2h0M196.0 652.1h0M196.0 664.3h0M196.0 667.9h0M193.8 657.2h0M188.4 651.0h0M173.0 652.8h0M174.0 656.2h0M173.0 675.7h0M174.5 655.8h0M181.1 677.7h0M172.4 683.4h0M205.1 660.6h0M195.0 672.7h0M180.2 667.5h0M212.3 684.2h0M183.8 674.2h0M205.5 685.8h0M210.7 667.2h0M176.6 662.7h0M167.9 668.8h0M205.5 655.5h0M196.1 677.5h0M180.7 675.6h0M192.9 668.0h0M179.3 667.5h0M168.6 665.6h0M168.7 672.1h0M171.2 656.2h0M194.7 661.7h0M194.3 677.7h0M201.5 661.7h0M186.9 659.2h0M181.7 655.2h0M168.1 660.8h0M205.1 671.3h0M182.6 660.3h0M175.7 650.7h0M172.9 651.9h0M191.9 662.2h0M193.8 666.9h0M173.8 677.5h0M178.6 651.2h0M207.4 675.4h0M212.1 654.7h0M205.1 675.3h0M172.2 669.7h0M186.9 654.6h0M173.0 684.0h0M179.9 681.3h0M195.3 675.1h0M189.0 681.4h0M212.2 666.1h0M207.5 662.7h0M203.1 656.7h0M189.0 676.6h0M180.1 682.2h0M196.7 684.7h0M186.3 653.8h0M171.5 679.4h0M184.3 678.5h0M213.1 673.3h0M183.6 661.2h0M208.2 666.0h0M197.1 678.7h0M179.5 659.4h0M182.5 679.2h0M203.3 686.0h0M176.6 681.7h0M199.2 667.9h0M206.6 666.1h0M196.3 656.0h0M179.9 666.8h0M178.0 674.8h0M210.7 668.8h0M192.5 667.5h0M172.8 656.4h0M180.2 660.6h0M173.3 679.7h0M209.1 685.8h0M182.6 682.8h0M171.3 662.6h0M167.7 668.5h0M179.1 667.5h0M202.1 660.4h0M213.9 662.2h0M208.2 682.6h0M190.0 651.2h0M208.6 670.2h0M202.0 661.0h0M180.9 652.5h0M166.9 650.3h0M206.3 650.4h0M189.8 672.4h0M185.2 653.7h0M208.2 653.3h0M197.2 671.2h0M207.3 683.8h0M186.5 685.3h0M172.2 661.6h0M202.0 682.0h0M193.6 653.8h0M191.8 674.0h0M206.1 657.3h0M167.6 655.1h0M194.9 677.3h0M180.8 683.0h0M204.4 671.5h0M191.5 684.4h0M184.5 652.0h0M190.6 651.9h0M166.3 686.5h0M212.7 667.9h0M195.4 666.5h0M189.2 663.9h0M188.5 684.3h0M179.6 678.3h0M182.0 676.8h0M176.0 670.5h0M207.5 668.2h0M200.0 680.9h0M207.6 676.2h0M196.7 686.3h0M206.9 664.1h0M180.0 686.9h0M207.4 658.9h0M207.5 684.1h0M172.9 652.8h0M187.0 675.8h0M211.6 655.5h0M212.9 677.7h0M166.6 678.4h0M192.6 652.5h0M179.4 663.5h0M169.5 670.3h0M200.9 679.5h0M169.4 685.9h0M168.4 683.9h0M200.3 685.3h0M178.3 667.4h0M202.3 661.3h0M194.4 669.6h0M191.0 663.9h0M195.1 669.9h0M178.4 664.2h0M200.7 657.0h0M192.3 683.7h0M213.7 651.8h0M176.8 655.0h0M199.5 678.9h0M208.7 671.1h0M183.0 655.1h0M169.4 678.3h0M183.1 662.9h0M205.8 653.5h0M207.9 678.3h0M208.2 660.5h0M210.6 667.7h0M179.7 650.5h0M171.0 655.8h0M175.2 687.3h0M169.2 676.5h0M200.5 654.6h0M174.8 653.0h0M168.0 660.3h0M198.7 657.2h0M200.3 677.6h0M188.7 670.9h0M207.9 651.0h0M202.7 651.4h0M202.7 671.7h0M203.8 659.7h0M170.9 676.6h0M190.3 650.2h0M173.2 666.9h0M187.7 681.7h0M212.3 679.3h0M205.2 661.0h0M185.5 681.9h0M169.2 683.1h0M181.2 681.0h0M171.7 683.8h0M193.0 670.9h0M213.3 684.6h0M175.2 655.3h0M192.7 672.8h0M202.4 659.2h0M192.7 653.3h0M173.8 668.7h0M194.7 668.7h0M184.4 656.0h0M182.2 667.3h0M173.2 674.5h0M186.7 660.1h0M177.7 665.9h0M173.6 672.5h0M211.9 659.5h0M172.4 681.0h0M194.9 680.7h0M185.8 659.6h0M200.3 678.2h0M195.9 651.3h0M198.1 670.0h0M213.7 683.8h0M183.6 664.5h0M200.8 683.9h0M207.7 674.0h0M188.6 660.7h0M184.6 656.0h0M196.5 667.0h0M208.3 683.8h0M207.8 680.5h0M171.3 658.8h0M199.4 676.9h0M166.7 663.8h0M188.4 685.1h0M184.3 681.7h0M190.4 681.0h0M168.6 681.2h0M204.6 667.3h0M185.0 679.3h0M206.1 660.3h0M207.8 681.8h0M202.5 669.5h0M209.4 654.8h0M181.1 675.7h0M206.5 651.0h0M202.8 671.0h0M192.7 664.9h0M186.4 671.9h0M205.2 658.5h0M209.3 675.8h0M207.3 654.9h0M174.3 661.1h0M177.6 666.7h0M184.5 668.3h0M190.2 680.3h0M172.8 667.9h0M183.7 679.9h0M198.4 680.5h0M190.6 670.4h0M200.1 681.0h0M199.5 659.2h0M212.1 669.2h0M212.1 679.5h0M207.2 661.5h0M199.5 654.8h0M189.1 677.0h0M172.7 651.1h0M203.6 670.2h0M168.2 686.1h0M210.7 666.2h0M208.5 663.6h0M196.0 676.2h0M186.8 672.8h0M207.0 653.3h0M201.2 656.3h0M206.2 664.8h0M205.3 674.2h0M181.3 657.0h0M195.7 658.5h0M170.8 661.9h0M209.0 658.8h0M175.7 668.1h0M184.2 684.3h0M187.4 659.5h0M209.1 653.1h0M187.7 676.5h0M170.6 656.0h0M198.0 664.7h0M198.7 652.8h0M202.8 670.6h0M208.1 653.3h0M183.3 671.9h0M211.7 652.4h0M208.3 682.0h0M198.8 678.3h0M196.5 686.2h0M195.7 684.2h0M193.1 678.2h0M176.7 686.1h0M189.6 653.9h0M181.3 668.2h0M167.1 676.9h0M205.9 680.5h0M194.8 683.8h0M208.9 677.5h0M205.5 659.7h0M167.3 680.8h0M210.1 673.1h0M190.8 663.9h0M166.4 660.0h0M196.9 687.5h0M211.9 669.2h0M207.5 657.0h0M212.5 682.1h0M211.0 684.6h0M166.1 669.5h0M180.1 657.9h0M170.5 681.3h0M171.9 661.3h0M196.7 658.0h0M183.4 663.7h0M204.0 679.7h0M209.6 670.5h0M205.3 669.5h0M169.2 652.9h0M197.3 678.1h0M200.1 679.7h0M188.0 664.8h0M172.2 687.5h0M188.6 666.6h0M178.0 673.7h0M197.3 654.7h0M167.8 653.7h0M170.8 650.0h0M204.3 652.9h0M198.1 680.6h0M211.2 673.5h0M188.5 663.0h0M202.9 686.1h0M172.6 687.3h0M189.4 666.6h0M203.0 686.3h0M175.1 650.1h0M182.1 674.7h0" stroke="#4a3cff" stroke-width="1.05" stroke-linecap="round" fill="none" opacity="0.55"/>
</g>
</g>
<g clip-path="url(#c45)">
<rect x="215.28" y="608.75" width="48.00" height="38.25" fill="#000"/>
<path d="M233.5 623.7h0M229.6 617.8h0M220.6 623.7h0M228.5 636.1h0M230.2 643.5h0M241.5 620.9h0M227.1 613.1h0M218.3 621.9h0M236.2 613.0h0M239.0 639.0h0M226.1 616.8h0M255.1 636.8h0M234.2 629.9h0M242.9 615.5h0M219.7 624.7h0M216.2 643.3h0M236.6 643.6h0M238.3 623.1h0M234.3 636.6h0M254.1 637.9h0M228.0 640.2h0M229.3 627.3h0M235.6 632.7h0M243.7 632.5h0M232.6 621.2h0M222.2 629.9h0M256.0 640.5h0M245.2 613.9h0M238.1 643.4h0M237.0 609.1h0M239.0 636.3h0M253.3 626.1h0M253.9 617.2h0M249.7 646.0h0M243.6 629.2h0M229.5 612.7h0M247.1 619.0h0M252.7 625.4h0M234.6 621.1h0M222.9 635.2h0M247.4 613.0h0M260.0 628.7h0M217.0 638.6h0M220.2 644.4h0M244.1 624.2h0M228.1 623.9h0M222.3 643.5h0M229.6 643.8h0M249.8 616.6h0M233.0 634.5h0M239.6 641.8h0M245.3 644.7h0M237.2 617.7h0M248.8 643.0h0M221.3 642.2h0M216.4 632.4h0M243.2 627.8h0M252.2 625.2h0M232.5 625.0h0M220.0 639.5h0M252.0 642.4h0M228.4 633.7h0M217.7 626.3h0M222.8 613.2h0M219.1 610.2h0M219.2 613.3h0M244.0 617.0h0M221.4 618.3h0M227.1 633.8h0M225.1 621.5h0M240.8 645.4h0M256.6 626.3h0M258.6 645.4h0M229.1 608.8h0M247.7 636.0h0M253.4 617.8h0M218.3 639.6h0M226.0 640.7h0M241.8 616.4h0M250.6 637.3h0M229.7 614.5h0M231.6 625.6h0M218.9 612.9h0M222.6 617.4h0M233.4 615.1h0M230.5 640.4h0M226.0 638.5h0M254.4 625.5h0M235.0 639.5h0M235.5 622.7h0M235.2 637.3h0M231.8 616.2h0M232.1 626.5h0M225.2 623.7h0M236.5 609.1h0M217.6 608.9h0M219.9 621.8h0M228.4 635.2h0M229.0 624.3h0M245.8 639.7h0M219.7 617.3h0M243.2 621.5h0M219.5 629.2h0M251.3 609.9h0M240.7 615.1h0M249.6 613.5h0M250.6 636.2h0M217.6 612.1h0M262.4 627.5h0M249.0 638.3h0M233.4 609.8h0M260.2 616.9h0M222.4 618.3h0M253.1 643.1h0M254.6 643.4h0M245.4 622.2h0M220.8 631.7h0M250.1 612.1h0M254.5 636.5h0M245.2 618.1h0" stroke="#2a2ad8" stroke-width="0.9" stroke-linecap="round" fill="none" opacity="0.75"/>
<path d="M246.2 636.2h0M253.3 645.7h0M247.9 628.9h0M240.3 637.5h0M238.1 609.8h0M223.9 631.0h0M257.4 640.0h0M218.3 622.0h0M237.1 615.8h0M251.0 629.1h0M233.0 622.6h0M236.9 631.4h0M243.3 631.9h0M254.1 632.6h0M236.4 646.7h0M246.8 625.5h0M230.9 646.4h0M238.1 637.8h0M248.6 642.5h0M242.3 616.7h0M228.6 627.0h0M222.6 614.5h0M233.4 610.9h0M229.3 626.9h0M246.0 631.5h0M254.6 618.0h0M233.1 612.3h0M232.4 642.3h0M221.9 615.8h0M245.5 627.3h0M220.9 634.5h0M243.8 610.0h0M244.2 628.0h0M239.1 634.2h0M251.6 624.3h0M217.6 628.5h0M223.4 633.1h0M253.2 619.6h0M262.7 611.5h0M235.8 633.7h0M225.3 631.1h0M238.3 623.1h0M216.0 642.2h0M242.5 613.1h0M240.1 627.0h0M240.9 615.7h0M219.6 630.3h0M223.3 614.1h0M225.7 626.1h0M232.7 636.7h0M257.2 639.4h0M235.2 613.2h0M223.3 613.9h0M241.8 631.4h0M252.6 619.6h0M218.6 639.6h0M239.8 635.9h0M233.5 609.8h0M250.0 646.2h0M244.2 646.6h0M239.2 630.5h0M228.9 643.0h0M216.4 611.9h0M254.7 637.9h0M215.7 616.8h0M252.4 632.8h0M216.2 645.4h0M254.2 646.9h0M215.4 615.3h0M254.2 620.0h0M237.7 611.7h0M219.6 636.5h0M253.6 631.4h0M228.9 630.6h0M244.3 627.0h0M232.7 611.9h0M219.7 643.6h0M262.2 624.1h0M244.1 641.2h0M248.8 635.5h0M229.1 628.1h0M245.4 615.2h0M223.5 622.0h0M223.2 638.0h0M242.8 622.7h0M242.9 616.1h0M219.2 609.3h0M250.6 620.4h0M218.9 646.3h0M239.5 618.2h0M249.1 642.9h0M215.6 611.2h0M239.4 630.8h0M227.1 639.5h0M224.3 628.4h0M220.0 620.1h0M222.8 635.6h0M245.1 642.1h0M242.5 626.5h0M249.3 611.3h0M247.3 629.7h0M240.5 636.4h0M229.7 620.0h0M248.5 619.7h0M246.8 612.2h0M231.0 620.9h0M241.4 645.0h0M253.5 611.0h0M243.8 621.9h0M224.3 616.6h0M219.9 645.3h0M241.5 629.6h0M236.2 639.6h0M233.4 646.6h0M219.6 613.8h0M225.6 612.8h0M230.7 623.0h0M250.4 638.8h0M236.0 643.0h0M242.1 609.4h0" stroke="#2a2ad8" stroke-width="0.9" stroke-linecap="round" fill="none" opacity="0.30"/>
</g>
<g transform="translate(0,-0.57)">
<g clip-path="url(#c46)">
<rect x="215.28" y="650.00" width="48.00" height="37.00" fill="#000"/>
<rect x="215.28" y="650.00" width="48.00" height="37.00" filter="url(#rH)"/>
<rect x="215.28" y="650.00" width="48.00" height="37.00" fill="#000" opacity="0.45"/>
<g filter="url(#bl)" fill="#000">
<polygon points="251.3,650.0 263.3,650.0 263.3,668.5" opacity="1"/>
<polygon points="229.7,670.4 244.1,672.2 244.1,674.4 229.7,672.9" opacity="0.7"/>
</g>
<polyline points="229.7,670.7 236.9,672.2 245.0,672.9" fill="none" stroke="#000" stroke-width="1.0" opacity="0.8"/>
</g>
</g>
<g transform="translate(0,40)">
<g clip-path="url(#c47)">
<rect x="215.28" y="650.00" width="48.00" height="37.50" fill="#000"/>
<rect x="215.28" y="650.00" width="48.00" height="37.50" filter="url(#rH)"/>
<rect x="215.28" y="650.00" width="48.00" height="37.50" fill="#000" opacity="0.45"/>
<g filter="url(#bl)" fill="#000">
<polygon points="251.3,650.0 263.3,650.0 263.3,668.8" opacity="1"/>
<polygon points="229.7,670.6 244.1,672.5 244.1,674.8 229.7,673.2" opacity="0.7"/>
</g>
<polyline points="229.7,671.0 236.9,672.5 245.0,673.2" fill="none" stroke="#000" stroke-width="1.0" opacity="0.8"/>
<path d="M236.1 660.1h0M239.9 664.5h0M261.5 656.4h0M243.1 656.2h0M240.5 660.4h0M239.0 661.2h0M258.5 668.8h0M252.1 679.6h0M263.0 663.1h0M226.2 651.5h0M216.0 680.3h0M233.1 651.8h0M245.1 671.1h0M221.2 660.4h0M220.1 653.4h0M239.8 685.0h0M245.0 664.6h0M218.6 662.2h0M226.1 655.4h0M220.7 684.8h0M260.3 650.3h0M256.4 655.5h0M234.5 657.6h0M240.0 684.6h0M224.5 664.9h0M231.8 671.4h0M221.1 650.1h0M222.4 685.0h0M243.8 672.0h0M230.0 657.5h0M248.4 654.7h0M250.2 669.5h0M256.5 661.7h0M246.7 673.0h0M238.6 681.2h0M244.2 678.3h0M248.3 675.8h0M219.3 668.6h0M224.0 658.6h0M231.1 671.3h0M237.4 660.9h0M234.2 687.1h0M225.1 672.3h0M260.4 673.8h0M243.9 651.5h0M241.4 680.2h0M230.2 658.1h0M215.5 664.2h0M224.0 673.1h0M252.1 667.7h0M237.4 650.6h0M232.7 677.4h0M244.6 658.6h0M224.9 686.5h0M223.6 679.2h0M231.0 673.4h0M250.5 668.9h0M218.8 650.4h0M226.5 677.9h0M220.2 681.5h0M242.5 650.3h0M246.9 661.2h0M215.8 677.9h0M234.2 666.1h0M219.3 655.2h0M230.8 655.8h0M249.8 686.8h0M257.4 678.5h0M228.6 659.2h0M226.6 686.4h0M237.9 657.1h0M217.1 673.2h0M254.9 656.1h0M238.4 662.7h0M223.7 658.5h0M252.3 667.7h0M248.9 663.7h0M218.6 650.7h0M237.7 673.7h0M233.6 678.8h0M236.7 665.7h0M237.4 666.1h0M245.6 672.7h0M235.6 661.5h0M242.3 650.5h0M241.7 652.8h0M216.7 672.5h0M237.7 687.0h0M243.1 672.1h0M224.9 669.1h0M219.4 661.8h0M242.8 684.4h0M252.6 675.8h0M216.4 671.5h0M259.2 673.5h0M240.4 665.7h0M261.4 675.0h0M253.6 684.4h0M238.7 652.7h0M240.2 663.1h0M255.9 656.1h0M219.5 666.1h0M217.3 650.6h0M251.7 668.1h0M255.0 686.3h0M220.4 658.9h0M236.4 662.9h0M245.9 666.2h0M219.8 679.6h0M216.1 674.0h0M220.2 665.5h0M221.4 668.0h0M229.8 669.5h0M252.8 666.1h0M222.0 660.0h0M262.3 675.4h0M250.5 680.3h0M253.3 669.6h0M243.2 651.8h0M215.9 656.0h0M248.0 673.5h0M248.9 672.5h0M221.6 681.8h0M233.0 683.3h0M228.2 673.3h0M246.9 673.3h0M248.6 658.6h0M244.2 680.8h0M230.3 680.7h0M251.7 680.5h0M228.6 681.6h0M218.4 673.2h0M253.0 675.9h0M254.9 659.2h0M224.2 659.5h0M250.9 654.3h0M238.1 650.5h0M253.7 686.3h0M223.9 663.7h0M251.2 668.7h0M237.0 663.9h0M230.7 683.6h0M226.7 676.9h0M222.9 671.8h0M253.7 665.6h0M241.4 674.4h0M236.5 668.4h0M221.1 665.9h0M233.7 669.5h0M243.2 680.4h0M248.0 670.5h0M221.0 669.1h0M234.4 668.6h0M249.7 652.7h0M254.4 682.9h0M251.8 664.7h0M223.8 680.0h0M252.0 667.0h0M233.9 680.3h0M244.3 658.0h0M225.7 653.2h0M252.7 661.9h0M230.5 675.7h0M226.3 653.1h0M231.0 676.7h0M220.0 669.6h0M248.7 681.3h0M251.7 678.7h0M250.0 655.0h0M243.7 663.5h0M255.2 655.9h0M225.8 674.1h0M221.6 651.0h0M260.1 686.8h0M221.0 682.4h0M229.4 683.8h0M216.1 659.8h0M242.4 673.9h0M226.6 686.6h0M224.4 686.9h0M246.5 667.4h0M223.0 651.4h0M229.9 668.9h0M235.9 658.8h0M249.5 685.0h0M224.8 673.7h0M242.8 670.7h0M228.6 671.0h0M218.6 655.1h0M247.1 654.5h0M251.5 681.1h0M246.3 661.5h0M257.4 657.6h0M235.9 669.5h0M246.1 661.6h0M221.7 676.1h0M226.0 681.9h0M241.3 676.5h0M253.5 659.9h0M241.5 657.6h0M241.5 681.7h0M216.5 675.4h0M222.5 664.5h0M247.7 664.6h0" stroke="#4a3cff" stroke-width="1.05" stroke-linecap="round" fill="none" opacity="0.55"/>
</g>
</g>
<g clip-path="url(#c48)">
<rect x="264.60" y="608.75" width="48.00" height="38.25" fill="#000"/>
<path d="M283.9 632.7h0M290.2 632.1h0M268.2 644.1h0M303.2 630.4h0M283.2 613.3h0M269.3 631.6h0M288.5 624.9h0M299.3 630.9h0M276.9 632.2h0M282.5 623.9h0M281.5 640.7h0M273.4 627.2h0M296.7 643.9h0M289.0 616.9h0M288.6 643.3h0M308.4 628.1h0M310.1 608.8h0M279.1 634.7h0M286.8 645.9h0M309.4 637.8h0M283.6 633.1h0M267.2 621.7h0M299.0 626.0h0M302.6 620.9h0M274.9 636.9h0M295.1 630.8h0M285.2 618.5h0M296.7 615.4h0M280.8 635.3h0M294.9 642.0h0M274.1 625.4h0M268.6 643.5h0M294.3 624.1h0M285.8 632.3h0M286.5 630.8h0M267.6 643.1h0M286.9 634.5h0M290.8 630.6h0M268.0 631.7h0M309.2 626.7h0M271.3 636.8h0M296.7 612.3h0M310.1 638.6h0M299.8 626.5h0M304.3 645.3h0M277.5 643.0h0M265.9 646.5h0M285.7 645.1h0M282.9 629.1h0M305.1 644.0h0M272.2 627.7h0M283.2 643.4h0M271.2 620.9h0M294.8 644.8h0M280.8 615.9h0M304.1 636.2h0M300.5 645.5h0M311.0 612.3h0M276.3 620.3h0M279.3 637.1h0M272.7 635.4h0M308.4 633.9h0M307.3 643.5h0M285.4 623.4h0M288.6 643.5h0M303.5 631.2h0M270.9 629.7h0M265.7 635.7h0M282.1 627.2h0M269.8 643.6h0M270.4 612.9h0M268.1 617.7h0M281.9 644.7h0M298.2 634.1h0M265.5 615.8h0M272.0 622.2h0M295.3 623.8h0M294.0 634.4h0M285.6 611.7h0M273.2 630.4h0M282.5 639.8h0M281.7 637.9h0M280.6 617.0h0M286.1 616.1h0M278.5 616.8h0M302.8 619.1h0M305.5 628.7h0M277.1 632.6h0M276.1 639.1h0M267.0 646.1h0M287.2 637.2h0M277.9 609.2h0M269.0 644.3h0M294.4 626.7h0M290.0 646.1h0M269.3 619.7h0M307.7 635.7h0M277.4 627.0h0M276.5 638.0h0M298.1 635.0h0M300.6 633.6h0M305.4 631.1h0M268.5 631.6h0M297.8 617.3h0M268.3 642.2h0M298.3 643.8h0M306.1 641.0h0M309.8 609.8h0M270.9 620.8h0M270.6 627.2h0M280.0 624.1h0M286.7 622.1h0M312.0 629.5h0M272.4 646.4h0M266.8 634.8h0M265.7 642.4h0M297.3 638.3h0M294.7 623.2h0M293.9 639.7h0M287.7 635.2h0M308.8 626.3h0M266.1 631.6h0M312.1 615.6h0M277.9 619.8h0M298.4 646.9h0M294.7 637.6h0M272.0 629.0h0M307.4 611.6h0M266.6 642.8h0M289.2 630.4h0M292.9 633.1h0M271.5 630.1h0M277.6 639.9h0M269.8 646.8h0M267.1 645.4h0M279.9 618.9h0M265.2 641.8h0M290.0 638.3h0M311.1 628.1h0M270.8 645.5h0M310.3 612.9h0M287.8 620.7h0M286.0 631.7h0M269.6 630.1h0M307.3 621.0h0M306.7 643.7h0M273.5 641.6h0M269.1 610.4h0M269.8 641.5h0M276.3 626.3h0M284.2 637.1h0M296.0 643.7h0M286.6 644.7h0M282.8 614.8h0M264.9 614.4h0M289.4 629.9h0M280.3 622.8h0M278.3 624.5h0M301.0 616.6h0M302.1 615.7h0M299.8 620.3h0M303.1 636.7h0M292.8 644.7h0M265.5 642.0h0M284.3 621.0h0M268.8 611.9h0M296.9 641.8h0M270.2 618.5h0M276.1 641.5h0M266.0 646.7h0M302.8 646.3h0M266.5 641.5h0M292.6 642.2h0M275.2 643.5h0M280.1 631.8h0M279.8 643.8h0M302.7 633.5h0M285.9 632.9h0M281.7 632.1h0M277.0 618.3h0M283.1 612.4h0M298.5 629.8h0M274.3 634.6h0M270.2 633.7h0M290.9 623.2h0M277.9 633.7h0M275.2 616.2h0M271.7 644.2h0M269.6 641.3h0M291.6 614.5h0M265.9 634.4h0M282.6 610.1h0M306.9 638.4h0M286.2 634.6h0M306.0 640.6h0M293.9 624.7h0M281.6 631.9h0M304.7 611.1h0M288.8 628.1h0M283.7 640.2h0M267.6 635.8h0M281.7 640.0h0M309.6 623.2h0M290.3 634.3h0M274.0 625.7h0M289.1 616.0h0M293.2 636.4h0M286.5 626.7h0M269.6 613.8h0M286.7 635.9h0M275.7 643.0h0M306.1 638.0h0M303.9 643.7h0M276.8 634.7h0M299.7 642.8h0M279.2 628.8h0M304.9 637.9h0M303.9 639.4h0M292.6 612.5h0M286.6 643.7h0M309.9 621.1h0M284.7 615.5h0M265.1 644.0h0M283.0 616.6h0M264.9 615.0h0M281.7 636.7h0M296.1 615.8h0M312.2 609.8h0M296.6 631.0h0M274.4 641.2h0M285.9 623.5h0M273.5 635.3h0M282.7 618.2h0M305.6 640.2h0M284.1 634.6h0M312.2 636.7h0M309.5 611.2h0M271.0 631.7h0M269.7 632.8h0M291.6 646.8h0M310.3 640.0h0M276.8 642.3h0M306.2 630.9h0M279.0 625.8h0M288.9 620.6h0M271.1 608.9h0M310.1 612.2h0M274.9 636.8h0M311.6 613.6h0M303.7 626.1h0M304.4 642.1h0M274.4 617.5h0M267.1 641.9h0M291.1 629.9h0M297.1 646.3h0M274.1 628.9h0M285.7 638.6h0M311.9 616.8h0M274.7 611.1h0M278.4 644.5h0" stroke="#2a2ad8" stroke-width="0.9" stroke-linecap="round" fill="none" opacity="0.95"/>
<path d="M280.6 642.2h0M285.2 636.5h0M278.9 634.7h0M287.1 620.7h0M306.5 612.7h0M302.1 640.2h0M296.7 640.9h0M296.5 622.5h0M303.6 640.1h0M280.9 636.4h0M284.9 628.5h0M294.2 631.2h0M311.9 640.6h0M300.6 620.7h0M310.1 622.2h0M295.5 635.4h0M276.7 643.5h0M303.6 614.5h0M278.4 637.1h0M274.6 645.7h0M275.5 639.9h0M276.3 626.5h0M309.0 643.7h0M278.9 621.8h0M295.6 642.5h0M270.4 627.5h0M275.6 637.9h0M301.6 635.0h0M271.6 634.4h0M268.6 610.9h0M311.5 627.5h0M294.8 630.2h0M273.3 615.9h0M293.1 633.1h0M276.1 645.5h0M289.9 617.6h0M306.6 638.4h0M301.6 630.7h0M292.1 631.7h0M309.5 620.4h0M272.1 625.5h0M284.6 610.3h0M267.9 646.8h0M291.7 633.4h0M279.7 610.8h0M273.6 635.1h0M282.2 637.9h0M270.7 618.6h0M303.2 620.8h0M309.0 623.7h0M301.4 620.3h0M280.9 643.8h0M304.8 628.5h0M276.7 632.4h0M276.6 623.7h0M273.9 630.8h0M300.3 641.7h0M298.3 629.9h0M288.6 629.4h0M287.3 629.4h0M284.8 619.6h0M280.5 641.1h0M269.8 622.3h0M268.2 642.6h0M288.7 617.6h0M305.6 632.5h0M265.2 618.0h0M312.3 628.9h0M298.4 646.8h0M279.4 625.6h0M267.4 627.2h0M290.7 632.5h0M283.5 642.9h0M287.8 629.0h0M288.4 625.5h0M288.0 625.1h0M288.1 609.3h0M290.8 630.1h0M305.6 643.2h0M270.4 637.2h0M305.4 633.5h0M278.9 621.7h0M304.4 630.8h0M311.4 625.9h0M273.8 643.0h0M276.6 639.6h0M269.1 631.7h0M297.0 626.4h0M285.7 626.3h0M271.1 627.3h0M289.4 641.4h0M307.2 621.5h0M300.4 636.0h0M306.2 614.4h0M311.6 637.0h0M266.0 627.1h0M277.8 627.5h0M303.1 637.1h0M276.7 615.7h0M307.0 643.4h0M295.8 646.1h0M294.1 614.8h0M277.1 639.6h0M288.2 634.5h0M298.9 640.7h0M310.0 627.4h0M270.4 639.8h0M290.4 617.3h0M301.4 628.5h0M308.0 623.1h0M289.9 633.2h0M307.4 640.0h0M312.1 639.7h0M285.8 642.2h0M270.1 645.3h0M275.0 621.1h0M271.5 639.0h0M305.6 634.2h0M301.9 611.5h0M303.2 632.6h0M277.0 621.3h0M276.4 641.5h0M279.6 633.7h0M270.8 616.8h0M291.1 647.0h0M279.4 616.3h0M280.7 623.2h0M297.2 640.7h0M310.2 643.9h0M312.1 616.5h0M269.9 633.5h0M268.0 630.1h0M289.7 640.0h0M277.7 623.2h0M301.0 638.3h0M277.1 626.7h0M301.7 629.4h0M280.6 638.0h0M310.1 617.5h0M287.9 609.2h0M277.5 637.2h0M293.8 636.0h0M269.6 644.4h0M267.3 621.7h0M295.0 632.7h0M279.6 618.3h0M282.0 623.1h0M297.1 625.3h0M270.7 630.9h0M307.6 621.9h0M270.7 639.0h0M265.2 642.5h0M289.1 614.4h0M273.1 628.6h0M271.1 637.2h0M307.8 636.6h0M269.0 635.4h0M302.7 618.4h0M267.2 610.0h0M303.4 617.7h0M306.1 613.5h0M270.6 633.9h0M309.8 623.1h0M300.9 623.8h0M310.8 635.1h0M269.5 633.1h0M286.1 613.6h0M283.9 619.7h0M267.6 612.6h0M310.6 632.6h0M288.4 631.0h0M286.6 641.8h0M268.8 643.8h0M281.5 626.2h0M300.7 617.8h0M296.9 625.6h0M295.4 628.8h0M265.5 614.8h0M311.6 631.7h0M286.2 634.6h0M277.9 610.5h0M276.6 644.9h0M273.1 641.7h0M290.5 622.6h0M268.6 637.2h0M283.8 646.6h0M309.5 642.7h0M279.7 630.1h0M286.3 637.2h0M290.8 615.2h0M286.0 622.0h0M291.8 634.8h0M304.7 641.8h0M308.4 616.6h0M310.9 622.7h0M283.2 645.7h0M273.2 631.8h0M298.2 640.0h0M279.9 644.5h0M278.0 643.8h0M295.6 637.5h0M270.6 626.9h0M301.3 631.1h0M289.7 646.8h0M272.9 634.7h0M292.9 615.8h0M268.5 615.0h0M305.8 644.4h0M303.3 635.2h0M287.9 641.9h0M280.7 617.4h0M311.8 638.0h0M306.5 609.8h0M279.8 644.1h0M311.2 614.1h0M266.9 636.2h0M274.9 613.8h0M292.8 644.2h0M291.1 626.4h0M268.3 631.6h0M312.6 643.4h0M304.9 637.3h0M274.0 610.8h0M289.1 634.6h0M289.8 645.6h0M300.6 639.4h0M304.7 643.4h0M306.6 633.9h0M308.8 609.3h0M272.2 642.7h0M304.0 646.5h0M269.6 636.1h0M294.8 626.4h0M304.2 627.7h0M312.0 626.6h0M265.9 639.0h0M298.3 628.0h0M300.8 638.4h0M293.2 626.3h0M292.0 630.1h0M271.1 636.8h0M265.8 610.1h0M280.8 633.9h0M288.0 633.5h0M293.2 644.8h0M312.2 621.1h0M292.1 617.1h0M274.7 619.9h0M285.1 620.6h0M283.7 644.5h0M270.0 643.8h0M278.5 617.7h0M308.0 611.7h0M272.9 642.3h0M290.7 613.2h0M302.3 644.6h0M276.0 635.8h0M285.2 639.9h0M289.7 630.8h0M275.6 627.7h0" stroke="#2a2ad8" stroke-width="0.9" stroke-linecap="round" fill="none" opacity="0.38"/>
</g>
<g transform="translate(0,-0.71)">
<g clip-path="url(#c49)">
<rect x="264.60" y="650.00" width="48.00" height="37.00" fill="#000"/>
<rect x="264.60" y="650.00" width="48.00" height="37.00" filter="url(#rH)"/>
<rect x="264.60" y="650.00" width="48.00" height="37.00" fill="#000" opacity="0.1"/>
<g filter="url(#bl)" fill="#000">
<polygon points="303.0,650.0 312.6,650.0 312.6,677.8 307.8,675.9 304.0,663.0" opacity="1"/>
<polygon points="287.6,671.5 292.4,671.5 293.4,675.2 287.6,675.2" opacity="0.9"/>
</g>
<polyline points="294.4,677.8 298.2,670.4 304.0,663.0" fill="none" stroke="#000" stroke-width="1.2" opacity="0.8"/>
</g>
</g>
<g transform="translate(0,40)">
<g clip-path="url(#c50)">
<rect x="264.60" y="650.00" width="48.00" height="37.50" fill="#000"/>
<rect x="264.60" y="650.00" width="48.00" height="37.50" filter="url(#rH)"/>
<rect x="264.60" y="650.00" width="48.00" height="37.50" fill="#000" opacity="0.1"/>
<g filter="url(#bl)" fill="#000">
<polygon points="303.0,650.0 312.6,650.0 312.6,678.1 307.8,676.2 304.0,663.1" opacity="1"/>
<polygon points="287.6,671.8 292.4,671.8 293.4,675.5 287.6,675.5" opacity="0.9"/>
</g>
<polyline points="294.4,678.1 298.2,670.6 304.0,663.1" fill="none" stroke="#000" stroke-width="1.2" opacity="0.8"/>
<path d="M270.4 661.7h0M283.6 682.5h0M267.8 663.4h0M300.4 683.6h0M273.4 668.4h0M288.9 672.8h0M294.8 651.4h0M312.0 659.8h0M298.1 673.2h0M286.8 651.9h0M277.9 667.1h0M283.1 672.6h0M287.6 681.9h0M280.3 666.6h0M298.7 686.7h0M269.3 678.2h0M277.7 663.0h0M306.4 678.2h0M303.2 675.7h0M271.7 682.1h0M303.8 665.8h0M293.1 669.9h0M268.7 685.4h0M264.7 662.1h0M290.7 668.1h0M306.9 652.7h0M311.1 679.2h0M283.7 684.5h0M269.0 677.9h0M287.8 672.2h0M309.2 677.9h0M284.7 675.9h0M278.7 670.9h0M269.6 665.1h0M303.4 675.7h0M299.3 661.8h0M278.1 655.5h0M278.1 679.8h0M273.9 678.4h0M309.2 663.5h0M295.0 680.0h0M296.6 671.7h0M287.2 666.8h0M289.6 669.7h0M308.0 680.0h0M287.3 684.0h0M281.3 684.9h0M281.7 673.6h0M302.6 683.5h0M275.7 686.4h0M308.7 670.8h0M288.6 683.1h0M308.5 684.7h0M291.8 673.8h0M280.5 673.8h0M297.5 666.0h0M295.9 678.7h0M308.0 666.5h0M286.3 651.1h0M306.7 682.0h0M284.1 664.9h0M265.2 657.5h0M310.2 650.5h0M266.4 675.5h0M297.9 659.2h0M290.1 683.3h0M265.7 658.9h0M278.0 679.3h0M308.8 684.6h0M309.2 683.1h0M283.9 668.1h0M272.5 653.7h0M282.3 686.6h0M310.8 653.9h0M281.1 675.8h0M290.3 683.4h0M296.4 672.1h0M303.1 655.9h0M310.0 670.6h0M309.9 666.6h0M301.0 677.4h0M296.3 675.9h0M266.4 680.1h0M294.3 665.5h0M284.1 679.4h0M265.1 670.8h0M290.3 686.0h0M268.1 670.0h0M272.0 654.9h0M298.1 672.0h0M309.7 669.6h0M301.7 651.0h0M281.6 664.8h0M305.3 671.6h0M289.3 678.7h0M299.4 652.6h0M279.7 667.4h0M271.6 665.7h0M290.9 682.9h0M296.5 650.6h0M303.8 685.3h0M271.8 684.2h0M295.5 671.4h0M305.7 681.0h0M277.7 675.9h0M286.2 670.1h0M303.9 664.7h0M296.5 669.4h0M270.5 685.3h0M274.3 677.5h0M268.5 680.1h0M304.0 673.0h0M304.7 672.3h0M306.8 676.2h0M268.1 668.9h0M282.6 681.1h0M311.6 685.1h0M282.2 672.0h0M282.7 665.7h0M312.3 684.0h0M275.1 680.9h0M309.7 655.1h0M272.3 681.7h0M305.5 685.7h0M278.8 654.5h0M271.9 681.7h0M312.5 650.6h0M299.6 667.1h0M298.9 682.6h0M306.5 677.7h0M289.3 651.9h0M301.6 686.5h0M311.7 687.2h0M302.9 656.8h0M282.6 686.4h0M280.2 669.8h0M287.7 651.5h0M284.4 659.6h0M299.6 655.9h0M286.3 663.9h0M294.7 655.1h0M288.8 678.3h0M287.6 672.7h0M274.8 683.9h0M276.4 685.1h0M278.2 668.9h0M309.6 670.3h0M278.4 685.1h0M303.8 651.6h0M304.9 665.5h0M312.4 657.6h0M291.2 682.1h0M285.0 671.2h0M296.0 669.0h0M282.2 680.1h0M305.9 674.6h0M272.5 651.4h0M275.2 684.7h0M299.6 670.0h0M296.2 683.9h0M310.0 683.1h0M308.1 671.6h0M277.8 681.4h0M267.5 662.8h0M276.4 683.1h0M289.3 669.3h0M297.8 675.9h0M293.9 674.6h0M279.3 684.2h0M268.7 677.2h0M289.2 680.2h0M281.7 683.6h0M273.6 654.7h0M288.9 678.7h0M299.5 674.1h0M265.7 659.7h0M304.2 686.7h0M286.1 671.1h0M270.4 661.7h0M282.1 676.3h0M304.3 679.5h0M295.0 675.2h0M267.1 681.8h0M300.3 686.8h0M298.9 671.7h0M278.8 670.8h0M269.9 678.4h0M282.7 682.6h0M299.6 656.7h0M303.0 685.5h0M297.6 654.4h0M305.6 661.5h0M274.5 679.0h0M286.2 671.1h0M297.8 675.3h0M291.6 666.7h0M267.3 666.1h0M310.7 683.3h0M301.8 660.2h0M265.5 652.3h0M274.9 658.4h0M311.1 673.6h0M286.8 666.0h0M300.5 660.0h0M305.1 673.1h0M282.4 673.2h0M273.7 666.5h0M271.9 655.9h0M302.6 669.4h0M277.0 668.2h0M310.5 651.5h0M298.8 684.7h0M299.5 663.0h0M268.1 667.6h0M303.7 671.3h0M290.9 668.1h0M311.1 669.4h0M295.5 680.4h0M304.8 672.5h0M304.3 661.6h0M285.8 683.3h0M298.3 684.5h0M305.0 670.4h0M278.9 656.3h0M282.4 653.8h0M295.9 666.1h0M284.8 684.9h0M289.8 672.3h0M287.0 683.0h0M294.2 679.3h0M269.8 653.6h0M280.0 666.1h0M303.8 655.5h0M269.2 675.3h0M274.8 672.9h0M308.0 681.6h0M282.5 673.6h0M295.5 679.2h0M284.4 662.0h0M273.9 656.4h0M277.0 683.5h0M300.9 684.6h0M304.6 682.5h0M267.2 650.7h0M306.4 668.4h0M307.2 677.9h0M302.8 677.5h0M265.8 678.8h0M286.3 664.6h0M274.5 672.2h0M278.6 673.0h0M307.1 653.1h0M271.6 681.9h0M280.0 657.4h0M273.5 682.5h0M302.8 653.5h0M310.1 677.8h0M290.5 653.9h0M269.6 652.5h0M281.2 685.7h0M266.5 665.9h0M283.3 685.4h0M285.7 669.2h0M275.6 671.0h0M281.0 678.0h0M280.8 651.0h0M306.8 684.8h0M276.9 673.3h0M267.7 676.5h0M307.5 673.3h0M299.0 664.4h0M272.2 653.7h0M286.7 674.3h0M284.3 678.5h0M293.5 675.8h0M295.4 683.0h0M284.6 675.1h0M279.8 677.4h0M267.8 682.9h0M303.2 686.8h0M286.8 683.2h0M303.6 677.4h0M266.1 680.2h0M281.0 653.5h0M280.6 662.3h0M276.9 661.0h0M307.7 670.5h0M266.9 671.1h0M275.3 677.0h0M268.8 671.0h0M310.9 670.3h0M290.0 687.0h0M302.6 673.7h0M272.7 659.9h0M288.4 653.9h0M273.0 659.9h0M301.6 683.1h0M311.2 684.6h0M280.3 670.2h0M302.4 683.0h0M265.0 681.1h0M301.1 657.2h0M267.2 681.0h0M302.3 681.4h0M287.4 682.8h0M290.1 659.3h0M296.0 683.5h0M280.0 650.4h0M303.5 663.5h0M306.6 660.6h0M292.6 674.0h0M289.2 678.9h0M267.5 663.4h0M286.1 682.5h0M276.3 682.2h0M297.1 666.6h0M293.1 684.7h0M306.3 668.8h0M265.1 675.2h0M288.7 687.4h0M265.6 675.2h0M290.2 682.1h0M307.5 675.3h0M308.6 664.3h0M270.3 679.9h0M282.8 654.3h0M286.7 682.4h0M279.9 679.5h0M303.9 661.1h0M288.3 656.3h0M268.5 653.0h0M310.0 681.7h0M281.7 678.0h0M290.2 675.5h0M304.8 681.2h0M293.0 673.3h0M294.1 680.4h0M267.7 677.5h0M277.7 676.2h0M269.0 666.6h0M284.2 666.5h0M305.3 660.4h0M277.1 679.5h0M272.7 684.7h0M276.8 680.1h0M309.6 669.6h0M272.7 672.0h0M281.2 679.0h0M266.8 685.4h0M309.9 681.6h0M292.7 677.8h0M307.1 662.9h0M292.9 670.5h0M292.3 653.0h0M287.7 680.8h0M297.0 668.0h0M270.3 667.8h0M306.7 656.8h0M282.4 677.0h0M303.8 687.3h0M286.7 655.7h0M294.5 671.0h0M288.3 683.1h0M306.7 680.4h0M309.7 665.6h0M289.1 679.2h0M287.2 675.2h0M274.0 672.9h0M273.0 686.9h0M289.0 685.2h0M303.5 681.8h0M300.6 662.6h0M309.7 656.0h0M294.1 683.1h0M304.6 672.6h0M269.9 678.4h0M289.8 674.0h0M272.9 686.1h0M272.8 652.9h0M285.5 671.1h0M301.7 681.7h0M270.2 672.9h0M298.0 671.0h0M289.4 675.1h0M276.0 656.4h0M310.8 656.2h0M287.2 663.5h0M270.7 681.4h0M282.7 673.2h0M273.0 664.4h0M291.7 674.9h0M302.0 680.2h0M294.6 657.4h0M305.3 655.5h0M291.8 679.6h0M277.1 679.9h0M277.5 662.6h0M270.6 685.5h0M311.8 676.9h0M279.6 667.8h0M264.7 663.3h0M303.3 664.7h0M291.0 685.0h0M281.4 655.8h0M296.8 668.8h0M305.6 661.5h0M291.6 677.3h0M277.8 664.6h0M312.6 670.9h0M287.6 678.5h0M279.3 682.3h0M280.1 676.6h0M296.1 684.4h0M278.9 659.6h0M291.6 679.6h0M287.7 651.9h0M306.9 655.9h0M303.0 665.0h0M294.9 666.6h0M303.1 674.1h0M271.7 667.5h0M307.3 661.8h0M270.0 676.9h0M287.2 683.2h0M276.2 664.2h0M270.6 670.5h0M300.1 682.4h0M277.1 685.8h0M298.6 678.2h0M266.8 676.2h0M266.8 664.8h0M303.5 655.8h0M276.1 667.9h0M294.0 683.9h0M267.2 671.3h0M276.2 674.5h0M265.9 666.3h0M277.0 683.3h0M312.4 673.6h0M307.4 667.4h0M292.7 684.3h0M292.3 685.5h0" stroke="#4a3cff" stroke-width="1.05" stroke-linecap="round" fill="none" opacity="0.55"/>
</g>
</g>
<g clip-path="url(#c51)">
<rect x="313.92" y="608.75" width="48.00" height="38.25" fill="#000"/>
<path d="M330.0 627.3h0M327.5 638.9h0M338.2 615.6h0M325.8 646.3h0M351.9 644.6h0M315.1 621.3h0M354.4 625.3h0M316.1 621.3h0M358.2 629.0h0M351.7 620.2h0M345.1 641.7h0M342.6 618.5h0M351.3 620.1h0M342.8 642.4h0M346.2 615.5h0M328.5 616.8h0M320.5 614.8h0M316.9 631.4h0M349.7 631.9h0M328.9 622.0h0M359.8 622.3h0M345.4 640.5h0M315.1 637.1h0M345.0 621.3h0M337.4 634.5h0M334.0 628.4h0M313.9 622.1h0M346.6 643.3h0M339.4 613.1h0M325.4 638.0h0M324.6 615.7h0M341.3 632.0h0M327.8 644.0h0M330.0 641.1h0M351.0 620.4h0M348.6 623.8h0M349.2 614.9h0M330.8 612.6h0M359.4 635.2h0M325.6 633.5h0M347.1 611.6h0M345.4 621.7h0M324.9 622.8h0M352.7 630.8h0M341.3 624.5h0M321.5 630.7h0M338.7 640.0h0M349.0 635.9h0M320.8 617.1h0M319.6 616.8h0M337.8 634.5h0M325.4 643.2h0M322.9 621.0h0M348.2 631.8h0M328.5 636.5h0M314.1 628.4h0M314.6 630.2h0M334.3 629.5h0M343.5 611.2h0M316.7 629.7h0M348.4 634.2h0M350.8 638.2h0M321.4 612.1h0M330.0 642.3h0M318.4 623.8h0M317.8 613.0h0M344.0 626.8h0M342.0 630.1h0M320.4 627.9h0M326.7 612.6h0" stroke="#2a2ad8" stroke-width="0.9" stroke-linecap="round" fill="none" opacity="0.5"/>
<path d="M343.9 613.0h0M324.5 622.0h0M360.6 609.8h0M354.2 637.6h0M334.9 639.5h0M318.2 616.2h0M358.9 627.1h0M346.2 612.0h0M355.1 627.5h0M315.9 624.0h0M356.8 614.4h0M356.1 623.2h0M330.2 626.5h0M351.3 632.4h0M356.2 645.0h0M346.2 642.4h0M316.4 635.5h0M336.8 609.2h0M331.9 612.3h0M314.4 634.3h0M329.3 639.7h0M356.2 617.3h0M316.4 646.1h0M346.0 645.9h0M347.9 624.2h0M314.4 614.2h0M343.5 624.3h0M343.6 645.7h0M360.3 628.9h0M350.0 640.4h0M335.7 637.1h0M341.9 617.2h0M318.5 631.0h0M330.1 639.6h0M357.1 623.4h0M351.6 619.6h0M337.5 620.0h0M359.6 612.5h0M321.7 624.9h0M314.3 632.7h0M320.5 626.7h0M354.5 625.3h0M352.6 618.2h0M344.3 636.8h0M346.4 617.6h0M328.6 633.8h0M357.5 635.0h0M349.5 645.0h0M345.1 642.7h0M351.5 623.8h0M338.0 624.7h0M328.6 617.1h0M333.4 643.3h0M323.6 622.1h0M356.2 646.1h0M339.7 626.9h0M336.6 641.1h0M342.7 644.1h0M332.7 629.3h0M357.6 612.9h0M339.6 615.5h0M337.4 611.3h0M356.5 619.4h0M329.1 609.8h0M349.9 637.6h0M355.1 624.6h0M332.3 641.3h0M345.6 627.2h0M342.2 618.2h0M327.2 618.4h0" stroke="#2a2ad8" stroke-width="0.9" stroke-linecap="round" fill="none" opacity="0.20"/>
</g>
<g transform="translate(0,-0.86)">
<g clip-path="url(#c52)">
<rect x="313.92" y="650.00" width="48.00" height="37.00" fill="#000"/>
<rect x="313.92" y="650.00" width="48.00" height="37.00" filter="url(#rH)"/>
<rect x="313.92" y="650.00" width="48.00" height="37.00" fill="#000" opacity="0.48"/>
<g filter="url(#bl)" fill="#000">
<polygon points="335.5,654.4 361.9,661.1 361.9,663.7 335.5,656.3" opacity="1"/>
<polygon points="352.3,687.0 361.9,675.9 361.9,687.0" opacity="0.6"/>
</g>
<polyline points="335.5,654.8 347.5,657.4 361.9,662.2" fill="none" stroke="#000" stroke-width="1.2" opacity="0.85"/>
</g>
</g>
<g transform="translate(0,40)">
<g clip-path="url(#c53)">
<rect x="313.92" y="650.00" width="48.00" height="37.50" fill="#000"/>
<rect x="313.92" y="650.00" width="48.00" height="37.50" filter="url(#rH)"/>
<rect x="313.92" y="650.00" width="48.00" height="37.50" fill="#000" opacity="0.48"/>
<g filter="url(#bl)" fill="#000">
<polygon points="335.5,654.5 361.9,661.2 361.9,663.9 335.5,656.4" opacity="1"/>
<polygon points="352.3,687.5 361.9,676.2 361.9,687.5" opacity="0.6"/>
</g>
<polyline points="335.5,654.9 347.5,657.5 361.9,662.4" fill="none" stroke="#000" stroke-width="1.2" opacity="0.85"/>
<path d="M340.2 654.2h0M335.0 684.4h0M349.4 660.4h0M331.1 652.4h0M344.0 676.4h0M356.5 683.2h0M353.8 661.0h0M319.4 653.6h0M346.6 654.3h0M360.1 663.0h0M324.7 650.9h0M314.4 676.9h0M347.6 654.3h0M359.1 682.5h0M322.3 672.0h0M340.3 656.0h0M320.3 685.7h0M327.2 684.5h0M355.7 672.1h0M319.0 685.1h0M341.9 660.3h0M358.4 665.9h0M361.8 651.7h0M321.2 679.0h0M342.1 678.0h0M340.3 675.2h0M332.4 671.1h0M339.1 672.7h0M340.9 673.0h0M358.8 684.9h0M316.2 665.9h0M352.5 673.3h0M357.9 664.8h0M323.0 659.8h0M316.9 674.2h0M316.1 659.5h0M343.2 677.6h0M354.4 662.8h0M321.4 662.9h0M329.8 665.4h0M333.0 672.4h0M361.7 660.5h0M348.7 666.6h0M352.3 672.5h0M317.2 685.6h0M355.0 655.9h0M358.0 651.9h0M350.2 676.0h0M345.4 655.2h0M314.7 677.5h0M315.6 650.1h0M337.5 658.1h0M337.9 660.4h0M332.4 668.1h0M334.5 661.5h0M319.2 676.5h0M328.7 679.7h0M323.7 651.7h0M333.4 674.5h0M344.7 661.2h0M359.8 651.6h0M327.6 667.3h0M320.5 656.5h0M345.7 681.6h0M314.9 680.2h0M335.9 684.7h0M351.2 677.9h0M319.0 659.8h0M337.5 671.2h0M346.9 684.0h0M359.1 660.5h0M314.1 673.8h0M323.7 664.0h0M351.8 685.8h0M351.8 654.6h0M351.5 677.0h0M330.7 661.2h0M314.0 664.9h0M349.9 653.5h0M342.6 679.3h0M343.6 679.9h0M345.4 675.5h0M345.1 653.7h0M342.8 660.2h0M353.9 667.9h0M327.5 668.2h0M346.7 659.0h0M317.0 657.1h0M352.9 681.5h0M319.4 653.0h0M357.2 673.7h0M327.7 651.2h0M317.3 673.8h0M319.7 662.6h0M353.6 653.3h0M331.1 686.0h0M318.5 671.8h0M332.7 657.5h0M353.4 663.4h0M327.3 676.2h0M342.5 669.7h0M314.2 675.4h0M352.4 682.1h0M319.4 664.6h0M360.0 675.6h0M315.5 650.3h0M328.9 678.6h0M350.5 665.5h0M337.1 666.3h0M348.9 685.1h0M330.5 675.1h0M337.1 653.7h0M320.7 672.6h0M356.2 681.6h0M332.2 662.0h0M321.1 657.1h0M317.9 676.7h0M332.1 670.8h0M353.5 669.0h0" stroke="#4a3cff" stroke-width="1.05" stroke-linecap="round" fill="none" opacity="0.55"/>
</g>
</g>
<g clip-path="url(#c54)">
<rect x="363.24" y="608.75" width="48.00" height="38.25" fill="#000"/>
<path d="M397.5 609.8h0M402.8 641.7h0M367.7 630.5h0M383.3 630.9h0M374.6 640.4h0M406.0 610.1h0M405.8 611.1h0M393.9 611.3h0M404.6 615.9h0M363.9 617.5h0M382.5 629.1h0M406.2 645.0h0M371.5 609.0h0M364.9 608.9h0M383.4 627.4h0M366.8 621.8h0M368.0 614.4h0M376.2 631.5h0M400.8 615.8h0M381.7 608.9h0M365.8 629.2h0M403.6 618.6h0M378.9 617.6h0M393.2 617.0h0M410.0 632.7h0M406.1 609.4h0M366.3 609.9h0M376.9 646.8h0M370.3 614.2h0M393.5 625.7h0M395.7 638.7h0M374.5 618.4h0M384.9 640.1h0M388.9 626.1h0M377.0 637.1h0M368.3 611.2h0M388.3 622.0h0M407.1 634.7h0M402.4 629.1h0M385.0 644.7h0M404.2 646.4h0M366.1 640.7h0M385.9 642.7h0M406.8 634.5h0M373.6 625.2h0M367.4 622.5h0M394.3 614.4h0M395.5 612.3h0M395.9 628.0h0M392.3 622.3h0M375.3 623.6h0M409.4 611.7h0M389.4 624.2h0M370.8 627.4h0M409.4 638.1h0M380.5 628.7h0M382.9 609.0h0M392.1 614.3h0M400.6 634.0h0M381.2 632.6h0M407.6 611.5h0M377.4 614.0h0M364.7 640.0h0M375.3 643.8h0M405.3 639.7h0M399.6 633.4h0M388.1 641.0h0M392.9 618.3h0M374.0 635.4h0M367.3 632.7h0M381.8 639.9h0M404.7 628.4h0M379.9 630.5h0M378.4 619.7h0M368.9 627.6h0M383.9 612.2h0M385.6 622.8h0M397.8 642.8h0M400.9 628.4h0M410.5 614.5h0M394.5 628.3h0M407.2 625.8h0M404.2 634.4h0M387.4 638.3h0M397.2 635.0h0M401.7 620.9h0M399.4 638.5h0M375.5 638.5h0M394.9 620.0h0M368.6 620.2h0M411.0 642.2h0M408.9 644.2h0M364.4 637.3h0M370.7 646.1h0M384.3 620.3h0M381.9 635.4h0M392.9 640.5h0M405.4 613.9h0M405.6 635.3h0M366.8 625.5h0M366.6 638.3h0M372.3 645.4h0M410.0 637.5h0M383.3 608.8h0M404.4 636.3h0M382.9 637.5h0M384.1 629.5h0M373.7 623.4h0M411.0 643.7h0M400.2 641.6h0M376.7 637.8h0M374.2 625.0h0M371.7 613.9h0M374.4 639.8h0M401.5 635.0h0M396.5 626.0h0M387.3 614.8h0M386.3 633.5h0M400.8 617.6h0M381.7 623.5h0M408.0 629.9h0M373.9 618.6h0M365.6 639.2h0M372.9 639.5h0M390.7 635.5h0M407.1 640.9h0M400.0 633.0h0M404.5 610.3h0M407.6 639.1h0M377.5 619.2h0M400.8 630.4h0M366.6 634.8h0M391.9 624.9h0M393.0 612.5h0M384.6 635.5h0M378.4 612.5h0M372.5 609.1h0M366.0 610.9h0M380.6 616.9h0M380.3 643.9h0M398.3 626.6h0M406.1 622.4h0M389.6 635.2h0M389.2 635.2h0M403.7 625.4h0M387.6 608.8h0M376.2 626.3h0M375.0 624.3h0M383.5 609.5h0M409.2 619.3h0M384.9 638.6h0M393.5 643.8h0M373.7 614.5h0M395.6 630.7h0M392.0 612.3h0M379.0 616.3h0M364.7 615.3h0M394.4 632.5h0M400.6 617.2h0M387.3 637.7h0M404.6 609.0h0M402.8 614.7h0M406.1 612.4h0M382.9 636.8h0M379.4 643.0h0M399.1 624.4h0M382.4 646.6h0M382.3 627.8h0M379.3 640.9h0M397.8 638.6h0" stroke="#2a2ad8" stroke-width="0.9" stroke-linecap="round" fill="none" opacity="0.8"/>
<path d="M409.7 614.7h0M385.7 621.2h0M400.6 630.0h0M387.1 626.3h0M399.8 636.7h0M407.5 615.7h0M403.2 612.6h0M373.6 618.9h0M373.9 634.5h0M386.5 640.2h0M388.2 621.6h0M364.8 639.2h0M371.8 638.2h0M404.1 631.2h0M399.1 636.4h0M396.6 614.6h0M389.2 615.0h0M409.8 615.0h0M377.9 623.8h0M381.6 634.9h0M393.8 633.9h0M406.3 624.2h0M385.8 612.6h0M410.5 616.2h0M365.4 631.3h0M384.6 640.5h0M368.2 642.5h0M370.2 625.9h0M396.2 627.8h0M405.7 627.4h0M364.0 621.2h0M363.9 622.9h0M384.4 618.0h0M404.2 646.3h0M405.9 644.5h0M410.1 626.8h0M375.4 618.0h0M409.5 634.8h0M386.1 641.7h0M404.0 629.9h0M379.9 626.0h0M378.2 631.1h0M389.0 638.1h0M387.8 644.9h0M387.3 610.8h0M392.7 633.8h0M404.8 623.5h0M402.5 629.9h0M386.5 621.7h0M370.5 620.8h0M363.2 619.7h0M371.9 643.1h0M364.6 617.3h0M366.0 638.6h0M372.6 610.1h0M376.0 612.0h0M391.3 612.5h0M387.4 644.9h0M383.0 617.9h0M390.6 631.2h0M375.5 618.4h0M372.9 635.3h0M369.6 612.0h0M408.6 621.0h0M376.6 621.8h0M393.6 620.7h0M377.1 629.2h0M383.4 632.3h0M390.7 633.6h0M391.2 634.6h0M400.3 639.6h0M390.7 634.8h0M397.7 616.9h0M366.1 611.2h0M400.1 645.9h0M364.3 615.4h0M397.3 624.4h0M401.2 629.2h0M394.8 646.9h0M399.6 612.2h0M398.5 643.1h0M396.7 630.0h0M391.7 615.3h0M374.8 624.4h0M395.8 618.4h0M375.4 642.7h0M390.9 640.1h0M404.8 628.9h0M375.4 635.6h0M385.4 639.4h0M403.6 610.1h0M399.4 633.3h0M401.2 644.8h0M379.9 609.3h0M395.3 636.7h0M407.7 636.3h0M380.2 620.0h0M364.2 646.2h0M395.3 625.7h0M369.1 615.7h0M395.7 616.9h0M369.2 609.9h0M381.8 630.4h0M405.6 631.5h0M369.3 645.7h0M411.0 617.1h0M364.2 641.6h0M399.0 621.5h0M399.7 627.1h0M368.3 620.3h0M407.3 643.2h0M367.4 618.9h0M385.0 638.2h0M370.5 620.7h0M374.6 612.0h0M388.2 633.0h0M372.5 625.7h0M408.9 646.7h0M387.2 618.9h0M391.9 614.5h0M409.8 617.3h0M390.2 628.7h0M378.2 616.5h0M369.7 631.6h0M366.7 618.8h0M382.6 609.1h0M384.4 636.1h0M365.0 630.8h0M399.1 610.0h0M370.2 645.5h0M378.1 638.8h0M387.5 621.9h0M368.0 638.0h0M367.6 628.1h0M406.5 615.1h0M380.4 637.9h0M409.9 640.8h0M399.3 611.0h0M395.4 634.6h0M401.4 612.5h0M376.7 632.4h0M391.5 620.2h0M409.6 614.1h0M387.1 643.1h0M395.2 612.0h0M371.6 621.3h0M407.1 637.0h0M372.7 614.8h0M390.0 624.4h0M376.8 637.2h0M374.9 621.4h0M364.3 616.8h0M379.7 618.3h0M376.6 640.0h0M378.7 636.6h0M401.3 636.1h0M390.1 643.3h0M371.0 630.8h0M389.5 610.7h0M386.9 617.9h0M383.0 611.5h0M365.7 612.1h0M386.8 642.2h0M380.9 628.8h0M408.5 640.8h0M395.1 615.6h0M400.7 612.3h0M404.5 640.6h0M404.5 632.2h0M403.9 635.8h0" stroke="#2a2ad8" stroke-width="0.9" stroke-linecap="round" fill="none" opacity="0.32"/>
</g>
<g transform="translate(0,-1.00)">
<g clip-path="url(#c55)">
<rect x="363.24" y="650.00" width="48.00" height="37.00" fill="#000"/>
<rect x="363.24" y="650.00" width="48.00" height="37.00" filter="url(#rH)"/>
<rect x="363.24" y="650.00" width="48.00" height="37.00" fill="#000" opacity="0.12"/>
<g filter="url(#bl)" fill="#000">
<polygon points="387.2,655.5 391.1,654.4 399.7,685.1 395.9,687.0" opacity="1"/>
<polygon points="363.2,664.8 375.2,653.7 377.2,655.9 365.2,667.4" opacity="1"/>
<polygon points="405.5,650.0 411.2,650.0 411.2,659.2" opacity="0.9"/>
</g>
</g>
</g>
<g transform="translate(0,40)">
<g clip-path="url(#c56)">
<rect x="363.24" y="650.00" width="48.00" height="37.50" fill="#000"/>
<rect x="363.24" y="650.00" width="48.00" height="37.50" filter="url(#rH)"/>
<rect x="363.24" y="650.00" width="48.00" height="37.50" fill="#000" opacity="0.12"/>
<g filter="url(#bl)" fill="#000">
<polygon points="387.2,655.6 391.1,654.5 399.7,685.6 395.9,687.5" opacity="1"/>
<polygon points="363.2,665.0 375.2,653.8 377.2,656.0 365.2,667.6" opacity="1"/>
<polygon points="405.5,650.0 411.2,650.0 411.2,659.4" opacity="0.9"/>
</g>
<path d="M387.7 657.6h0M375.2 682.2h0M393.1 675.4h0M378.0 682.6h0M394.4 682.4h0M385.1 678.8h0M372.3 673.7h0M372.9 676.2h0M380.1 663.8h0M365.1 665.3h0M384.8 669.8h0M403.7 651.1h0M409.8 662.6h0M410.7 657.9h0M365.5 685.4h0M402.5 676.1h0M402.4 664.1h0M374.5 686.5h0M392.8 650.2h0M396.2 665.8h0M378.2 655.7h0M383.6 660.9h0M391.4 666.6h0M408.4 669.4h0M371.1 680.4h0M405.9 668.0h0M409.7 669.3h0M367.2 659.8h0M367.1 650.6h0M386.5 667.4h0M393.7 663.8h0M396.6 651.6h0M401.1 660.2h0M378.9 659.4h0M404.4 686.8h0M406.1 673.6h0M392.0 672.5h0M386.7 676.3h0M389.4 673.6h0M375.9 668.5h0M395.4 653.3h0M394.3 657.3h0M378.4 673.0h0M393.6 681.1h0M372.3 667.8h0M405.9 661.0h0M377.9 684.1h0M386.4 650.1h0M379.4 662.7h0M382.3 683.5h0M392.1 668.6h0M402.8 681.6h0M392.6 673.5h0M409.5 667.7h0M366.6 660.7h0M410.3 686.9h0M365.8 671.9h0M387.6 673.5h0M391.5 654.6h0M390.2 666.0h0M367.6 660.7h0M371.7 669.6h0M379.1 661.1h0M407.5 686.5h0M380.1 661.4h0M392.6 661.1h0M401.0 685.7h0M379.5 670.9h0M374.4 681.3h0M374.1 686.4h0M408.3 660.9h0M364.6 677.1h0M380.3 679.7h0M367.5 666.5h0M365.2 680.9h0M397.0 679.5h0M366.3 655.6h0M398.5 685.3h0M373.1 664.4h0M401.8 672.2h0M403.0 651.6h0M388.3 683.5h0M393.5 671.2h0M385.4 680.9h0M401.6 663.4h0M380.5 683.8h0M391.6 681.8h0M395.9 677.3h0M390.0 659.9h0M393.6 664.0h0M411.1 674.4h0M409.7 681.3h0M374.7 679.6h0M380.1 659.5h0M384.7 674.1h0M390.9 662.1h0M377.9 674.9h0M373.5 676.0h0M409.4 667.3h0M406.5 677.0h0M375.4 674.5h0M384.1 677.3h0M388.7 673.6h0M392.8 685.9h0M385.5 677.4h0M376.5 676.1h0M366.8 665.9h0M386.0 674.3h0M370.9 684.5h0M408.5 677.9h0M368.5 652.1h0M392.2 661.2h0M385.9 680.0h0M397.9 683.2h0M400.0 678.5h0M371.2 674.9h0M397.2 676.6h0M387.7 650.3h0M410.0 677.6h0M376.9 650.5h0M363.5 684.6h0M389.6 670.0h0M379.6 658.3h0M378.3 667.3h0M401.5 681.7h0M409.5 659.3h0M363.5 663.4h0M364.8 652.9h0M390.0 673.7h0M381.8 665.9h0M392.9 664.8h0M408.6 682.3h0M379.2 676.4h0M377.0 659.1h0M374.0 654.4h0M396.1 651.2h0M388.6 664.3h0M364.4 662.7h0M380.1 682.4h0M370.7 663.8h0M367.4 655.5h0M363.7 666.8h0M374.6 679.3h0M369.9 666.3h0M384.7 667.2h0M388.2 680.8h0M404.4 650.9h0M386.1 668.8h0M403.1 655.8h0M397.8 683.8h0M403.1 653.6h0M387.5 683.0h0M397.1 663.3h0M383.6 653.5h0M396.4 657.6h0M367.5 657.9h0M410.7 673.6h0M388.4 663.9h0M378.1 661.7h0M385.2 686.1h0M366.9 668.5h0M389.1 656.3h0M405.2 660.9h0M382.7 679.3h0M400.6 660.9h0M409.5 673.1h0M380.5 672.0h0M411.2 658.8h0M372.6 653.7h0M389.2 662.8h0M408.2 682.9h0M367.3 668.5h0M401.5 674.0h0M400.3 687.4h0M388.5 658.4h0M371.9 664.4h0M374.8 668.1h0M410.7 669.5h0M394.5 661.0h0M402.2 685.7h0M409.8 686.4h0M389.7 678.0h0M399.6 683.7h0M380.0 676.2h0M373.7 661.0h0M390.7 662.2h0M369.4 668.4h0M402.5 660.8h0M409.5 660.1h0M384.1 661.1h0M380.9 685.9h0M409.8 657.3h0M393.7 675.6h0M398.0 667.4h0M386.8 674.7h0M391.3 660.2h0M382.7 652.1h0M399.9 652.4h0M410.2 650.5h0M380.1 682.6h0M377.3 685.0h0M374.6 677.4h0M411.2 653.8h0M405.4 670.5h0M372.1 683.1h0M408.6 671.6h0M393.6 665.4h0M373.7 663.3h0M395.1 652.7h0M385.9 675.3h0M397.6 680.1h0M407.2 685.7h0M380.8 675.0h0M396.3 662.8h0M388.5 681.6h0M407.3 658.7h0M403.4 664.8h0M389.6 679.0h0M393.3 668.3h0M368.7 659.2h0M392.1 664.0h0M403.7 668.3h0M410.2 658.8h0M386.3 660.9h0M402.3 675.0h0M407.5 654.9h0M386.7 671.2h0M376.8 664.8h0M405.1 674.8h0M395.7 680.6h0M386.0 656.9h0M363.5 676.9h0M374.5 657.3h0M385.0 657.2h0M411.0 661.3h0M383.2 650.9h0M399.0 661.9h0M377.7 681.4h0M380.2 686.5h0M406.6 677.0h0M382.1 683.1h0M374.6 656.1h0M408.3 673.2h0M376.7 653.4h0M365.1 679.7h0M380.9 665.6h0M390.9 679.0h0M374.6 654.0h0M373.4 686.4h0M377.3 669.8h0M389.4 656.0h0M387.0 657.5h0M391.5 683.5h0M396.7 679.6h0M381.5 669.9h0M395.6 663.5h0M397.6 686.0h0M384.2 660.4h0M378.6 676.5h0M410.8 653.3h0M365.0 663.6h0M398.1 676.5h0M366.8 657.1h0M376.7 678.8h0M383.8 670.0h0M364.6 665.1h0M394.9 684.1h0M377.8 656.7h0M396.3 679.9h0M384.0 682.9h0M368.2 672.0h0M377.5 666.0h0M389.0 669.7h0M377.6 667.2h0M396.1 684.9h0M398.5 655.9h0M398.3 656.0h0M378.5 651.9h0M399.4 664.4h0M383.0 684.4h0M387.6 659.8h0M377.0 658.5h0M372.6 671.0h0M367.8 685.9h0M407.2 664.6h0M405.8 657.8h0M389.8 672.1h0M393.0 667.5h0M368.9 667.4h0" stroke="#4a3cff" stroke-width="1.05" stroke-linecap="round" fill="none" opacity="0.55"/>
</g>
</g>
<text x="391.00" y="722.60" font-size="6.6" font-weight="bold" fill="#fff" textLength="19.50" lengthAdjust="spacingAndGlyphs">20 μm</text>
<line x1="393.50" y1="724.40" x2="409.00" y2="724.40" stroke="#ddd" stroke-width="0.7"/>
</svg>
</body></html>
